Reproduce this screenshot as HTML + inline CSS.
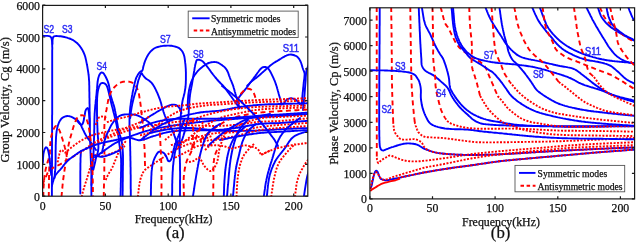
<!DOCTYPE html><html><head><meta charset="utf-8"><style>html,body{margin:0;padding:0;background:#fff;width:637px;height:243px;overflow:hidden}svg{display:block}.t{font-family:"Liberation Serif","Times New Roman",serif;fill:#111;stroke:#111;stroke-width:0.25}.m{font-family:"Liberation Sans",Arial,sans-serif;fill:#2a2af5;stroke:#2a2af5;stroke-width:0.45}.b{fill:none;stroke:#0000ff;stroke-width:1.9;stroke-linejoin:round;stroke-linecap:round}.rd{fill:none;stroke:#ff0000;stroke-width:1.9;stroke-dasharray:5 3.5}.ro{fill:none;stroke:#ff0000;stroke-width:1.9;stroke-dasharray:2 1.5}.r{fill:none;stroke:#ff0000;stroke-width:1.9;stroke-linejoin:round}.ax{fill:none;stroke:#1a1a1a;stroke-width:1.2}</style></head><body>
<svg width="637" height="243" viewBox="0 0 637 243">
<defs><clipPath id="cl"><rect x="42.6" y="5.4" width="265.2" height="190.8"/></clipPath>
<clipPath id="cr"><rect x="369.9" y="7.8" width="264.7" height="191.1"/></clipPath></defs>
<g clip-path="url(#cl)">
<path class="b" d="M43.0,35.9 44.5,35.9 46.0,35.9 47.6,35.9 49.0,36.1 49.9,36.4 50.6,36.8 51.2,37.7 51.6,38.8 51.9,40.2 52.1,42.0 52.2,42.8 52.2,43.6 52.2,44.5 52.2,45.6 52.2,46.6 52.3,47.8 52.3,49.0 52.2,50.3 52.2,51.6 52.2,52.9 52.2,54.3 52.2,55.7 52.2,57.1 52.2,58.6 52.2,60.0 52.2,61.0 52.2,62.0 52.2,63.0 52.2,64.1 52.2,65.2 52.2,66.3 52.2,67.4 52.2,68.5 52.2,69.7 52.2,70.8 52.2,72.0 52.2,73.2 52.2,74.4 52.2,75.6 52.2,76.9 52.2,78.1 52.2,79.4 52.2,80.6 52.2,81.9 52.2,83.2 52.2,84.5 52.2,85.8 52.2,87.0 52.2,88.3 52.2,89.6 52.2,90.9 52.2,92.2 52.2,93.5 52.2,94.8 52.2,96.1 52.2,97.4 52.2,98.7 52.2,100.0 52.2,101.2 52.2,102.3 52.2,103.5 52.2,104.7 52.2,105.8 52.2,107.0 52.2,108.2 52.2,109.4 52.2,110.6 52.2,111.8 52.2,113.1 52.2,114.3 52.1,115.5 52.1,116.7 52.1,117.9 52.1,119.2 52.1,120.4 52.1,121.6 52.1,122.9 52.1,124.1 52.1,125.4 52.1,126.6 52.1,127.9 52.1,129.1 52.1,130.3 52.1,131.6 52.1,132.8 52.1,134.1 52.1,135.3 52.1,136.5 52.0,137.8 52.0,139.0 52.0,140.3 52.0,141.5 52.0,142.7 52.0,143.9 52.0,145.2 52.0,146.4 52.0,147.6 52.0,148.8 52.0,150.0 52.0,151.2 52.0,152.4 52.0,153.7 52.0,154.9 52.0,156.1 52.0,157.3 52.0,158.5 52.0,159.7 52.0,160.9 52.0,162.2 52.0,163.4 52.0,164.6 52.0,165.8 52.0,167.0 52.0,168.2 52.0,169.4 51.9,170.6 51.9,171.8 51.9,173.0 51.9,174.2 51.9,175.4 51.9,176.6 51.9,177.8 51.9,179.0 51.9,180.2 51.9,181.4 51.9,182.6 51.9,183.8 51.9,185.0 51.9,186.2 51.9,187.4 51.9,188.6 51.9,189.8 51.9,191.0 51.9,192.2 51.9,193.4 51.9,194.6 51.9,195.8 51.9,197.0"/>
<path class="b" d="M52.4,44.0 52.4,42.7 52.5,41.4 52.5,40.1 52.7,39.0 53.0,37.6 53.6,36.6 54.2,36.3 55.0,36.1 56.4,36.0 58.0,36.1 59.3,36.2 60.7,36.3 62.0,36.5 63.2,36.7 64.5,37.0 65.7,37.3 67.0,37.7 68.2,38.1 69.5,38.5 70.8,39.0 72.0,39.6 73.2,40.2 74.4,41.0 75.6,41.9 76.7,42.8 77.8,43.8 78.8,44.9 79.8,46.1 80.6,47.2 81.4,48.4 82.1,49.6 82.8,50.8 83.4,52.0 84.0,53.3 84.5,54.6 85.0,56.0 85.3,57.1 85.6,58.3 85.9,59.6 86.2,60.8 86.4,62.1 86.7,63.4 86.9,64.6 87.2,65.8 87.4,67.0 87.6,68.3 87.8,69.5 88.0,70.8 88.2,72.0 88.4,73.3 88.5,74.5 88.7,75.7 88.8,77.0 88.9,78.3 89.0,79.6 89.1,81.0 89.2,82.1 89.2,83.3 89.2,84.5 89.3,85.8 89.3,87.0 89.3,88.3 89.3,89.6 89.3,90.9 89.4,92.3 89.4,93.6 89.4,95.0 89.4,96.1 89.4,97.3 89.5,98.5 89.5,99.7 89.5,100.9 89.5,102.1 89.5,103.4 89.6,104.6 89.6,105.9 89.6,107.2 89.6,108.5 89.6,109.8 89.6,111.1 89.7,112.4 89.7,113.7 89.7,115.0 89.7,116.2 89.7,117.4 89.8,118.6 89.8,119.9 89.8,121.1 89.8,122.4 89.8,123.7 89.8,124.9 89.9,126.2 89.9,127.5 89.9,128.8 89.9,130.1 89.9,131.3 89.9,132.6 90.0,133.9 90.0,135.1 90.0,136.4 90.0,137.6 90.1,138.8 90.1,140.0 90.1,141.3 90.2,142.6 90.2,143.9 90.3,145.2 90.3,146.5 90.3,147.8 90.4,149.1 90.4,150.3 90.5,151.6 90.5,152.8 90.6,154.0 90.6,155.3 90.7,156.5 90.7,157.7 90.8,158.8 90.8,160.0 90.9,161.3 90.9,162.6 91.0,163.8 91.0,165.1 91.1,166.3 91.1,167.5 91.2,168.7 91.2,169.9 91.3,171.1 91.3,172.4 91.4,173.7 91.4,175.0 91.4,176.1 91.4,177.3 91.4,178.4 91.5,179.6 91.5,180.8 91.5,182.0 91.5,183.3 91.5,184.5 91.4,185.7 91.4,187.0 91.4,188.3 91.4,189.5 91.4,190.8 91.4,192.0 91.4,193.3 91.4,194.5 91.4,195.8 91.4,197.0"/>
<path class="b" d="M91.4,185.0 91.5,183.7 91.5,182.5 91.6,181.2 91.7,180.0 91.7,178.7 91.8,177.5 91.8,176.2 91.9,175.0 92.0,173.7 92.0,172.5 92.1,171.2 92.2,170.0 92.3,168.8 92.4,167.5 92.5,166.3 92.6,165.1 92.7,163.8 92.8,162.6 92.9,161.4 93.0,160.1 93.1,158.9 93.2,157.6 93.3,156.3 93.4,155.0 93.5,153.8 93.5,152.6 93.6,151.4 93.6,150.1 93.7,148.9 93.7,147.7 93.8,146.4 93.8,145.1 93.9,143.8 93.9,142.6 93.9,141.3 94.0,140.0 94.0,138.6 94.1,137.3 94.1,136.0 94.1,134.8 94.2,133.7 94.2,132.5 94.2,131.3 94.2,130.1 94.3,128.8 94.3,127.6 94.3,126.4 94.3,125.2 94.3,123.9 94.4,122.7 94.4,121.4 94.4,120.2 94.4,119.0 94.5,117.8 94.5,116.6 94.6,115.4 94.6,114.2 94.7,113.0 94.8,111.7 94.9,110.4 95.0,109.1 95.1,107.8 95.2,106.5 95.3,105.2 95.5,103.9 95.6,102.7 95.7,101.4 95.8,100.1 96.0,98.9 96.1,97.7 96.2,96.5 96.4,95.3 96.5,94.1 96.6,93.0 96.7,91.6 96.8,90.3 97.0,88.9 97.1,87.6 97.2,86.3 97.3,85.0 97.4,83.8 97.5,82.6 97.7,81.5 97.8,80.5 98.0,79.5 98.3,78.0 98.7,76.7 99.1,75.5 99.6,74.5 100.4,73.2 101.4,72.4 102.5,72.6 103.5,73.3 104.3,74.4 105.1,75.7 105.8,77.0 106.5,78.5 107.2,80.0 107.7,81.2 108.1,82.4 108.5,83.7 108.9,85.1 109.1,86.2 109.3,87.3 109.5,88.5 109.7,89.8 109.9,91.1 110.1,92.4 110.3,93.7 110.6,95.0 110.9,96.2 111.2,97.4 111.6,98.6 112.0,99.8 112.4,101.1 112.8,102.3 113.2,103.6 113.6,104.8 114.0,106.1 114.3,107.3 114.6,108.5 114.9,109.8 115.1,111.0 115.4,112.3 115.6,113.6 115.8,114.8 116.1,116.1 116.3,117.3 116.5,118.5 116.7,119.7 116.9,121.0 117.1,122.3 117.4,123.6 117.6,124.9 117.8,126.1 118.0,127.4 118.2,128.7 118.5,130.0 118.8,131.3 119.2,132.5 119.5,133.8 119.9,135.1 120.3,136.3 120.7,137.6 121.1,138.9 121.4,140.2 121.7,141.5 121.9,142.7 122.1,144.0 122.3,145.2 122.4,146.4 122.5,147.6 122.7,148.9 122.7,150.2 122.8,151.6 122.9,153.0 122.9,154.0 123.0,155.1 123.0,156.3 123.0,157.4 123.0,158.6 123.0,159.8 123.0,161.0 123.0,162.3 123.0,163.6 123.0,164.8 122.9,166.1 122.9,167.4 122.9,168.7 122.9,170.0 122.8,171.3 122.8,172.5 122.8,173.8 122.8,175.0 122.8,176.2 122.8,177.4 122.8,178.7 122.8,179.9 122.8,181.1 122.7,182.3 122.7,183.6 122.7,184.8 122.7,186.0 122.7,187.2 122.7,188.4 122.7,189.7 122.7,190.9 122.6,192.1 122.6,193.3 122.6,194.6 122.6,195.8 122.6,197.0"/>
<path class="b" d="M93.3,169.8 93.6,168.6 93.9,167.3 94.2,166.1 94.5,164.8 94.8,163.5 95.1,162.2 95.4,160.8 95.7,159.4 96.0,158.0 96.4,156.7 96.8,155.5 97.2,154.3 97.6,153.0 97.9,151.6 98.2,150.0 98.3,149.0 98.4,147.9 98.4,146.8 98.4,145.6 98.3,144.4 98.3,143.2 98.2,141.9 98.2,140.6 98.1,139.2 98.0,137.9 97.9,136.6 97.8,135.2 97.7,133.9 97.6,132.6 97.5,131.3 97.5,130.0 97.5,128.7 97.4,127.5 97.4,126.2 97.3,125.0 97.3,123.7 97.2,122.4 97.2,121.2 97.2,119.9 97.1,118.6 97.1,117.4 97.1,116.1 97.0,114.9 97.0,113.6 97.0,112.4 97.0,111.2 97.0,110.0 97.0,108.7 97.0,107.4 97.0,106.1 97.0,104.8 97.0,103.5 97.0,102.2 97.1,101.0 97.1,99.7 97.1,98.5 97.2,97.3 97.3,96.1 97.4,95.0 97.5,94.0 97.6,93.0 97.8,91.5 98.1,90.1 98.4,88.8 98.8,87.6 99.1,86.5 99.5,85.6 100.2,84.3 101.0,83.4 101.9,83.0 102.8,82.9 103.8,83.1 104.8,83.6 105.8,84.4 106.6,85.5 107.1,86.6 107.6,88.0 108.0,89.4 108.4,91.0 108.7,92.2 109.0,93.4 109.3,94.7 109.6,96.0 109.9,97.3 110.2,98.7 110.5,100.0 110.8,101.2 111.1,102.5 111.4,103.7 111.7,105.0 112.0,106.2 112.4,107.5 112.7,108.7 113.0,110.0 113.3,111.2 113.6,112.5 114.0,113.7 114.3,115.0 114.6,116.2 114.9,117.5 115.2,118.7 115.5,120.0 115.8,121.2 116.0,122.4 116.3,123.7 116.6,124.9 116.8,126.1 117.0,127.4 117.3,128.6 117.5,130.0 117.7,131.1 117.9,132.3 118.0,133.6 118.2,134.8 118.4,136.1 118.6,137.4 118.7,138.7 118.9,140.0 119.0,141.3 119.2,142.5 119.3,143.8 119.5,145.0 119.7,146.3 119.8,147.6 120.0,148.9 120.2,150.2 120.4,151.4 120.5,152.7 120.7,154.0 120.8,155.3 120.9,156.6 121.0,158.0 121.1,159.1 121.1,160.3 121.1,161.4 121.1,162.6 121.2,163.8 121.1,165.0 121.1,166.2 121.1,167.4 121.1,168.7 121.1,169.9 121.1,171.2 121.0,172.4 121.0,173.7 121.0,175.0 121.0,176.2 121.0,177.3 120.9,178.5 120.9,179.7 120.9,180.9 120.9,182.1 120.8,183.4 120.8,184.6 120.8,185.8 120.8,187.1 120.7,188.3 120.7,189.6 120.7,190.8 120.6,192.1 120.6,193.3 120.6,194.5 120.5,195.8 120.5,197.0"/>
<path class="rd" d="M103.7,197.0 103.7,195.8 103.8,194.6 103.8,193.3 103.8,192.1 103.8,190.9 103.9,189.7 103.9,188.4 103.9,187.2 104.0,186.0 104.0,184.8 104.0,183.6 104.1,182.3 104.1,181.1 104.1,179.9 104.1,178.7 104.2,177.4 104.2,176.2 104.2,175.0 104.2,173.8 104.2,172.5 104.3,171.3 104.3,170.1 104.3,168.8 104.3,167.6 104.3,166.3 104.3,165.1 104.3,163.9 104.3,162.6 104.4,161.4 104.4,160.2 104.4,159.0 104.4,157.7 104.4,156.5 104.4,155.3 104.4,154.2 104.4,153.0 104.4,151.7 104.4,150.5 104.4,149.2 104.4,147.9 104.4,146.7 104.4,145.4 104.4,144.2 104.4,142.9 104.4,141.7 104.4,140.5 104.4,139.4 104.4,138.2 104.4,137.1 104.4,136.0 104.4,135.0 104.4,133.6 104.4,132.2 104.4,130.9 104.3,129.7 104.3,128.5 104.3,127.3 104.4,126.1 104.4,125.0 104.5,123.6 104.6,122.4 104.7,121.2 104.8,119.9 105.0,118.5 105.2,117.4 105.3,116.2 105.5,114.9 105.8,113.6 106.0,112.3 106.2,111.0 106.5,109.7 106.7,108.5 106.9,107.3 107.1,106.0 107.3,104.8 107.5,103.6 107.8,102.4 108.0,101.2 108.2,100.1 108.5,99.0 108.8,97.7 109.2,96.5 109.6,95.3 110.0,94.1 110.5,93.0 111.1,91.9 111.7,90.8 112.3,89.7 113.0,88.8 113.8,87.8 114.6,87.0 115.5,86.1 116.6,85.1 117.8,84.1 119.0,83.3 120.3,82.7 121.7,82.2 123.1,81.8 124.4,81.6 125.8,81.4 127.0,81.4 128.3,81.5 129.7,81.8 130.9,82.2 132.1,82.7 133.4,83.3 134.5,84.2 135.3,85.1 136.0,86.2 136.6,87.4 137.2,88.6 137.7,90.0 138.2,91.3 138.6,92.5 138.9,93.7 139.1,95.0 139.3,96.3 139.5,97.6 139.7,99.0 139.9,100.3 140.1,101.5 140.3,102.7 140.5,103.9 140.6,105.1 140.8,106.2 140.9,107.4 141.0,108.7 141.2,110.0 141.3,111.1 141.5,112.3 141.6,113.5 141.7,114.7 141.9,115.9 142.0,117.2 142.2,118.5 142.3,119.8 142.4,121.1 142.6,122.4 142.7,123.7 142.8,125.0 142.9,126.2 143.0,127.5 143.1,128.7 143.2,130.0 143.3,131.2 143.4,132.5 143.5,133.7 143.6,135.0 143.7,136.2 143.8,137.5 143.9,138.7 144.0,140.0 144.1,141.3 144.2,142.5 144.2,143.8 144.3,145.1 144.4,146.4 144.5,147.6 144.5,148.9 144.6,150.2 144.7,151.4 144.7,152.6 144.8,153.8 144.8,155.0 144.8,156.3 144.9,157.6 144.9,158.8 144.9,160.0 144.9,161.2 144.9,162.4 145.0,163.6 145.0,164.8 145.0,166.0"/>
<path class="ro" d="M137.9,197.0 138.0,195.7 138.2,194.5 138.3,193.2 138.4,191.9 138.5,190.7 138.7,189.4 138.8,188.2 139.0,187.0 139.2,185.6 139.4,184.2 139.6,182.9 139.9,181.6 140.2,180.3 140.5,179.0 140.9,177.6 141.4,176.2 141.9,174.9 142.4,173.6 143.0,172.5 143.9,171.2 144.9,170.0 146.0,169.0 146.9,168.3 147.9,167.6 149.0,167.0 150.0,166.3 151.0,165.6 152.0,164.9 153.0,164.2 154.1,163.5 155.2,162.8 156.3,162.0 157.5,161.2 158.7,160.3 160.0,159.5 161.0,158.9 161.9,158.2 163.0,157.5 164.0,156.8 165.0,156.1 166.1,155.4 167.1,154.8 168.2,154.1 169.3,153.4 170.3,152.8 171.4,152.1 172.5,151.5 173.6,150.8 174.7,150.2 175.9,149.6 177.0,149.0 178.1,148.5 179.1,148.0 180.2,147.5 181.3,147.0 182.4,146.5 183.5,146.1 184.6,145.6 185.8,145.2 187.0,144.7 188.1,144.3 189.2,143.9 190.4,143.5 191.5,143.1 192.7,142.7 194.0,142.3 195.2,141.9 196.4,141.5 197.6,141.2 198.7,140.8 199.9,140.4 201.0,140.0 202.3,139.5 203.5,139.1 204.8,138.7 206.0,138.2 207.2,137.8 208.4,137.3 209.6,136.9 210.8,136.4 212.0,136.0"/>
<path class="b" d="M130.8,197.0 130.8,195.8 130.8,194.6 130.8,193.3 130.8,192.1 130.8,190.9 130.8,189.7 130.7,188.5 130.7,187.2 130.7,186.0 130.7,184.8 130.7,183.6 130.7,182.4 130.7,181.1 130.7,179.9 130.7,178.7 130.7,177.5 130.7,176.2 130.7,175.0 130.6,173.8 130.6,172.5 130.6,171.3 130.6,170.0 130.6,168.8 130.6,167.6 130.5,166.4 130.5,165.2 130.5,164.0 130.5,162.8 130.5,161.5 130.4,160.3 130.4,159.1 130.4,157.8 130.4,156.6 130.3,155.3 130.3,154.1 130.3,152.9 130.3,151.6 130.2,150.4 130.2,149.2 130.2,148.0 130.2,146.8 130.1,145.6 130.1,144.5 130.1,143.3 130.0,142.2 130.0,141.1 130.0,140.0 130.0,138.6 129.9,137.3 129.9,135.9 129.8,134.6 129.8,133.3 129.7,132.0 129.7,130.7 129.7,129.4 129.6,128.2 129.6,126.9 129.5,125.7 129.5,124.5 129.5,123.4 129.5,122.2 129.5,121.1 129.5,120.0 129.5,118.7 129.6,117.4 129.6,116.2 129.6,115.0 129.7,113.9 129.8,112.7 129.9,111.6 130.0,110.4 130.1,109.2 130.2,108.0 130.3,106.8 130.5,105.6 130.7,104.3 130.8,103.1 131.0,101.8 131.2,100.5 131.5,99.3 131.7,98.0 131.9,96.7 132.1,95.5 132.4,94.2 132.6,93.0 132.8,91.7 133.1,90.4 133.4,89.0 133.6,87.7 133.9,86.4 134.2,85.1 134.5,83.8 134.8,82.6 135.1,81.4 135.4,80.4 135.7,79.4 136.2,77.9 136.8,76.7 137.4,75.6 138.0,74.5 138.8,73.4 139.6,72.4 140.4,71.6 141.3,71.2 142.2,70.8 142.6,69.9 142.9,68.7 143.2,67.3 143.5,66.0 143.9,64.8 144.2,63.6 144.6,62.4 145.0,61.2 145.5,60.0 146.1,58.7 146.7,57.4 147.3,56.2 148.0,55.0 148.8,53.8 149.6,52.7 150.5,51.7 151.4,50.7 152.5,49.7 153.7,48.8 155.0,48.0 156.4,47.4 157.8,47.0 159.2,46.6 160.4,46.3 161.7,46.1 163.0,45.9 164.4,45.8 165.8,45.7 167.3,45.6 168.7,45.6 170.2,45.7 171.6,45.8 173.0,46.1 174.3,46.4 175.6,46.7 176.9,47.1 178.1,47.6 179.2,48.2 180.2,49.0 181.0,49.8 182.0,51.0 182.8,52.3 183.3,53.4 183.8,54.7 184.2,56.0 184.5,57.3 184.7,58.7 184.9,60.2 185.1,61.7 185.2,62.9 185.4,64.2 185.5,65.4 185.6,66.7 185.7,68.0 185.8,69.4 185.8,70.7 185.9,72.1 185.9,73.5 185.9,75.0 185.9,76.2 185.9,77.6 185.9,78.9 185.9,80.3 185.8,81.7 185.8,83.1 185.7,84.4 185.6,85.7 185.5,87.0 185.3,88.3 185.1,89.5 184.9,90.6 184.7,91.8 184.5,93.0 184.2,94.4 183.8,95.7 183.5,97.0 183.1,98.4 182.8,99.8 182.5,101.1 182.3,102.4 182.1,103.7 181.9,105.1 181.7,106.5 181.5,108.0 181.4,109.1 181.3,110.2 181.1,111.4 181.0,112.6 180.9,113.8 180.8,115.0 180.8,116.2 180.7,117.5 180.6,118.7 180.5,120.0 180.4,121.2 180.4,122.4 180.3,123.7 180.2,124.9 180.2,126.2 180.1,127.5 180.0,128.7 180.0,130.0 179.9,131.3 179.9,132.5 179.8,133.8 179.8,135.0 179.8,136.3 179.7,137.6 179.7,138.9 179.6,140.2 179.6,141.4 179.6,142.7 179.5,144.0 179.5,145.3 179.5,146.6 179.5,148.0 179.5,149.1 179.5,150.3 179.6,151.4 179.6,152.5 179.6,153.7 179.7,154.8 179.7,156.0 179.8,157.2 179.8,158.4 179.9,159.7 179.9,161.0 179.9,162.3 180.0,163.6 180.0,165.0 180.0,166.1 180.0,167.1 180.0,168.2 180.0,169.4 180.0,170.5 180.1,171.7 180.1,172.9 180.1,174.1 180.1,175.3 180.1,176.6 180.1,177.8 180.1,179.1 180.0,180.4 180.0,181.7 180.0,182.9 180.0,184.2 180.0,185.5 180.0,186.8 180.0,188.1 180.0,189.4 180.0,190.7 180.0,192.0 180.0,193.2 180.0,194.5 180.0,195.8 180.0,197.0"/>
<path class="b" d="M130.2,118.0 130.4,116.8 130.5,115.5 130.6,114.3 130.8,113.0 130.9,111.8 131.1,110.5 131.3,109.3 131.5,108.0 131.7,106.8 132.0,105.5 132.2,104.3 132.5,103.0 132.8,101.8 133.1,100.5 133.4,99.3 133.7,98.1 134.0,97.0 134.4,95.6 134.8,94.2 135.2,92.9 135.6,91.6 136.0,90.3 136.4,89.0 136.7,87.6 137.0,86.3 137.3,84.9 137.6,83.5 137.9,82.2 138.2,81.0 138.6,79.6 139.1,78.3 139.5,77.1 140.0,76.0 140.7,74.1 141.4,73.0 141.9,73.5 142.5,74.5 143.2,75.5 144.1,76.6 145.1,77.8 146.0,78.6 147.0,79.3 148.2,80.0 149.3,80.8 150.4,81.7 151.4,82.6 152.2,83.6 152.9,84.6 153.6,85.7 154.3,86.8 154.9,88.0 155.5,89.2 156.1,90.4 156.6,91.5 157.2,92.7 157.7,93.9 158.2,95.1 158.7,96.3 159.1,97.5 159.6,98.6 160.0,99.8 160.4,101.0 160.8,102.2 161.1,103.3 161.4,104.5 161.7,105.7 162.1,106.8 162.4,108.0 162.8,109.2 163.1,110.3 163.4,111.5 163.8,112.6 164.2,113.8 164.6,114.9 165.0,116.0 165.5,117.2 166.0,118.3 166.6,119.4 167.2,120.6 167.8,121.7 168.4,122.9 168.9,124.0 169.5,125.1 170.1,126.2 170.7,127.3 171.3,128.5 171.9,129.6 172.5,130.8 173.0,132.0 173.5,133.2 174.0,134.4 174.4,135.6 174.9,136.9 175.3,138.1 175.7,139.4 176.2,140.6 176.6,141.7 177.0,142.7 177.6,144.2 178.3,145.5 178.9,146.7 179.5,148.0"/>
<path class="b" d="M179.5,146.4 180.0,145.2 180.5,143.9 180.9,142.7 181.4,141.4 181.9,140.2 182.4,138.9 182.8,137.7 183.2,136.5 183.6,135.3 183.9,134.1 184.3,132.9 184.6,131.7 184.9,130.5 185.2,129.2 185.5,128.0 185.8,126.8 186.2,125.6 186.5,124.3 186.9,123.1 187.2,121.8 187.6,120.5 187.9,119.3 188.1,118.0 188.3,116.8 188.4,115.5 188.6,114.3 188.7,113.1 188.7,111.9 188.8,110.6 188.9,109.3 189.0,108.0 189.1,106.8 189.2,105.5 189.3,104.2 189.3,102.9 189.4,101.5 189.5,100.2 189.6,98.9 189.7,97.6 189.9,96.3 190.0,95.0 190.2,93.7 190.4,92.5 190.6,91.3 190.8,90.1 191.1,88.9 191.3,87.7 191.5,86.5 191.8,85.2 192.0,84.0 192.2,82.8 192.4,81.6 192.6,80.4 192.8,79.1 193.0,77.9 193.2,76.6 193.4,75.4 193.6,74.3 193.8,73.1 194.0,72.0 194.3,70.5 194.5,69.1 194.7,67.7 195.0,66.4 195.2,65.1 195.5,64.0 195.9,62.4 196.3,61.0 196.9,60.0 198.1,59.7 199.5,59.8 201.0,60.3 202.5,61.2 203.5,62.1 204.5,63.3 205.5,64.5 206.4,65.6 207.2,66.7 208.1,67.8 209.0,69.0 209.8,70.1 210.6,71.2 211.3,72.3 212.2,73.4 213.0,74.5 213.8,75.5 214.6,76.5 215.4,77.5 216.3,78.5 217.1,79.5 218.0,80.5 218.9,81.5 219.9,82.5 220.8,83.5 221.8,84.4 222.8,85.5 223.7,86.5 224.5,87.5 225.3,88.4 226.0,89.4 226.8,90.4 227.5,91.4 228.2,92.5 229.0,93.5 229.7,94.5 230.4,95.5 231.2,96.5 231.9,97.5 232.6,98.5 233.3,99.5 234.0,100.4 234.7,101.4 235.5,102.5 236.3,103.6 237.1,104.7 237.9,105.8 238.6,106.9 239.4,108.0"/>
<path class="b" d="M187.5,108.0 187.6,106.7 187.6,105.4 187.7,104.0 187.8,102.7 187.8,101.3 187.9,100.0 188.0,98.7 188.1,97.4 188.2,96.2 188.3,95.0 188.5,93.6 188.7,92.3 188.9,91.0 189.1,89.7 189.4,88.5 189.7,87.2 190.0,86.0 190.3,84.8 190.7,83.6 191.1,82.4 191.5,81.3 192.0,80.2 192.5,79.1 193.0,78.0 193.6,76.9 194.2,75.8 194.9,74.8 195.6,73.8 196.3,72.9 197.0,72.0 197.9,70.9 198.9,69.9 199.9,68.9 201.0,68.0 202.0,67.2 203.1,66.3 204.2,65.6 205.3,64.8 206.3,64.2 207.5,63.5 208.7,63.0 210.0,62.6 211.4,62.3 212.9,62.1 214.3,62.0 215.6,62.1 216.8,62.3 218.0,62.7 219.5,63.5 221.0,64.5 222.4,65.4 223.7,66.4 224.8,67.4 225.8,68.6 226.8,70.0 227.3,71.0 227.8,72.0 228.3,73.2 228.7,74.4 229.1,75.6 229.6,76.8 230.0,78.0 230.5,79.3 231.1,80.6 231.6,81.8 232.1,83.1 232.6,84.4 233.1,85.7 233.5,86.9 233.8,88.1 234.2,89.3 234.5,90.5 234.8,91.7 235.2,92.8 235.5,94.0 235.9,95.3 236.3,96.5 236.7,97.8 237.1,99.0 237.5,100.2 237.8,101.4 238.2,102.7 238.5,104.1 238.8,105.4 239.1,106.7 239.4,108.0"/>
<path class="b" d="M236.3,101.4 237.0,100.3 237.7,99.3 238.4,98.2 239.2,97.1 240.0,96.0 240.7,95.0 241.6,94.0 242.4,92.9 243.2,91.9 244.1,90.8 244.9,89.8 245.7,88.8 246.5,87.8 247.2,86.8 247.9,85.9 248.6,84.9 249.3,84.0 250.0,83.0 250.7,82.1 251.5,81.1 252.2,80.1 253.0,79.1 253.7,78.1 254.4,77.2 255.1,76.3 255.9,75.1 256.7,74.1 257.4,73.0 258.2,72.0 259.1,70.7 260.1,69.5 261.0,68.5 262.0,67.7 263.0,67.2 264.2,67.0 265.5,67.0 266.6,67.3 267.7,68.0 268.4,68.8 269.1,69.7 269.8,70.8 270.5,72.0 271.1,73.1 271.7,74.3 272.3,75.6 272.9,76.9 273.5,78.2 274.0,79.4 274.6,80.7 275.1,82.0 275.6,83.3 276.0,84.7 276.5,86.0 276.9,87.2 277.2,88.5 277.6,89.7 277.9,91.0 278.3,92.3 278.6,93.5 279.0,94.9 279.4,96.2 279.8,97.5 280.1,98.8 280.5,100.0 280.9,101.4 281.4,102.7 281.8,104.0"/>
<path class="b" d="M247.2,85.7 248.1,84.8 249.1,83.8 250.0,82.9 251.0,81.9 252.0,81.0 253.0,80.2 254.0,79.4 255.1,78.6 256.2,77.9 257.2,77.1 258.2,76.3 259.2,75.4 260.2,74.6 261.1,73.7 262.0,72.9 263.0,72.0 264.0,71.1 265.0,70.2 266.0,69.3 267.0,68.4 268.0,67.5 269.0,66.7 270.0,65.8 271.0,65.0 272.0,64.3 273.0,63.5 274.1,62.8 275.2,62.1 276.3,61.4 277.5,60.8 278.6,60.1 279.7,59.4 280.8,58.7 281.8,58.0 282.9,57.4 284.0,56.8 285.1,56.2 286.3,55.7 287.4,55.2 288.5,54.8 289.6,54.6 290.9,54.5 292.2,54.7 293.5,55.0 294.9,55.5 296.3,56.1 297.5,57.0 298.3,57.8 299.1,58.8 299.7,59.9 300.3,61.0 300.9,62.3 301.4,63.7 301.8,65.1 302.2,66.4 302.6,67.7 303.0,68.9 303.4,70.0 304.0,71.4 304.5,73.0 304.6,73.9 304.6,74.9 304.5,76.0 304.4,77.3 304.3,78.6 304.1,79.9 303.9,81.2 303.8,82.5 303.6,83.8 303.5,85.0 303.4,86.3 303.2,87.6 303.1,88.8 303.0,90.1 302.9,91.3 302.7,92.5 302.6,93.8 302.5,95.0 302.4,96.2 302.3,97.5 302.2,98.7 302.1,100.0 302.0,101.2 302.0,102.5 301.9,103.7 301.8,105.0"/>
<path class="b" d="M303.0,110.0 303.1,108.7 303.3,107.5 303.4,106.2 303.5,105.0 303.6,103.7 303.8,102.4 303.9,101.2 304.0,99.9 304.2,98.7 304.3,97.4 304.4,96.2 304.5,95.0 304.6,93.7 304.7,92.3 304.8,91.0 304.9,89.6 305.0,88.3 305.1,87.0 305.2,85.7 305.3,84.4 305.4,83.2 305.5,82.0 305.6,80.6 305.7,79.2 305.7,77.8 305.8,76.5 305.9,75.3 306.0,74.1 306.1,73.0 306.3,71.5 306.6,70.3 307.0,69.0 307.5,67.7 308.0,66.3 308.5,65.0"/>
<path class="b" d="M281.5,104.5 282.4,104.2 283.4,103.8 284.2,102.9 285.1,101.7 286.0,100.4 287.0,99.5 288.3,98.8 289.8,98.4 291.2,98.3 292.9,98.6 294.5,99.2 295.6,99.8 296.6,100.6 297.5,101.4 298.4,102.2 299.2,103.1 300.0,104.0"/>
<path class="rd" d="M236.3,101.4 236.9,100.3 237.5,99.2 238.1,98.1 238.7,97.0 239.4,96.0 240.0,95.0 240.8,93.9 241.7,92.8 242.6,91.9 243.5,91.0 244.7,90.1 245.9,89.3 247.2,88.8 248.5,88.7 249.8,89.0 251.0,89.5 252.0,90.3 252.8,91.3 253.5,92.5 254.1,93.8 254.7,95.3 255.1,96.7 255.5,98.1 255.7,99.6 256.0,101.0"/>
<path class="b" d="M54.5,178.0 54.6,176.7 54.7,175.4 54.8,174.1 54.9,172.8 55.1,171.5 55.2,170.2 55.3,168.9 55.4,167.6 55.4,166.3 55.5,165.0 55.5,163.8 55.6,162.6 55.6,161.4 55.6,160.3 55.6,159.1 55.6,157.9 55.6,156.8 55.6,155.5 55.6,154.3 55.6,153.0 55.6,151.8 55.6,150.6 55.7,149.3 55.7,148.0 55.7,146.7 55.7,145.3 55.8,143.9 55.8,142.6 55.9,141.3 55.9,140.0 56.0,138.7 56.0,137.5 56.1,136.4 56.2,135.3 56.3,133.9 56.5,132.6 56.6,131.4 56.8,130.3 57.0,129.1 57.2,128.1 57.5,127.0 57.9,125.5 58.4,124.1 58.9,122.7 59.5,121.5 60.4,120.1 61.3,118.8 62.5,117.8 63.6,117.1 64.8,116.6 66.1,116.2 67.3,116.0 68.5,116.1 69.7,116.3 70.9,116.7 72.0,117.2 73.4,117.9 74.8,118.8 76.0,119.7 77.1,120.8 78.0,121.9 79.0,123.0 80.3,124.3 81.5,125.0 82.3,124.3 83.0,123.0 83.4,121.9 83.7,120.5 84.0,119.0 84.2,117.4 84.5,116.0 84.8,114.7 85.0,113.3 85.2,112.0 85.5,110.8 85.9,109.8 86.8,108.5 87.7,108.0 88.2,108.6 88.5,110.0 88.8,111.7 89.0,113.5 89.1,114.6 89.2,115.8 89.3,117.0 89.4,118.3 89.4,119.7 89.5,121.0 89.5,122.4 89.5,123.7 89.6,125.0"/>
<path class="b" d="M76.0,118.5 76.9,119.6 77.9,120.7 78.8,121.8 79.7,123.0 80.3,124.0 80.9,125.1 81.4,126.2 81.9,127.3 82.5,128.5 83.0,129.6 83.6,130.7 84.1,131.8 84.6,133.0 85.2,134.1 85.9,135.3 86.6,136.4 87.3,137.5 88.1,138.6 88.9,139.7 89.7,140.8 90.5,141.9 91.3,143.0 92.0,144.0 92.7,145.1 93.4,146.1 94.1,147.1 94.7,148.0 95.3,149.0 96.0,150.0"/>
<path class="b" d="M140.0,122.7 141.1,122.0 142.3,121.2 143.4,120.5 144.6,119.7 145.7,119.0 146.9,118.2 148.0,117.5 149.1,116.8 150.3,116.0 151.4,115.3 152.6,114.6 153.7,113.9 154.9,113.2 156.0,112.5 157.1,111.8 158.3,111.1 159.5,110.5 160.6,109.8 161.8,109.2 162.9,108.6 164.0,108.0 165.3,107.3 166.5,106.7 167.7,106.1 168.9,105.6 170.0,105.2 171.4,104.8 172.7,104.6 174.0,104.6 175.6,104.9 177.0,105.6 177.9,106.3 178.7,107.2 179.5,108.3 180.1,109.4 180.6,110.5 181.0,111.8 181.5,113.0"/>
<path class="b" d="M80.9,151.2 80.8,152.4 80.8,153.6 80.7,154.8 80.7,156.0 80.6,157.2 80.5,158.6 80.5,160.0 80.5,161.0 80.5,162.1 80.4,163.3 80.4,164.5 80.4,165.8 80.4,167.1 80.4,168.4 80.4,169.7 80.3,171.1 80.3,172.4 80.3,173.8 80.3,175.1 80.3,176.4 80.3,177.6 80.3,178.8 80.3,180.0 80.3,181.3 80.3,182.6 80.3,183.9 80.3,185.1 80.3,186.3 80.3,187.5 80.3,188.7 80.3,189.9 80.3,191.1 80.3,192.3 80.3,193.5"/>
<path class="rd" d="M48.8,197.0 48.8,195.8 48.8,194.6 48.8,193.4 48.8,192.3 48.8,191.1 48.8,189.9 48.9,188.7 48.9,187.5 48.9,186.3 48.9,185.0 48.9,183.8 48.9,182.6 49.0,181.4 49.0,180.1 49.0,178.9 49.0,177.6 49.0,176.3 49.1,175.1 49.1,173.8 49.1,172.5 49.2,171.3 49.2,170.0 49.2,168.7 49.3,167.5 49.3,166.2 49.4,165.0 49.4,163.7 49.5,162.5 49.5,161.2 49.6,160.0 49.6,158.7 49.7,157.5 49.7,156.2 49.8,155.0 49.9,153.7 49.9,152.4 49.9,151.1 50.0,149.8 50.0,148.5 50.1,147.2 50.1,145.9 50.2,144.6 50.3,143.4 50.3,142.2 50.5,141.1 50.6,140.0 50.8,138.5 51.1,137.0 51.4,135.7 51.8,134.4 52.1,133.2 52.5,132.0 53.0,130.7 53.4,129.5 54.0,128.4 54.5,127.5 55.2,126.5 56.0,126.0 56.8,126.2 57.5,126.7 58.2,127.7 58.9,129.1 59.5,130.5 60.0,131.6 60.4,132.8 60.8,134.1 61.2,135.3 61.7,136.7 62.1,138.1 62.6,139.5 63.0,141.0 63.4,142.3 63.8,143.7 64.2,145.0 64.6,146.4 64.9,147.7 65.3,149.1 65.6,150.4 65.9,151.7 66.2,153.0 66.4,154.4 66.6,155.7 66.8,157.0"/>
<path class="rd" d="M61.5,197.0 61.6,195.8 61.7,194.5 61.8,193.3 61.9,192.1 62.0,190.9 62.1,189.6 62.3,188.4 62.4,187.2 62.5,186.0 62.6,184.7 62.8,183.5 62.9,182.2 63.1,181.0 63.2,179.7 63.4,178.5 63.5,177.2 63.7,176.0 63.9,174.7 64.1,173.5 64.2,172.2 64.4,171.0 64.6,169.7 64.8,168.5 65.0,167.2 65.2,166.0 65.4,164.7 65.6,163.4 65.8,162.1 66.0,160.8 66.2,159.5 66.4,158.2 66.6,157.0 66.8,155.5 67.0,154.1 67.2,152.8 67.4,151.4 67.6,150.0 67.8,148.6 68.1,147.2 68.4,145.8 68.7,144.4 69.0,143.0 69.3,141.7 69.6,140.4 70.0,139.1 70.3,137.8 70.7,136.6 71.0,135.3 71.4,133.9 71.8,132.5 72.2,131.1 72.6,129.8 73.0,128.5 73.4,127.1 73.8,125.7 74.3,124.3 74.8,123.0 75.3,121.8 75.8,120.6 76.3,119.5 76.9,118.4 77.5,117.5 78.4,116.6 79.5,115.9 80.5,115.5 81.8,115.3 83.0,115.4 84.3,116.0 85.5,117.0 86.1,118.0 86.6,119.2 87.0,120.5 87.5,121.9 87.9,123.3 88.3,125.0 88.5,126.0 88.8,127.2 89.0,128.4 89.2,129.6 89.4,130.9 89.6,132.3 89.8,133.6 90.0,135.0 90.1,136.1 90.3,137.3 90.4,138.5 90.6,139.7 90.7,140.9 90.8,142.2 90.9,143.4 91.1,144.7 91.2,146.0 91.3,147.3 91.4,148.7 91.5,150.0 91.6,151.2 91.7,152.3 91.7,153.5 91.8,154.7 91.9,155.9 92.0,157.2 92.0,158.4 92.1,159.6 92.1,160.9 92.2,162.2 92.3,163.4 92.3,164.7 92.4,166.0 92.4,167.3 92.5,168.7 92.5,170.0 92.5,171.1 92.6,172.3 92.6,173.5 92.6,174.7 92.7,175.9 92.7,177.1 92.7,178.3 92.7,179.5 92.8,180.8 92.8,182.0 92.8,183.2 92.8,184.5 92.8,185.8 92.8,187.0 92.9,188.3 92.9,189.5 92.9,190.8 92.9,192.0 92.9,193.3 93.0,194.5 93.0,195.8 93.0,197.0"/>
<path class="ro" d="M57.5,162.3 57.9,161.0 58.2,159.5 58.5,157.9 58.8,156.4 59.2,154.8 59.5,153.4 59.9,152.1 60.3,151.1 60.7,150.4 61.2,150.0 62.4,150.4 63.6,151.7 64.9,153.0"/>
<path class="ro" d="M64.9,153.0 65.9,152.1 66.9,151.3 67.9,150.4 68.9,149.5 69.9,148.7 71.0,147.8 72.0,147.0 73.1,146.2 74.2,145.3 75.3,144.5 76.4,143.7 77.5,142.9 78.6,142.2 79.7,141.5 80.8,140.8 81.8,140.2 82.9,139.6 83.9,139.1 85.0,138.5 86.0,138.0 87.2,137.4 88.4,136.8 89.6,136.3 90.8,135.8 92.0,135.3 93.1,134.9 94.3,134.6 95.4,134.3 96.6,134.1 97.8,133.8 99.0,133.5 100.3,133.2 101.6,132.9 102.9,132.5 104.2,132.2 105.6,131.9 106.9,131.6 108.2,131.3 109.6,131.1 110.9,130.8 112.2,130.5 113.6,130.3 115.0,130.0 116.2,129.8 117.4,129.6 118.6,129.3 119.8,129.1 121.1,128.9 122.4,128.6 123.7,128.3 125.0,127.9 126.1,127.6 127.2,127.2 128.3,126.8 129.5,126.4 130.7,126.0 131.9,125.5 133.2,125.0 134.4,124.5 135.6,124.0 136.7,123.5 137.9,123.0 139.0,122.5 140.0,122.0 141.2,121.4 142.4,120.7 143.5,120.1 144.6,119.4 145.7,118.7 146.8,118.0 147.8,117.4 148.9,116.7 150.0,116.0"/>
<path class="ro" d="M79.7,153.0 80.8,152.3 81.8,151.5 82.9,150.8 83.9,150.0 85.0,149.3 86.0,148.5 87.0,147.7 88.0,147.0 89.0,146.2 90.0,145.5 91.0,144.7 92.0,144.0 93.1,143.3 94.3,142.6 95.4,141.9 96.6,141.3 97.8,140.6 99.0,140.0 100.1,139.5 101.2,139.0 102.3,138.5 103.5,138.0 104.6,137.6 105.8,137.1 106.9,136.6 108.0,136.1 109.2,135.6 110.3,135.1 111.5,134.5 112.6,134.0 113.8,133.5 115.0,133.0 116.2,132.5 117.4,132.0 118.6,131.5 119.8,131.0 121.0,130.5 122.3,130.1 123.6,129.6 125.0,129.2 126.1,128.9 127.3,128.6 128.5,128.3 129.8,128.0 131.0,127.8 132.3,127.5 133.6,127.3 134.9,127.0 136.2,126.8 137.5,126.5 138.7,126.3 140.0,126.0"/>
<path class="ro" d="M81.5,197.0 81.9,195.7 82.2,194.4 82.6,193.1 82.9,191.8 83.3,190.5 83.6,189.3 84.0,188.0 84.4,186.6 84.8,185.3 85.2,184.0 85.6,182.7 86.1,181.4 86.5,180.0 86.9,178.8 87.2,177.5 87.6,176.3 88.0,175.0 88.4,173.7 88.8,172.4 89.1,171.2 89.5,170.0 89.9,168.6 90.3,167.3 90.7,166.0 91.1,164.7 91.5,163.5 92.0,162.3 92.6,161.2 93.1,160.1 93.8,159.1 94.4,158.0 95.0,157.0"/>
<path class="ro" d="M95.7,125.0 96.1,123.7 96.6,122.4 97.0,121.1 97.5,120.0 98.3,118.4 99.4,117.2 100.5,116.7 101.8,116.5 103.1,116.6 104.4,117.0 105.6,117.8 106.9,118.5"/>
<path class="ro" d="M105.6,180.0 106.2,178.8 106.7,177.6 107.3,176.4 107.9,175.2 108.5,174.0 109.1,172.9 109.8,171.8 110.5,170.8 111.2,169.7 111.8,168.5 112.4,167.3 112.9,166.1 113.4,164.8 114.0,163.5 114.5,162.3 115.0,161.0 115.5,159.8 116.0,158.5 116.5,157.3 117.0,156.1 117.5,154.9 118.0,153.7 118.5,152.6 118.9,151.4 119.4,150.3 119.9,149.2 120.4,148.1 121.0,147.0 121.7,145.9 122.5,144.9 123.4,143.9 124.3,143.0 125.1,142.0 126.0,141.0"/>
<path class="ro" d="M94.5,154.9 95.7,155.2 96.9,155.5 98.2,155.8 99.4,156.0 100.6,156.2 101.9,156.2 103.1,156.1 104.3,155.8 105.6,155.5 106.9,155.1 108.1,154.6 109.4,154.2 110.6,153.7 111.9,153.2 113.1,152.8 114.4,152.2 115.7,151.7 116.9,151.2 118.1,150.6 119.2,150.0 120.5,149.2 121.6,148.5 122.8,147.6 123.9,146.8 125.0,146.0"/>
<path class="b" d="M94.5,155.5 95.7,155.8 96.9,156.1 98.2,156.4 99.4,156.6 100.6,156.8 101.9,156.8 103.1,156.7 104.3,156.4 105.6,156.1 106.9,155.7 108.1,155.2 109.4,154.8 110.6,154.3 111.8,153.8 113.1,153.3 114.3,152.8 115.5,152.2 116.8,151.7 118.0,151.1 119.2,150.6"/>
<path class="rd" d="M42.8,185.0 43.0,183.8 43.4,182.5 43.8,181.4 44.4,180.2 45.0,178.8 45.6,177.5 46.2,176.2 46.7,175.0 47.2,173.8 47.7,172.6 48.3,171.5 49.0,170.6 49.9,169.8 50.9,169.1 52.0,168.5 53.2,167.8 54.3,167.2 55.4,166.7 56.6,166.1 57.8,165.5 59.0,164.9 60.2,164.3 61.4,163.6 62.6,162.9 63.8,162.2 65.0,161.4 66.1,160.7 67.3,160.0 68.6,159.3 69.8,158.5 71.0,157.8 72.3,157.1 73.5,156.4"/>
<path class="ro" d="M73.5,156.4 74.6,155.7 75.7,154.9 76.8,154.2 77.8,153.5 78.9,152.7 80.0,152.0 81.1,151.3 82.2,150.6 83.4,150.0 84.5,149.4 85.7,148.9 86.9,148.4 88.2,147.9 89.4,147.4 90.7,146.9 91.9,146.5 93.0,146.0 94.0,145.5 95.0,145.0 96.1,144.3 97.0,143.6 97.9,142.9 98.8,142.2 100.0,141.5 100.8,141.1 101.7,140.6 102.7,140.2 103.7,139.7 104.8,139.2 105.9,138.7 107.1,138.3 108.3,137.8 109.5,137.3 110.7,136.8 112.0,136.4 113.2,135.9 114.4,135.4 115.6,135.0 116.7,134.6 117.8,134.2 118.9,133.8 120.0,133.4 121.1,133.0 122.2,132.5 123.3,132.1 124.4,131.7 125.6,131.3 126.7,131.0 127.9,130.6 129.1,130.2 130.2,129.8 131.4,129.5 132.6,129.1 133.8,128.8 135.0,128.5 136.2,128.2 137.4,127.9 138.6,127.7 139.8,127.4 141.0,127.2 142.3,127.0 143.5,126.8 144.8,126.5 146.0,126.3 147.3,126.2 148.5,126.0 149.8,125.8 151.1,125.6 152.3,125.4 153.6,125.2 154.8,125.0 156.1,124.9 157.3,124.7 158.5,124.5 159.7,124.3 160.9,124.1 162.1,123.9 163.4,123.7 164.6,123.6 165.8,123.4 167.0,123.2 168.2,123.0 169.3,122.8 170.5,122.7 171.7,122.5 172.9,122.3 174.1,122.2 175.3,122.0 176.5,121.9 177.6,121.7 178.8,121.6 180.0,121.5 181.3,121.4 182.5,121.3 183.8,121.2 185.0,121.1 186.3,121.1 187.5,121.0 188.8,120.9 190.0,120.9 191.3,120.8 192.5,120.8 193.8,120.8 195.0,120.7 196.3,120.7 197.5,120.6 198.8,120.6 200.0,120.5"/>
<path class="rd" d="M43.3,197.0 43.3,195.7 43.4,194.5 43.4,193.2 43.4,192.0 43.5,190.7 43.5,189.5 43.5,188.2 43.6,187.0 43.7,185.7 43.8,184.4 43.8,183.1 43.9,181.8 44.0,180.5 44.2,179.3 44.3,178.0 44.5,176.6 44.6,175.3 44.8,173.9 45.0,172.6 45.3,171.3 45.5,170.0 45.8,168.7 46.1,167.4 46.5,166.1 46.8,164.8 47.2,163.5 47.5,162.3 47.9,161.0 48.3,159.8 48.7,158.5 49.0,157.3 49.4,156.0"/>
<path class="b" d="M51.9,186.0 52.2,184.8 52.5,183.5 52.8,182.3 53.2,181.1 53.5,180.0 53.9,178.6 54.4,177.3 55.0,176.0 55.6,175.0 56.4,174.0 57.2,173.0 58.0,172.0 59.0,170.9 60.1,169.8 61.2,168.5 62.0,167.6 62.8,166.5 63.6,165.4 64.5,164.3 65.4,163.1 66.4,162.1 67.3,161.1 68.3,160.2 69.3,159.3 70.3,158.5 71.4,157.8 72.4,157.0 73.5,156.2 74.5,155.5 75.5,154.7 76.6,154.0 77.6,153.3 78.7,152.5 79.8,151.9 80.9,151.2 82.0,150.6 83.1,150.1 84.2,149.5 85.3,149.0 86.5,148.5 87.7,148.0 88.8,147.5 90.0,147.0 91.2,146.5 92.4,146.1 93.6,145.6 94.8,145.2 96.0,144.7 97.3,144.3 98.6,143.9 100.0,143.5 101.1,143.2 102.2,142.9 103.4,142.6 104.6,142.3 105.8,142.1 107.1,141.8 108.3,141.5 109.6,141.3 110.8,141.0 112.0,140.7 113.3,140.5 114.4,140.2 115.6,140.0 116.9,139.7 118.2,139.4 119.4,139.0 120.7,138.7 121.9,138.4 123.1,138.1 124.3,137.8 125.6,137.7 126.8,137.5 128.0,137.5 129.2,137.6 130.4,137.8 131.6,138.1 132.8,138.5 134.0,138.9 135.2,139.3 136.4,139.7 137.6,140.0 138.8,140.2 140.0,140.2 141.2,140.1 142.4,139.9 143.6,139.6 144.8,139.2 146.0,138.8 147.2,138.3 148.4,137.8 149.7,137.4 151.0,136.9 152.3,136.5 153.3,136.2 154.4,135.9 155.5,135.6 156.6,135.2 157.7,134.9 158.8,134.5 159.9,134.2 161.1,133.9 162.2,133.5 163.4,133.2 164.6,132.9 165.8,132.6 167.1,132.3 168.3,132.1 169.6,131.8 170.9,131.6 172.0,131.4 173.1,131.3 174.2,131.2 175.3,131.1 176.5,131.0 177.7,130.9 178.9,130.8 180.1,130.7 181.3,130.6 182.5,130.6 183.8,130.5 185.0,130.5 186.2,130.5 187.5,130.4 188.8,130.4 190.0,130.4 191.3,130.4 192.5,130.4 193.8,130.4 195.0,130.3 196.3,130.3 197.5,130.3 198.8,130.3 200.0,130.3 201.2,130.3 202.4,130.3 203.6,130.3 204.8,130.3 206.0,130.3 207.2,130.4 208.4,130.4 209.6,130.4 210.8,130.5 212.0,130.5 213.2,130.5 214.4,130.6 215.6,130.6 216.8,130.7 218.0,130.7 219.2,130.8 220.4,130.8 221.6,130.8 222.8,130.9 224.0,130.9 225.2,130.9 226.4,131.0 227.6,131.0 228.8,131.0 230.0,131.0 231.2,131.0 232.4,131.0 233.6,131.0 234.8,131.0 236.0,131.0 237.3,131.0 238.5,131.0 239.7,131.0 240.9,131.0 242.1,130.9 243.3,130.9 244.6,130.9 245.8,130.9 247.0,130.9 248.2,130.8 249.4,130.8 250.6,130.8 251.8,130.8 253.0,130.7 254.2,130.7 255.4,130.7 256.5,130.6 257.7,130.6 258.9,130.5 260.0,130.5 261.3,130.4 262.6,130.4 263.9,130.3 265.2,130.3 266.4,130.2 267.7,130.1 269.0,130.0 270.2,129.9 271.5,129.9 272.7,129.8 273.9,129.7 275.2,129.6 276.4,129.5 277.6,129.4 278.9,129.4 280.1,129.3 281.3,129.2 282.6,129.1 283.8,129.1 285.0,129.0 286.2,128.9 287.5,128.9 288.7,128.8 289.9,128.8 291.1,128.7 292.3,128.7 293.5,128.6 294.8,128.5 296.0,128.5 297.2,128.4 298.4,128.4 299.6,128.4 300.8,128.3 302.0,128.3 303.2,128.2 304.4,128.2 305.6,128.1 306.8,128.1 308.0,128.0"/>
<path class="b" d="M42.8,163.0 42.9,161.7 43.0,160.4 43.0,159.1 43.1,157.7 43.2,156.5 43.3,155.2 43.4,154.1 43.6,153.0 44.0,151.2 44.5,149.7 45.0,148.5 45.5,147.7 46.0,147.3 46.7,147.5 47.3,148.2 47.7,149.1 48.1,150.2 48.4,151.6 48.7,153.0 48.9,154.1 49.1,155.2 49.3,156.4 49.4,157.7 49.6,159.0 49.7,160.3 49.9,161.7 50.0,163.0 50.1,164.2 50.3,165.3 50.4,166.5 50.5,167.7 50.6,168.9 50.7,170.1 50.8,171.4 51.0,172.6 51.1,173.8 51.2,175.0"/>
<path class="b" d="M101.9,153.0 102.2,151.7 102.4,150.4 102.7,149.1 103.0,147.7 103.2,146.4 103.5,145.1 103.8,143.9 104.1,142.7 104.4,141.5 104.8,140.1 105.2,138.8 105.7,137.5 106.1,136.3 106.5,135.1 107.0,134.0 107.6,132.7 108.1,131.5 108.7,130.4 109.3,129.2 109.9,127.9 110.5,126.6 111.2,125.3 112.0,124.0 112.7,123.0 113.4,121.9 114.2,120.8 115.0,119.8 115.8,118.8 116.7,118.0 117.7,117.2 118.7,116.5 119.7,115.9 120.8,115.4 122.0,115.0 123.2,114.7 124.5,114.5 125.8,114.4 127.1,114.4 128.4,114.4 129.7,114.4 131.0,114.4 132.3,114.5 133.5,114.6 134.8,114.7 136.0,115.0 137.2,115.4 138.4,115.8 139.6,116.4 140.8,117.0 142.0,117.7 143.0,118.3 144.0,118.9 145.0,119.6 146.1,120.3 147.1,121.1 148.1,121.8 149.1,122.6 150.0,123.4 150.9,124.3 151.8,125.2 152.7,126.1 153.5,127.1 154.3,128.1 155.2,129.0 156.0,130.0"/>
<path class="b" d="M95.0,157.3 96.0,156.6 97.0,155.8 98.0,155.1 99.0,154.4 100.0,153.6 101.0,152.9 102.0,152.2 103.0,151.4 104.0,150.7 105.0,150.0 106.0,149.3 107.1,148.5 108.2,147.8 109.2,147.0 110.3,146.3 111.4,145.6 112.4,144.8 113.5,144.2 114.5,143.5 115.6,142.9 116.8,142.3 118.0,141.7 119.1,141.1 120.3,140.5 121.4,140.0 122.6,139.5 123.8,139.0 125.0,138.5 126.2,138.0 127.4,137.5 128.6,137.0 129.8,136.6 131.1,136.1 132.3,135.6 133.6,135.2 135.0,134.7 136.0,134.3 137.1,134.0 138.2,133.6 139.3,133.2 140.4,132.8 141.6,132.5 142.7,132.1 143.9,131.7 145.1,131.4 146.3,131.0 147.5,130.7 148.8,130.3 150.0,130.0 151.2,129.7 152.3,129.4 153.5,129.2 154.7,128.9 155.9,128.6 157.1,128.4 158.3,128.1 159.5,127.9 160.8,127.6 162.1,127.4 163.3,127.2 164.6,126.9 165.9,126.7 167.3,126.5 168.6,126.2 170.0,126.0 171.1,125.8 172.2,125.6 173.3,125.5 174.4,125.3 175.5,125.1 176.7,125.0 177.8,124.8 179.0,124.6 180.2,124.5 181.3,124.3 182.5,124.1 183.7,124.0 184.9,123.8 186.2,123.6 187.4,123.5 188.6,123.3 189.9,123.2 191.1,123.0 192.4,122.9 193.6,122.7 194.9,122.6 196.2,122.4 197.4,122.3 198.7,122.1 200.0,122.0 201.1,121.9 202.3,121.8 203.4,121.6 204.6,121.5 205.7,121.4 206.9,121.3 208.1,121.2 209.3,121.0 210.5,120.9 211.7,120.8 212.9,120.7 214.1,120.6 215.3,120.5 216.6,120.4 217.8,120.3 219.0,120.2 220.3,120.1 221.5,120.0 222.7,119.9 224.0,119.8 225.2,119.6 226.4,119.5 227.7,119.4 228.9,119.4 230.2,119.3 231.4,119.2 232.6,119.1 233.9,119.0 235.1,118.9 236.3,118.8 237.6,118.7 238.8,118.6 240.0,118.5 241.2,118.4 242.4,118.3 243.7,118.2 244.9,118.1 246.1,118.1 247.4,118.0 248.6,117.9 249.9,117.8 251.1,117.7 252.3,117.7 253.6,117.6 254.8,117.5 256.1,117.4 257.3,117.4 258.6,117.3 259.8,117.2 261.1,117.1 262.3,117.1 263.5,117.0 264.8,116.9 266.0,116.9 267.2,116.8 268.4,116.7 269.6,116.6 270.8,116.6 272.0,116.5 273.2,116.4 274.3,116.4 275.5,116.3 276.6,116.2 277.8,116.1 278.9,116.1 280.0,116.0 281.3,115.9 282.6,115.8 283.9,115.7 285.2,115.6 286.4,115.6 287.7,115.5 288.9,115.4 290.1,115.3 291.3,115.2 292.5,115.1 293.7,115.0 294.9,115.0 296.1,114.9 297.3,114.8 298.5,114.7 299.6,114.6 300.8,114.5 302.0,114.4 303.2,114.3 304.4,114.3 305.6,114.2 306.8,114.1 308.0,114.0"/>
<path class="ro" d="M106.9,122.2 108.0,121.8 109.2,121.4 110.3,121.0 111.5,120.6 112.6,120.2 113.8,119.9 115.0,119.5 116.2,119.2 117.4,118.9 118.6,118.6 119.8,118.4 121.0,118.1 122.3,117.8 123.6,117.5 125.0,117.2 126.1,116.9 127.2,116.6 128.3,116.3 129.5,115.9 130.7,115.6 131.8,115.2 133.1,114.8 134.3,114.4 135.5,114.1 136.8,113.7 138.0,113.3 139.3,113.0 140.6,112.6 141.7,112.3 142.9,112.0 144.1,111.7 145.2,111.3 146.4,111.0 147.6,110.7 148.9,110.3 150.1,110.0 151.3,109.7 152.6,109.4 153.8,109.1 155.0,108.8 156.3,108.5 157.5,108.2 158.7,108.0 160.0,107.7 161.2,107.5 162.4,107.3 163.6,107.1 164.8,107.0 166.0,106.8 167.3,106.7 168.5,106.6 169.7,106.5 170.9,106.4 172.1,106.3 173.3,106.2 174.5,106.1 175.8,106.0 177.0,105.9 178.2,105.8 179.3,105.7 180.5,105.6 181.7,105.5 182.9,105.4 184.2,105.2 185.4,105.1 186.6,105.0 187.8,104.8 189.1,104.7 190.3,104.5 191.5,104.4 192.7,104.2 193.9,104.1 195.1,104.0 196.3,103.8 197.5,103.7 198.8,103.6 200.0,103.5 201.2,103.4 202.4,103.3 203.6,103.2 204.8,103.1 206.0,103.1 207.2,103.0 208.4,102.9 209.6,102.9 210.8,102.8 212.1,102.7 213.3,102.7 214.6,102.6 215.9,102.5 217.2,102.5 218.6,102.4 220.0,102.3 221.1,102.2 222.1,102.2 223.2,102.1 224.4,102.0 225.5,102.0 226.7,101.9 227.9,101.8 229.1,101.7 230.3,101.7 231.6,101.6 232.8,101.5 234.1,101.4 235.4,101.3 236.6,101.3 237.9,101.2 239.2,101.1 240.4,101.0 241.7,101.0 243.0,100.9 244.2,100.8 245.5,100.7 246.7,100.7 248.0,100.6 249.2,100.5 250.4,100.4 251.6,100.4 252.7,100.3 253.9,100.3 255.0,100.2 256.3,100.1 257.7,100.1 259.0,100.0 260.2,100.0 261.5,99.9 262.8,99.8 264.0,99.8 265.2,99.7 266.5,99.7 267.7,99.7 268.9,99.6 270.1,99.6 271.3,99.5 272.5,99.5 273.7,99.4 275.0,99.4 276.2,99.3 277.5,99.3 278.7,99.2 280.0,99.2 281.2,99.2 282.4,99.1 283.6,99.1 284.8,99.0 286.0,99.0 287.2,98.9 288.4,98.9 289.6,98.8 290.8,98.8 292.1,98.8 293.3,98.7 294.5,98.7 295.7,98.6 297.0,98.6 298.2,98.5 299.4,98.5 300.7,98.5 301.9,98.4 303.1,98.4 304.3,98.3 305.6,98.3 306.8,98.2 308.0,98.2"/>
<path class="ro" d="M150.0,130.0 151.0,129.3 152.0,128.5 153.0,127.8 154.0,127.1 155.0,126.4 156.0,125.7 157.0,124.9 158.0,124.2 159.1,123.5 160.1,122.7 161.2,122.0 162.2,121.3 163.2,120.6 164.3,119.9 165.3,119.1 166.4,118.4 167.4,117.6 168.5,116.9 169.6,116.2 170.7,115.5 171.8,114.8 172.8,114.2 173.9,113.6 175.0,113.0 176.2,112.5 177.3,111.9 178.4,111.5 179.6,111.0 180.7,110.6 181.9,110.2 183.0,109.9 184.2,109.5 185.4,109.2 186.6,108.8 187.9,108.5 189.0,108.2 190.2,107.9 191.4,107.7 192.6,107.4 193.8,107.2 195.1,107.0 196.3,106.7 197.6,106.5 198.9,106.3 200.1,106.2 201.4,106.0 202.6,105.8 203.8,105.7 205.0,105.5 206.3,105.4 207.5,105.2 208.7,105.1 209.8,105.0 211.0,104.9 212.2,104.9 213.4,104.8 214.6,104.7 215.8,104.7 217.1,104.6 218.5,104.5 220.0,104.4 221.0,104.3 222.0,104.3 223.0,104.2 224.1,104.1 225.2,104.1 226.4,104.0 227.6,103.9 228.8,103.8 230.0,103.7 231.2,103.7 232.5,103.6 233.7,103.5 235.0,103.4 236.3,103.3 237.6,103.3 238.9,103.2 240.2,103.1 241.5,103.0 242.8,103.0 244.1,102.9 245.4,102.8 246.6,102.7 247.9,102.7 249.1,102.6 250.4,102.5 251.6,102.5 252.7,102.4 253.9,102.4 255.0,102.3 256.3,102.2 257.7,102.2 259.0,102.1 260.2,102.1 261.5,102.0 262.8,102.0 264.0,102.0 265.2,101.9 266.5,101.9 267.7,101.8 268.9,101.8 270.1,101.8 271.3,101.7 272.5,101.7 273.7,101.7 275.0,101.6 276.2,101.6 277.5,101.6 278.7,101.5 280.0,101.5 281.2,101.5 282.4,101.4 283.6,101.4 284.8,101.3 286.0,101.3 287.2,101.3 288.4,101.2 289.6,101.2 290.8,101.2 292.1,101.1 293.3,101.1 294.5,101.0 295.7,101.0 297.0,101.0 298.2,100.9 299.4,100.9 300.7,100.8 301.9,100.8 303.1,100.8 304.3,100.7 305.6,100.7 306.8,100.6 308.0,100.6"/>
<path class="b" d="M140.6,140.0 141.6,139.3 142.6,138.5 143.5,137.8 144.5,137.1 145.5,136.3 146.4,135.5 147.4,134.8 148.4,134.0 149.4,133.2 150.3,132.5 151.3,131.7 152.3,131.0 153.2,130.3 154.2,129.5 155.2,128.8 156.2,128.1 157.2,127.5 158.2,126.8 159.2,126.2 160.2,125.6 161.2,125.0 162.3,124.4 163.4,123.8 164.6,123.3 165.7,122.7 166.8,122.2 168.0,121.7 169.1,121.2 170.3,120.7 171.4,120.3 172.6,119.8 173.7,119.4 174.9,119.0 176.0,118.6 177.2,118.2 178.3,117.8 179.4,117.4 180.6,117.1 181.7,116.7 182.9,116.3 184.2,116.0 185.4,115.6 186.6,115.3 187.8,115.0 189.0,114.7 190.2,114.4 191.4,114.1 192.6,113.9 193.8,113.6 195.1,113.4 196.3,113.1 197.5,112.9 198.8,112.7 200.0,112.5 201.2,112.3 202.4,112.2 203.7,112.0 204.9,111.9 206.2,111.8 207.4,111.7 208.7,111.6 209.9,111.5 211.2,111.4 212.5,111.3 213.7,111.2 215.0,111.1 216.2,111.0 217.5,110.9 218.8,110.8 220.0,110.6 221.3,110.4 222.5,110.2 223.8,110.0 225.0,109.8 226.3,109.6 227.5,109.3 228.8,109.1 230.0,108.8 231.2,108.6 232.5,108.3 233.7,108.1 235.0,107.8 236.2,107.6 237.5,107.4 238.7,107.2 240.0,107.0 241.2,106.8 242.5,106.6 243.7,106.5 245.0,106.3 246.2,106.2 247.5,106.0 248.7,105.9 250.0,105.7 251.2,105.6 252.5,105.5 253.7,105.3 255.0,105.2 256.2,105.1 257.5,105.0 258.7,104.9 260.0,104.8 261.2,104.7 262.5,104.6 263.7,104.6 264.9,104.5 266.1,104.4 267.3,104.4 268.6,104.3 269.8,104.3 271.0,104.3 272.3,104.2 273.5,104.2 274.8,104.2 276.0,104.1 277.3,104.1 278.7,104.0 280.0,104.0 281.1,104.0 282.3,103.9 283.4,103.9 284.6,103.9 285.8,103.8 287.0,103.8 288.2,103.8 289.4,103.7 290.6,103.7 291.8,103.7 293.1,103.6 294.3,103.6 295.6,103.6 296.8,103.6 298.1,103.5 299.3,103.5 300.6,103.5 301.8,103.4 303.1,103.4 304.3,103.4 305.5,103.4 306.8,103.3 308.0,103.3"/>
<path class="ro" d="M165.0,140.0 165.9,139.2 166.9,138.5 167.8,137.7 168.7,136.9 169.7,136.2 170.6,135.4 171.5,134.6 172.5,133.8 173.4,133.1 174.3,132.3 175.3,131.6 176.2,130.8 177.1,130.1 178.1,129.4 179.0,128.7 180.0,128.0 181.0,127.3 182.1,126.6 183.2,125.8 184.2,125.1 185.3,124.5 186.3,123.8 187.4,123.1 188.5,122.5 189.6,121.8 190.6,121.2 191.7,120.6 192.8,120.1 193.9,119.5 195.0,119.0 196.1,118.5 197.2,118.0 198.3,117.6 199.4,117.2 200.5,116.8 201.6,116.4 202.8,116.0 203.9,115.7 205.1,115.4 206.2,115.0 207.5,114.7 208.7,114.3 210.0,114.0 211.0,113.7 212.1,113.5 213.2,113.2 214.3,112.9 215.5,112.6 216.7,112.4 217.8,112.1 219.0,111.9 220.2,111.6 221.5,111.4 222.7,111.1 223.9,110.9 225.2,110.6 226.4,110.4 227.6,110.2 228.9,110.0 230.1,109.8 231.4,109.6 232.6,109.4 233.8,109.2 235.0,109.0 236.2,108.8 237.5,108.7 238.8,108.5 240.0,108.4 241.3,108.2 242.6,108.1 243.8,108.0 245.1,107.8 246.4,107.7 247.7,107.6 248.9,107.5 250.2,107.4 251.4,107.3 252.7,107.3 253.9,107.2 255.2,107.1 256.4,107.0 257.6,106.9 258.8,106.9 260.0,106.8 261.3,106.7 262.6,106.7 263.8,106.6 265.1,106.6 266.3,106.5 267.5,106.5 268.7,106.5 269.9,106.4 271.1,106.4 272.4,106.4 273.6,106.3 274.8,106.3 276.1,106.3 277.4,106.3 278.7,106.2 280.0,106.2 281.1,106.2 282.3,106.1 283.4,106.1 284.6,106.1 285.8,106.0 287.0,106.0 288.2,106.0 289.4,105.9 290.6,105.9 291.8,105.9 293.1,105.8 294.3,105.8 295.6,105.8 296.8,105.7 298.1,105.7 299.3,105.6 300.6,105.6 301.8,105.6 303.1,105.5 304.3,105.5 305.5,105.5 306.8,105.4 308.0,105.4"/>
<path class="ro" d="M175.0,150.0 175.9,149.2 176.9,148.4 177.8,147.5 178.7,146.7 179.7,145.9 180.6,145.1 181.5,144.2 182.5,143.4 183.4,142.6 184.3,141.8 185.3,140.9 186.2,140.1 187.2,139.3 188.1,138.5 189.0,137.8 190.0,137.0 191.0,136.2 192.0,135.4 193.0,134.7 193.9,133.9 194.9,133.1 195.9,132.4 196.9,131.6 197.9,130.9 198.9,130.1 199.9,129.4 200.9,128.7 201.9,128.0 203.0,127.3 204.0,126.7 205.0,126.0 206.0,125.3 207.1,124.7 208.1,124.1 209.2,123.4 210.2,122.8 211.2,122.2 212.3,121.6 213.3,121.1 214.4,120.5 215.5,120.0 216.6,119.5 217.7,118.9 218.8,118.5 220.0,118.0 221.1,117.6 222.2,117.2 223.3,116.9 224.5,116.5 225.6,116.2 226.8,115.9 228.0,115.6 229.2,115.3 230.4,115.0 231.6,114.8 232.8,114.5 234.0,114.2 235.2,114.0 236.4,113.7 237.6,113.5 238.8,113.2 240.0,113.0 241.2,112.7 242.4,112.5 243.6,112.2 244.8,112.0 245.9,111.7 247.1,111.5 248.3,111.3 249.4,111.1 250.6,110.8 251.8,110.6 253.1,110.4 254.4,110.2 255.7,110.0 257.1,109.8 258.5,109.7 260.0,109.5 261.0,109.4 261.9,109.3 262.9,109.2 264.0,109.1 265.0,109.0 266.1,109.0 267.2,108.9 268.3,108.8 269.4,108.8 270.5,108.7 271.7,108.6 272.9,108.6 274.1,108.5 275.3,108.5 276.5,108.4 277.7,108.4 278.9,108.3 280.2,108.3 281.4,108.2 282.7,108.2 284.0,108.2 285.2,108.1 286.5,108.1 287.8,108.0 289.1,108.0 290.4,108.0 291.7,107.9 292.9,107.9 294.2,107.9 295.5,107.8 296.8,107.8 298.1,107.8 299.3,107.7 300.6,107.7 301.9,107.6 303.1,107.6 304.3,107.5 305.6,107.5 306.8,107.5 308.0,107.4"/>
<path class="rd" d="M200.0,140.0 200.9,139.2 201.9,138.5 202.8,137.7 203.7,136.9 204.7,136.2 205.6,135.4 206.5,134.6 207.5,133.8 208.4,133.1 209.3,132.3 210.3,131.6 211.2,130.8 212.1,130.1 213.1,129.4 214.0,128.7 215.0,128.0 216.0,127.3 217.1,126.5 218.2,125.8 219.2,125.1 220.3,124.4 221.3,123.7 222.4,123.0 223.5,122.4 224.5,121.8 225.6,121.1 226.7,120.6 227.8,120.0 228.9,119.5 230.0,119.0 231.2,118.5 232.4,118.1 233.7,117.7 234.9,117.3 236.2,116.9 237.4,116.6 238.7,116.3 240.0,116.1 241.2,115.8 242.5,115.5 243.7,115.3 245.0,115.0 246.2,114.7 247.4,114.5 248.5,114.3 249.7,114.1 250.8,113.9 252.0,113.7 253.1,113.5 254.4,113.3 255.6,113.1 257.0,113.0 258.4,112.8 260.0,112.6 260.9,112.5 261.8,112.4 262.7,112.3 263.7,112.2 264.7,112.1 265.7,112.1 266.8,112.0 267.9,111.9 269.0,111.8 270.1,111.7 271.2,111.6 272.4,111.6 273.6,111.5 274.8,111.4 276.0,111.3 277.2,111.3 278.5,111.2 279.7,111.1 281.0,111.0 282.3,111.0 283.6,110.9 284.9,110.8 286.2,110.7 287.5,110.7 288.8,110.6 290.1,110.5 291.4,110.5 292.7,110.4 294.1,110.3 295.4,110.2 296.7,110.2 298.0,110.1 299.3,110.0 300.5,110.0 301.8,109.9 303.1,109.8 304.3,109.7 305.6,109.7 306.8,109.6 308.0,109.5"/>
<path class="b" d="M140.0,127.9 141.1,127.4 142.2,127.0 143.3,126.5 144.3,126.0 145.4,125.5 146.5,125.1 147.6,124.6 148.7,124.1 149.9,123.7 151.1,123.3 152.3,122.9 153.4,122.6 154.5,122.3 155.7,122.0 156.9,121.7 158.1,121.4 159.3,121.1 160.5,120.8 161.8,120.6 163.0,120.3 164.3,120.1 165.6,119.9 166.9,119.7 168.2,119.5 169.6,119.4 170.9,119.2 172.0,119.1 173.2,119.0 174.4,118.9 175.7,118.9 176.9,118.8 178.2,118.8 179.4,118.7 180.7,118.7 182.0,118.7 183.3,118.7 184.6,118.7 185.9,118.7 187.2,118.7 188.5,118.8 189.8,118.8 191.0,118.8 192.3,118.8 193.5,118.8 194.7,118.8 195.9,118.8 197.0,118.8 198.3,118.8 199.6,118.8 200.8,118.8 202.0,118.8 203.2,118.8 204.4,118.8 205.6,118.8 206.7,118.8 207.9,118.8 209.1,118.8 210.2,118.8 211.4,118.8 212.6,118.8 213.8,118.7 215.0,118.7 216.2,118.7 217.4,118.6 218.7,118.6 219.9,118.5 221.1,118.5 222.3,118.4 223.6,118.4 224.8,118.3 226.0,118.2 227.3,118.2 228.6,118.1 229.8,118.0 231.1,117.9 232.4,117.9 233.7,117.8 235.0,117.7 236.2,117.6 237.4,117.5 238.6,117.4 239.9,117.3 241.1,117.2 242.4,117.1 243.7,117.0 244.9,116.9 246.2,116.8 247.5,116.7 248.8,116.6 250.1,116.5 251.3,116.4 252.6,116.3 253.9,116.2 255.1,116.1 256.4,116.0 257.6,115.9 258.8,115.8 260.0,115.7 261.3,115.6 262.6,115.5 263.8,115.4 265.1,115.4 266.3,115.3 267.5,115.2 268.7,115.2 269.9,115.1 271.1,115.0 272.4,115.0 273.6,114.9 274.8,114.8 276.1,114.7 277.4,114.7 278.7,114.6 280.0,114.5 281.1,114.4 282.3,114.4 283.4,114.3 284.6,114.2 285.8,114.1 287.0,114.0 288.2,114.0 289.4,113.9 290.6,113.8 291.8,113.7 293.1,113.6 294.3,113.5 295.6,113.5 296.8,113.4 298.1,113.3 299.3,113.2 300.6,113.1 301.8,113.0 303.1,112.9 304.3,112.9 305.5,112.8 306.8,112.7 308.0,112.6"/>
<path class="ro" d="M205.0,150.0 205.9,149.2 206.9,148.3 207.8,147.4 208.7,146.6 209.7,145.7 210.6,144.8 211.5,144.0 212.4,143.1 213.4,142.2 214.3,141.4 215.2,140.5 216.2,139.7 217.1,138.8 218.1,138.0 219.1,137.2 220.0,136.5 221.0,135.7 222.0,135.0 223.0,134.3 224.0,133.6 225.0,132.9 226.1,132.3 227.1,131.6 228.2,131.0 229.2,130.4 230.3,129.8 231.3,129.2 232.4,128.7 233.4,128.1 234.5,127.6 235.6,127.0 236.7,126.5 237.8,126.0 238.9,125.5 240.0,125.0 241.1,124.5 242.3,124.0 243.4,123.5 244.6,123.1 245.7,122.6 246.9,122.2 248.1,121.7 249.3,121.3 250.4,120.9 251.6,120.5 252.8,120.1 254.0,119.8 255.2,119.4 256.4,119.1 257.6,118.8 258.8,118.5 260.0,118.3 261.2,118.1 262.5,117.9 263.7,117.7 264.9,117.6 266.1,117.5 267.3,117.4 268.5,117.4 269.8,117.3 271.0,117.3 272.2,117.2 273.5,117.2 274.8,117.2 276.0,117.2 277.3,117.1 278.7,117.1 280.0,117.0 281.1,116.9 282.3,116.9 283.4,116.8 284.6,116.8 285.8,116.7 287.0,116.6 288.2,116.6 289.4,116.5 290.6,116.5 291.8,116.4 293.1,116.4 294.3,116.3 295.6,116.3 296.8,116.2 298.1,116.1 299.3,116.1 300.6,116.0 301.8,116.0 303.1,115.9 304.3,115.9 305.5,115.8 306.8,115.8 308.0,115.7"/>
<path class="ro" d="M140.0,135.3 141.2,135.0 142.5,134.6 143.7,134.3 144.9,134.0 146.2,133.6 147.4,133.3 148.6,133.0 149.9,132.6 151.1,132.3 152.3,132.0 153.6,131.6 154.8,131.3 156.0,131.0 157.3,130.6 158.5,130.3 159.7,130.0 161.0,129.6 162.2,129.2 163.4,128.9 164.6,128.5 165.8,128.1 167.1,127.7 168.3,127.4 169.5,127.0 170.8,126.7 172.0,126.3 173.2,126.1 174.5,125.8 175.7,125.6 177.0,125.4 178.2,125.3 179.5,125.2 180.7,125.1 181.9,125.1 183.2,125.0 184.5,125.0 185.7,125.1 187.0,125.1 188.3,125.1 189.5,125.2 190.8,125.3 192.0,125.3 193.3,125.4 194.5,125.4 195.8,125.5 197.0,125.5 198.2,125.5 199.4,125.6 200.6,125.6 201.8,125.6 203.0,125.7 204.2,125.7 205.4,125.8 206.6,125.8 207.8,125.9 209.0,125.9 210.2,126.0 211.4,126.0 212.6,126.0 213.8,126.0 215.0,126.0 216.2,126.0 217.4,126.0 218.7,125.9 219.9,125.9 221.1,125.8 222.3,125.8 223.6,125.7 224.8,125.7 226.0,125.6 227.3,125.5 228.6,125.4 229.8,125.3 231.1,125.2 232.4,125.1 233.7,125.0 235.0,124.9 236.2,124.8 237.4,124.7 238.6,124.5 239.9,124.4 241.1,124.2 242.4,124.0 243.7,123.9 244.9,123.7 246.2,123.5 247.5,123.3 248.8,123.1 250.1,123.0 251.3,122.8 252.6,122.6 253.9,122.5 255.1,122.3 256.4,122.2 257.6,122.0 258.8,121.9 260.0,121.8 261.3,121.7 262.6,121.6 263.8,121.6 265.1,121.5 266.3,121.5 267.5,121.4 268.7,121.4 269.9,121.4 271.1,121.3 272.4,121.3 273.6,121.3 274.8,121.3 276.1,121.2 277.4,121.2 278.7,121.1 280.0,121.0 281.1,120.9 282.3,120.8 283.4,120.7 284.6,120.6 285.8,120.5 287.0,120.4 288.2,120.3 289.4,120.2 290.6,120.1 291.9,120.0 293.1,119.8 294.3,119.7 295.6,119.6 296.8,119.4 298.1,119.3 299.3,119.2 300.6,119.1 301.8,118.9 303.1,118.8 304.3,118.7 305.5,118.5 306.8,118.4 308.0,118.3"/>
<path class="b" d="M150.0,133.0 151.2,132.7 152.5,132.5 153.7,132.2 155.0,131.9 156.2,131.6 157.5,131.4 158.7,131.1 160.0,130.8 161.2,130.5 162.5,130.3 163.7,130.0 165.0,129.8 166.2,129.6 167.5,129.4 168.7,129.2 170.0,129.0 171.2,128.9 172.5,128.7 173.7,128.6 174.9,128.5 176.2,128.4 177.4,128.3 178.6,128.2 179.9,128.2 181.1,128.1 182.3,128.1 183.6,128.0 184.8,128.0 186.1,128.0 187.4,128.0 188.7,128.0 190.0,128.0 191.2,128.0 192.4,128.1 193.6,128.2 194.9,128.3 196.1,128.4 197.4,128.5 198.7,128.6 199.9,128.8 201.2,128.9 202.5,129.1 203.8,129.2 205.1,129.4 206.3,129.5 207.6,129.6 208.9,129.7 210.1,129.8 211.4,129.9 212.6,130.0 213.8,130.0 215.0,130.0 216.3,130.0 217.6,129.9 218.9,129.9 220.1,129.8 221.3,129.7 222.6,129.6 223.8,129.5 225.0,129.3 226.2,129.2 227.4,129.0 228.7,128.9 229.9,128.7 231.1,128.5 232.4,128.3 233.7,128.2 235.0,128.0 236.1,127.8 237.3,127.7 238.5,127.5 239.6,127.3 240.8,127.1 242.0,126.9 243.2,126.7 244.4,126.4 245.7,126.2 246.9,126.0 248.1,125.8 249.3,125.5 250.5,125.3 251.8,125.1 253.0,124.9 254.2,124.7 255.4,124.5 256.5,124.3 257.7,124.2 258.9,124.0 260.0,123.9 261.3,123.8 262.6,123.7 263.8,123.6 265.1,123.5 266.3,123.5 267.5,123.4 268.7,123.4 269.9,123.3 271.1,123.3 272.3,123.3 273.6,123.3 274.8,123.2 276.1,123.2 277.4,123.1 278.7,123.1 280.0,123.0 281.1,122.9 282.3,122.9 283.4,122.8 284.6,122.7 285.8,122.6 287.0,122.5 288.2,122.4 289.4,122.3 290.6,122.2 291.8,122.1 293.1,122.0 294.3,121.9 295.6,121.8 296.8,121.7 298.1,121.6 299.3,121.5 300.6,121.4 301.8,121.3 303.1,121.2 304.3,121.1 305.5,121.0 306.8,120.9 308.0,120.8"/>
<path class="ro" d="M170.9,145.2 172.1,144.8 173.3,144.5 174.5,144.1 175.7,143.7 176.9,143.4 178.1,143.0 179.4,142.6 180.6,142.3 181.9,141.9 183.2,141.5 184.3,141.2 185.5,140.8 186.6,140.4 187.8,140.1 189.0,139.7 190.3,139.3 191.5,139.0 192.7,138.6 194.0,138.2 195.2,137.8 196.4,137.5 197.6,137.1 198.8,136.8 200.0,136.5 201.3,136.2 202.5,135.8 203.7,135.5 205.0,135.2 206.2,134.9 207.4,134.6 208.6,134.4 209.9,134.1 211.1,133.8 212.4,133.6 213.7,133.4 215.0,133.2 216.2,133.1 217.3,132.9 218.5,132.9 219.7,132.8 221.0,132.8 222.2,132.7 223.4,132.7 224.7,132.7 225.9,132.7 227.2,132.6 228.5,132.6 229.8,132.5 231.1,132.5 232.4,132.4 233.7,132.3 235.0,132.1 236.1,131.9 237.2,131.8 238.4,131.6 239.5,131.4 240.6,131.1 241.7,130.9 242.8,130.6 244.0,130.4 245.1,130.1 246.2,129.8 247.4,129.6 248.6,129.3 249.7,129.0 251.0,128.7 252.2,128.4 253.4,128.2 254.7,127.9 256.0,127.7 257.3,127.4 258.6,127.2 260.0,127.0 261.0,126.9 262.0,126.7 263.1,126.6 264.2,126.5 265.2,126.3 266.3,126.2 267.5,126.1 268.6,126.0 269.7,125.9 270.9,125.7 272.1,125.6 273.2,125.5 274.4,125.4 275.6,125.3 276.8,125.2 278.1,125.1 279.3,125.0 280.5,124.9 281.8,124.8 283.0,124.7 284.3,124.6 285.5,124.6 286.8,124.5 288.0,124.4 289.3,124.3 290.6,124.2 291.8,124.1 293.1,124.0 294.4,123.9 295.6,123.8 296.9,123.8 298.1,123.7 299.4,123.6 300.6,123.5 301.9,123.4 303.1,123.3 304.4,123.2 305.6,123.1 306.8,123.0 308.0,122.9"/>
<path class="ro" d="M200.0,142.0 201.2,141.8 202.5,141.5 203.7,141.3 204.9,141.1 206.1,140.9 207.4,140.6 208.6,140.4 209.8,140.2 211.1,140.0 212.4,139.7 213.7,139.5 215.0,139.3 216.2,139.1 217.3,138.9 218.5,138.8 219.7,138.6 221.0,138.4 222.2,138.2 223.4,138.1 224.7,137.9 226.0,137.7 227.2,137.5 228.5,137.3 229.8,137.1 231.1,136.9 232.4,136.7 233.7,136.5 235.0,136.2 236.1,136.0 237.3,135.7 238.5,135.4 239.6,135.1 240.8,134.8 242.0,134.5 243.2,134.2 244.4,133.9 245.7,133.5 246.9,133.2 248.1,132.8 249.3,132.5 250.5,132.2 251.8,131.9 253.0,131.6 254.2,131.2 255.4,131.0 256.5,130.7 257.7,130.4 258.9,130.2 260.0,130.0 261.3,129.8 262.6,129.6 263.8,129.4 265.1,129.3 266.3,129.1 267.5,129.0 268.7,128.9 269.9,128.8 271.1,128.7 272.3,128.6 273.6,128.5 274.8,128.4 276.1,128.3 277.4,128.2 278.7,128.1 280.0,128.0 281.1,127.9 282.3,127.8 283.4,127.7 284.6,127.6 285.8,127.5 287.0,127.5 288.2,127.4 289.4,127.3 290.6,127.2 291.8,127.1 293.1,127.0 294.3,126.9 295.6,126.8 296.8,126.8 298.1,126.7 299.3,126.6 300.6,126.5 301.8,126.4 303.1,126.3 304.3,126.3 305.5,126.2 306.8,126.1 308.0,126.0"/>
<path class="b" d="M220.0,140.0 221.2,139.7 222.5,139.5 223.7,139.2 225.0,139.0 226.2,138.7 227.5,138.5 228.7,138.2 230.0,137.9 231.2,137.7 232.5,137.4 233.7,137.2 235.0,136.9 236.2,136.7 237.5,136.5 238.7,136.2 240.0,136.0 241.2,135.8 242.5,135.6 243.7,135.4 244.9,135.1 246.2,134.9 247.4,134.7 248.6,134.5 249.8,134.3 251.1,134.2 252.3,134.0 253.6,133.8 254.8,133.6 256.1,133.5 257.4,133.3 258.7,133.1 260.0,133.0 261.2,132.9 262.4,132.8 263.6,132.7 264.8,132.6 266.1,132.5 267.3,132.4 268.6,132.3 269.8,132.3 271.1,132.2 272.4,132.1 273.7,132.1 274.9,132.0 276.2,132.0 277.5,131.9 278.8,131.8 280.0,131.8 281.3,131.7 282.5,131.6 283.8,131.6 285.0,131.5 286.2,131.4 287.5,131.3 288.7,131.3 289.9,131.2 291.1,131.1 292.3,131.0 293.5,131.0 294.8,130.9 296.0,130.8 297.2,130.7 298.4,130.6 299.6,130.6 300.8,130.5 302.0,130.4 303.2,130.3 304.4,130.2 305.6,130.2 306.8,130.1 308.0,130.0"/>
<path class="b" d="M222.0,86.0 223.1,86.8 224.1,87.6 225.1,88.3 226.2,89.2 227.3,90.0 228.2,90.7 229.2,91.5 230.1,92.3 231.1,93.0 232.0,93.8 233.0,94.7 234.0,95.5 234.9,96.3 235.9,97.1 236.9,98.0 237.8,98.8 238.8,99.7 239.8,100.6 240.8,101.4 241.7,102.3 242.6,103.2 243.6,104.1 244.5,105.0 245.4,105.9 246.3,106.8 247.2,107.7 248.1,108.6 249.0,109.5 249.9,110.4 250.8,111.3 251.7,112.2 252.7,113.1 253.6,114.0 254.4,114.9 255.3,115.8 256.1,116.7 257.0,117.7 257.8,118.7 258.6,119.6 259.4,120.6 260.2,121.5 261.0,122.5 261.8,123.4 262.6,124.3 263.3,125.3 264.1,126.2 264.9,127.2 265.7,128.1 266.4,129.0 267.3,130.1 268.1,131.2 268.9,132.3 269.7,133.4 270.5,134.5 271.3,135.6 272.2,136.7 273.0,137.8 273.8,138.9 274.6,140.0 275.3,141.2 276.0,142.4 276.7,143.6 277.3,144.8 278.0,146.0"/>
<path class="b" d="M208.0,146.0 208.9,145.2 209.7,144.4 210.6,143.5 211.4,142.7 212.3,141.9 213.1,141.1 214.0,140.2 215.0,139.4 215.9,138.6 216.9,137.8 217.8,137.0 218.8,136.2 219.8,135.4 220.8,134.6 221.9,133.8 222.9,133.0 224.0,132.2 225.0,131.5 226.0,130.8 227.1,130.1 228.1,129.4 229.2,128.8 230.3,128.1 231.4,127.5 232.4,126.8 233.5,126.2 234.6,125.6 235.6,125.0 236.8,124.3 237.9,123.6 239.1,123.0 240.2,122.3 241.4,121.7 242.6,121.1 243.8,120.5 245.0,120.0 246.2,119.5 247.4,119.1 248.6,118.7 249.8,118.4 251.0,118.0 252.2,117.7 253.5,117.3 254.8,117.0 256.1,116.7 257.3,116.4 258.5,116.1 259.8,115.9 261.0,115.6 262.3,115.4 263.6,115.2 264.9,114.9 266.2,114.7 267.4,114.5 268.7,114.2 270.0,114.0"/>
<path class="b" d="M150.8,197.0 150.8,195.8 150.9,194.5 150.9,193.3 150.9,192.1 150.9,190.8 150.9,189.6 151.0,188.3 151.0,187.1 151.0,185.8 151.0,184.6 151.1,183.4 151.1,182.3 151.2,181.1 151.2,180.0 151.3,178.6 151.3,177.2 151.4,175.8 151.5,174.4 151.5,173.1 151.6,171.8 151.7,170.6 151.9,169.4 152.0,168.2 152.2,166.9 152.4,165.6 152.6,164.4 152.9,163.2 153.2,162.1 153.5,161.0 153.9,159.8 154.4,158.6 154.9,157.5 155.5,156.4 156.2,155.1 157.1,153.6 158.0,152.4 159.0,151.7 160.1,151.6 161.4,151.8 162.6,152.3 163.7,152.9 164.6,153.7 165.3,154.8 165.9,155.9 166.5,157.0 167.2,158.6 167.7,160.1 168.4,161.1 169.2,161.3 170.0,161.0 170.9,159.9 171.6,158.0 171.9,157.1 172.2,156.0 172.5,154.8 172.8,153.6 173.1,152.2 173.4,150.8 173.7,149.4 174.1,148.0 174.4,146.6 174.8,145.3 175.2,144.1 175.6,143.0 176.0,141.8 176.4,140.7 176.9,139.6 177.3,138.4 177.8,137.3 178.3,136.1 178.7,135.0 179.2,133.8 179.6,132.7 180.0,131.5 180.5,130.4 180.9,129.2 181.3,128.1 181.7,126.9 182.2,125.8 182.6,124.6 183.0,123.5 183.4,122.3 183.9,121.2 184.3,120.0"/>
<path class="b" d="M172.1,197.0 172.1,195.7 172.1,194.5 172.1,193.2 172.2,191.9 172.2,190.6 172.2,189.3 172.2,188.0 172.2,186.8 172.2,185.5 172.2,184.2 172.3,182.9 172.3,181.7 172.3,180.5 172.4,179.2 172.4,178.0 172.5,176.7 172.5,175.4 172.6,174.2 172.6,172.9 172.7,171.6 172.8,170.4 172.9,169.1 172.9,167.9 173.0,166.7 173.1,165.5 173.3,164.3 173.4,163.1 173.5,162.0 173.7,160.7 173.8,159.5 174.0,158.2 174.2,157.0 174.4,155.8 174.6,154.6 174.8,153.4 175.0,152.3 175.3,151.1 175.5,150.0 175.8,148.6 176.2,147.3 176.5,146.0 176.9,144.8 177.3,143.5 177.6,142.3 178.0,141.0"/>
<path class="b" d="M192.8,197.0 193.0,195.8 193.2,194.6 193.4,193.4 193.6,192.2 193.8,190.9 194.0,189.7 194.2,188.5 194.3,187.3 194.5,186.1 194.7,184.8 194.9,183.6 195.1,182.4 195.3,181.2 195.5,180.0 195.7,178.8 195.9,177.6 196.1,176.4 196.3,175.2 196.5,174.0 196.7,172.9 196.9,171.7 197.1,170.6 197.3,169.5 197.5,168.2 197.8,166.9 198.0,165.6 198.3,164.3 198.5,163.0 198.7,161.8 199.0,160.5 199.2,159.3 199.4,158.1 199.7,156.8 199.9,155.6 200.2,154.4 200.5,153.3 200.8,152.1 201.1,150.9 201.4,149.8 201.7,148.7 202.1,147.4 202.5,146.2 202.9,144.9 203.3,143.7 203.7,142.4 204.1,141.2 204.6,140.0 205.0,138.9 205.5,137.8 206.0,136.7 206.5,135.7 207.1,134.8 207.6,133.9 208.4,132.8 209.2,131.9 210.0,131.0 210.9,130.2 211.8,129.4 212.7,128.7 213.6,128.0 214.6,127.2 215.7,126.6 216.8,125.9 217.8,125.3 218.9,124.6 220.0,124.0"/>
<path class="b" d="M223.8,197.0 223.8,195.8 223.9,194.6 223.9,193.3 224.0,192.1 224.0,190.9 224.1,189.7 224.1,188.4 224.1,187.2 224.2,186.0 224.2,184.8 224.3,183.6 224.4,182.4 224.4,181.2 224.5,180.0 224.6,178.7 224.7,177.4 224.8,176.2 224.9,174.9 225.0,173.7 225.1,172.4 225.2,171.2 225.4,170.0 225.5,168.7 225.7,167.5 225.8,166.2 226.0,165.0 226.2,163.7 226.4,162.5 226.6,161.2 226.8,159.9 227.0,158.6 227.3,157.3 227.5,156.0 227.8,154.7 228.1,153.5 228.4,152.3 228.7,151.1 229.0,150.0 229.4,148.6 229.9,147.3 230.3,146.0 230.8,144.7 231.3,143.5 231.8,142.3 232.4,141.1 233.0,140.0 233.6,138.9 234.3,137.8 235.0,136.8 235.7,135.8 236.4,134.9 237.2,133.9 238.0,133.0 238.9,132.1 239.9,131.2 240.9,130.3 241.9,129.5 242.9,128.7 244.0,127.8 245.0,127.0"/>
<path class="b" d="M226.9,197.0 227.0,195.8 227.2,194.6 227.3,193.3 227.4,192.1 227.5,190.8 227.6,189.6 227.7,188.3 227.8,187.0 227.9,185.7 228.1,184.5 228.2,183.2 228.3,181.9 228.4,180.6 228.5,179.3 228.6,178.1 228.7,176.8 228.8,175.5 228.9,174.3 229.0,173.0 229.2,171.8 229.3,170.5 229.4,169.3 229.5,168.1 229.7,166.9 229.8,165.7 229.9,164.5 230.1,163.3 230.2,162.2 230.4,161.0 230.5,159.9 230.7,158.8 230.9,157.8 231.0,156.7 231.2,155.7 231.4,154.7 231.7,153.3 231.9,152.0 232.2,150.7 232.5,149.4 232.8,148.1 233.1,146.8 233.5,145.6 233.8,144.3 234.1,143.2 234.4,142.0 234.8,140.9 235.1,139.8 235.5,138.7 235.8,137.7 236.2,136.7 236.6,135.7 236.9,134.8 237.3,133.9 237.9,132.5 238.5,131.3 239.2,130.1 239.8,129.0 240.5,128.0 241.2,127.0 242.0,126.0 242.8,125.1 243.6,124.2 244.5,123.3 245.4,122.5 246.2,121.7 247.1,120.8 248.0,120.0"/>
<path class="b" d="M232.9,197.0 233.0,195.8 233.1,194.6 233.3,193.3 233.4,192.1 233.5,190.9 233.6,189.6 233.7,188.3 233.8,187.1 234.0,185.8 234.1,184.6 234.2,183.3 234.3,182.1 234.4,180.8 234.5,179.6 234.7,178.4 234.8,177.2 234.9,176.0 235.1,174.9 235.2,173.8 235.3,172.6 235.5,171.6 235.6,170.5 235.8,169.5 236.0,168.1 236.3,166.8 236.5,165.5 236.8,164.3 237.0,163.1 237.3,162.0 237.6,160.8 237.8,159.7 238.1,158.5 238.4,157.4 238.7,156.2 239.0,155.0 239.3,153.8 239.6,152.6 239.8,151.4 240.1,150.2 240.4,149.0 240.7,147.8 241.0,146.6 241.3,145.4 241.7,144.2 242.0,143.0 242.4,141.9 242.8,140.8 243.2,139.8 243.7,138.6 244.3,137.4 244.9,136.2 245.5,135.1 246.2,134.0 246.8,132.9 247.5,131.9 248.3,130.9 249.0,130.0 249.9,129.0 250.9,128.1 251.9,127.2 252.9,126.4 254.0,125.6 255.0,124.8 256.0,124.0"/>
<path class="b" d="M263.7,197.0 263.9,195.8 264.1,194.5 264.3,193.3 264.4,192.1 264.6,190.8 264.8,189.6 265.0,188.4 265.1,187.1 265.3,185.9 265.5,184.7 265.7,183.4 265.9,182.2 266.2,180.9 266.4,179.7 266.7,178.4 267.0,177.3 267.2,176.1 267.5,175.0 267.8,173.8 268.1,172.6 268.4,171.5 268.8,170.3 269.1,169.1 269.4,167.9 269.8,166.8 270.1,165.6 270.5,164.4 270.8,163.3 271.2,162.1 271.6,161.0 271.9,159.8 272.3,158.7 272.6,157.6 273.0,156.4 273.4,155.1 273.7,153.8 274.1,152.6 274.5,151.3 274.9,150.0 275.2,148.8 275.6,147.6 276.0,146.4 276.4,145.2 276.8,144.0 277.3,142.9 277.7,141.8 278.1,140.8 278.6,139.8 279.3,138.5 279.9,137.3 280.6,136.1 281.4,135.0 282.1,133.9 282.9,132.9 283.7,131.9 284.5,130.9 285.4,129.9 286.2,129.0 287.2,128.1 288.1,127.3 289.1,126.4 290.0,125.6 291.0,124.8 292.0,124.0 293.0,123.2 294.0,122.4 295.0,121.7 296.0,120.9 297.0,120.2 298.0,119.5 299.0,118.7 300.0,118.0"/>
<path class="b" d="M266.7,197.0 266.9,195.8 267.0,194.6 267.2,193.3 267.3,192.1 267.4,190.9 267.5,189.6 267.7,188.4 267.8,187.1 267.9,185.9 268.1,184.7 268.2,183.5 268.4,182.3 268.6,181.1 268.8,179.9 269.0,178.7 269.2,177.6 269.4,176.5 269.7,175.4 270.0,174.1 270.4,172.9 270.8,171.7 271.2,170.5 271.6,169.3 272.0,168.2 272.5,167.1 272.9,166.0 273.4,164.9 273.9,163.8 274.5,162.7 275.0,161.6 275.6,160.6 276.2,159.5 276.9,158.5 277.6,157.5 278.3,156.5 279.1,155.5 279.9,154.5 280.6,153.5 281.4,152.6 282.2,151.6 283.0,150.7 283.7,149.7 284.5,148.7 285.2,147.7 285.9,146.7 286.6,145.6 287.3,144.5 287.9,143.5 288.6,142.4 289.3,141.4 290.1,140.4 290.8,139.4 291.6,138.5 292.5,137.7 293.4,136.9 294.3,136.2 295.3,135.6 296.4,135.1 297.5,134.6 298.6,134.1 299.8,133.7 300.9,133.3 302.1,132.9 303.3,132.5 304.5,132.2 305.7,131.8 306.9,131.3 308.0,130.9"/>
<path class="b" d="M303.8,197.0 304.0,195.7 304.2,194.5 304.4,193.2 304.6,191.8 304.8,190.5 305.0,189.2 305.2,187.9 305.4,186.6 305.6,185.3 305.8,184.1 306.0,182.8 306.2,181.6 306.4,180.5 306.6,179.4 306.8,178.4 307.1,177.0 307.4,175.8 307.7,174.6 308.1,173.4 308.4,172.3 308.7,171.2 309.0,170.0"/>
<path class="rd" d="M161.4,197.0 161.4,195.8 161.4,194.5 161.4,193.3 161.4,192.0 161.4,190.8 161.5,189.5 161.5,188.3 161.5,187.0 161.5,185.7 161.5,184.5 161.5,183.3 161.5,182.0 161.5,180.8 161.5,179.6 161.5,178.4 161.5,177.3 161.5,176.1 161.5,175.0 161.5,173.6 161.5,172.3 161.5,171.0 161.4,169.8 161.4,168.5 161.4,167.3 161.4,166.1 161.3,164.9 161.3,163.7 161.3,162.5 161.2,161.2 161.2,160.0 161.2,158.7 161.1,157.5 161.1,156.2 161.0,155.0 160.9,153.7 160.9,152.5 160.8,151.2 160.7,150.0 160.7,148.7 160.6,147.5 160.6,146.2 160.5,145.0 160.4,143.8 160.4,142.5 160.3,141.3 160.3,140.1 160.2,138.9 160.2,137.6 160.1,136.4 160.0,135.2 160.0,134.0 159.9,132.7 159.9,131.5 159.8,130.3"/>
<path class="rd" d="M183.9,197.0 183.9,195.7 183.9,194.4 183.8,193.1 183.8,191.8 183.8,190.5 183.7,189.2 183.7,187.9 183.7,186.6 183.6,185.3 183.6,184.0 183.6,182.7 183.6,181.4 183.6,180.2 183.7,179.0 183.7,177.7 183.8,176.6 183.9,175.4 184.0,174.0 184.2,172.7 184.4,171.4 184.6,170.1 184.8,168.8 185.1,167.6 185.3,166.3 185.6,165.1 185.9,163.9 186.2,162.8 186.5,161.7 186.9,160.6 187.4,159.4 187.9,158.3 188.4,157.2 189.0,156.2 189.5,155.2 190.1,154.1 190.7,153.0 191.3,151.7 191.7,150.8 192.1,149.7 192.5,148.7 192.9,147.5 193.3,146.4 193.7,145.1 194.2,143.9 194.6,142.6 195.0,141.4 195.4,140.1 195.9,138.8 196.3,137.6 196.7,136.4 197.1,135.2 197.5,134.0 197.9,133.0 198.3,131.9 198.7,131.0 199.3,129.7 199.8,128.5 200.4,127.3 200.9,126.3 201.4,125.2 201.9,124.2 202.5,123.1 203.0,122.0"/>
<path class="ro" d="M175.0,157.6 176.1,157.1 177.2,156.5 178.2,156.0 179.3,155.5 180.4,154.9 181.5,154.4 182.6,153.8 183.7,153.3 184.7,152.8 185.8,152.2 186.9,151.7 188.1,151.1 189.3,150.4 190.4,149.7 191.6,149.1 192.8,148.4 194.0,147.7 195.1,147.1 196.3,146.6 197.5,146.2 198.7,145.8 199.9,145.5 201.2,145.4 202.5,145.3 203.8,145.3 205.0,145.3 206.3,145.4 207.6,145.5 208.8,145.5 210.0,145.5 211.4,145.5 212.7,145.4 214.0,145.4 215.3,145.3 216.6,145.3 217.8,145.3 219.0,145.4 220.3,145.5 221.5,145.7 222.6,146.0 223.8,146.2 225.0,146.5 226.3,146.9 227.7,147.4 229.0,147.9 230.4,148.3 231.7,148.5 233.0,148.4 234.2,148.1 235.5,147.8 236.7,147.4 238.0,147.0 239.3,146.6 240.5,146.2 241.8,145.9 243.1,145.5 244.4,145.4 245.7,145.4 247.0,145.6 248.4,145.9 249.7,146.2 251.0,146.5 252.3,146.8 253.6,147.1 254.8,147.5 256.0,148.0 257.0,148.5 258.0,149.4 258.8,150.4 259.5,151.5 260.2,153.4 261.0,154.7 262.1,154.6 263.5,153.8 265.0,153.0 266.2,152.4 267.5,151.8 268.7,151.1 270.0,150.5"/>
<path class="ro" d="M189.0,162.0 190.3,161.7 191.7,161.4 193.0,161.1 194.3,160.6 195.5,159.8 196.7,158.8 197.7,157.9 198.7,157.6 199.9,158.4 201.0,160.0 201.6,160.9 202.1,162.0 202.7,163.2 203.3,164.4 204.0,165.5 204.7,166.5 205.6,167.5 206.5,168.5 207.6,169.5 208.6,170.3 209.6,170.9 210.6,171.0 211.5,170.7 212.4,170.0 213.3,169.0 214.2,167.7 215.1,166.4 215.8,165.0 216.5,163.6 216.9,162.6 217.3,161.4 217.6,160.2 217.8,158.9 218.1,157.6 218.3,156.3 218.4,154.9 218.6,153.6 218.8,152.3 219.0,151.0 219.2,149.8 219.5,148.7 219.9,147.3 220.3,146.0 220.7,144.7 221.1,143.4 221.6,142.2 222.0,141.0 222.5,139.8 223.0,138.7 223.5,137.5 224.0,136.4 224.5,135.3 225.0,134.2 225.5,133.1 226.0,132.0"/>
<path class="rd" d="M213.2,197.0 213.2,195.8 213.2,194.6 213.2,193.4 213.3,192.1 213.3,190.9 213.3,189.7 213.3,188.5 213.3,187.3 213.3,186.0 213.3,184.8 213.4,183.6 213.4,182.4 213.4,181.2 213.4,180.0 213.4,178.7 213.4,177.4 213.4,176.1 213.4,174.8 213.4,173.4 213.4,172.1 213.4,170.8 213.4,169.5 213.4,168.2 213.4,167.0 213.5,165.8 213.5,164.7 213.6,163.6 213.7,162.2 213.9,160.9 214.0,159.7 214.2,158.5 214.4,157.3 214.7,156.1 215.0,155.0 215.4,153.8 215.9,152.6 216.4,151.4 216.9,150.3 217.5,149.2 218.0,148.0"/>
<path class="ro" d="M236.5,197.0 236.6,195.8 236.6,194.6 236.7,193.3 236.7,192.1 236.8,190.9 236.8,189.7 236.9,188.4 237.0,187.2 237.0,186.0 237.1,184.8 237.2,183.6 237.3,182.4 237.4,181.2 237.5,180.0 237.6,178.7 237.8,177.4 238.0,176.1 238.1,174.8 238.3,173.5 238.5,172.2 238.7,171.0 238.9,169.7 239.2,168.5 239.4,167.3 239.7,166.1 240.0,165.0 240.4,163.6 240.8,162.3 241.3,161.0 241.7,159.7 242.2,158.5 242.8,157.3 243.4,156.1 244.0,155.0 244.7,153.9 245.6,152.8 246.4,151.8 247.3,150.8 248.2,149.8 249.1,148.9 250.0,148.0 251.0,146.9 252.0,145.9 253.0,144.9 254.0,144.0 255.0,143.0"/>
<path class="ro" d="M260.8,154.7 261.9,154.2 263.1,153.7 264.2,153.3 265.3,152.8 266.5,152.3 267.6,151.8 268.8,151.3 269.9,150.8 271.0,150.3 272.2,149.9 273.3,149.5 274.5,149.1 275.6,148.7 276.8,148.3 278.0,148.0 279.1,147.7 280.3,147.4 281.5,147.2 282.7,146.9 283.9,146.7 285.1,146.4 286.3,146.2 287.5,146.0 288.7,145.7 290.0,145.5 291.1,145.3 292.3,145.1 293.5,144.9 294.6,144.7 295.8,144.5 297.0,144.4 298.3,144.2 299.5,144.0 300.7,143.8 301.9,143.7 303.1,143.5 304.4,143.3 305.6,143.2 306.8,143.0 308.0,142.8"/>
<path class="ro" d="M271.2,197.0 271.4,195.8 271.6,194.5 271.7,193.2 271.9,192.0 272.1,190.7 272.3,189.4 272.4,188.2 272.6,186.9 272.8,185.7 273.0,184.4 273.2,183.2 273.4,182.0 273.6,180.8 273.8,179.6 274.1,178.4 274.4,177.1 274.7,175.8 275.0,174.5 275.3,173.2 275.6,172.0 275.9,170.7 276.3,169.5 276.7,168.3 277.1,167.1 277.6,165.9 278.1,164.7 278.6,163.6 279.2,162.5 279.8,161.4 280.5,160.4 281.2,159.3 282.0,158.3 282.8,157.3 283.6,156.3 284.4,155.3 285.2,154.4 286.0,153.5 286.7,152.6 287.5,151.7 288.4,150.6 289.4,149.6 290.3,148.6 291.3,147.7 292.2,146.8 293.1,145.9 294.1,144.9 295.0,144.0"/>
<path class="ro" d="M294.9,197.0 295.1,195.8 295.3,194.5 295.4,193.2 295.6,192.0 295.7,190.7 295.9,189.4 296.0,188.2 296.2,186.9 296.3,185.6 296.5,184.4 296.7,183.2 297.0,181.9 297.2,180.7 297.6,179.6 297.9,178.4 298.3,177.2 298.8,175.9 299.3,174.7 299.9,173.4 300.4,172.2 301.1,171.0 301.7,169.8 302.3,168.7 302.9,167.5 303.5,166.5 304.1,165.5 304.7,164.5 305.3,163.6 306.1,162.4 306.9,161.4 307.7,160.4 308.4,159.5 309.2,158.6 310.0,157.6"/>
<path class="rd" d="M193.0,118.0 193.0,119.2 193.0,120.5 193.0,121.7 193.0,123.0 193.0,124.3 193.1,125.5 193.1,126.8 193.1,128.1 193.1,129.3 193.1,130.6 193.1,131.8 193.1,133.0 193.1,134.2 193.0,135.4 193.0,136.5 192.9,137.8 192.9,139.1 192.8,140.3 192.7,141.6 192.6,142.8 192.5,144.0 192.4,145.2 192.3,146.4 192.2,147.6 192.1,148.8 192.0,150.0"/>
</g>
<g clip-path="url(#cr)">
<path class="rd" d="M376.7,7.0 376.8,158.0"/>
<path class="ro" d="M376.8,158.0 377.0,159.4 377.3,160.9 377.6,162.0 378.0,162.7 378.5,163.0 379.6,162.0 381.0,160.5 382.0,159.8 383.0,159.2 384.2,158.6 385.2,157.9 386.3,157.2 387.4,156.4 388.5,155.8 389.7,155.5 390.9,155.6 392.1,156.0 393.4,156.5 394.7,157.2 396.0,157.7 397.1,158.1 398.3,158.5 399.4,159.0 400.6,159.4 401.9,159.8 403.1,160.2 404.3,160.5 405.6,160.7 406.9,160.9 408.2,161.1 409.6,161.2 410.9,161.3 412.2,161.4 413.4,161.4 414.7,161.4 415.9,161.4 417.1,161.4 418.4,161.3 420.0,161.2 420.9,161.1 421.9,161.0 422.9,160.9 424.0,160.8 425.1,160.7 426.3,160.6 427.6,160.4 428.8,160.3 430.2,160.1 431.5,159.9 432.9,159.7 434.2,159.6 435.6,159.4 437.0,159.2 438.4,159.0 439.7,158.8 441.1,158.6 442.4,158.5 443.7,158.3 445.0,158.1 446.2,157.9 447.4,157.8 448.6,157.6 449.7,157.4 450.9,157.2 452.1,157.0 453.2,156.9 454.4,156.7 455.6,156.5 456.8,156.3 457.9,156.1 459.1,155.9 460.3,155.7 461.5,155.5 462.7,155.3 463.9,155.2 465.1,155.0 466.3,154.8 467.5,154.6 468.8,154.5 470.0,154.3 471.1,154.2 472.3,154.0 473.4,153.9 474.6,153.7 475.7,153.6 476.9,153.5 478.0,153.4 479.2,153.2 480.3,153.1 481.5,153.0 482.7,152.9 483.9,152.7 485.0,152.6 486.2,152.5 487.4,152.4 488.6,152.3 489.9,152.1 491.1,152.0 492.3,151.9 493.6,151.8 494.8,151.7 496.1,151.6 497.4,151.4 498.7,151.3 500.0,151.2 501.1,151.1 502.2,151.0 503.4,150.9 504.6,150.8 505.7,150.7 506.9,150.6 508.2,150.5 509.4,150.4 510.6,150.3 511.9,150.2 513.2,150.1 514.5,150.0 515.7,149.9 517.0,149.7 518.3,149.6 519.6,149.5 520.9,149.4 522.2,149.3 523.5,149.2 524.8,149.1 526.1,149.0 527.4,148.9 528.7,148.8 529.9,148.7 531.2,148.6 532.4,148.5 533.7,148.4 534.9,148.3 536.1,148.2 537.3,148.1 538.5,148.0 539.6,147.9 540.7,147.9 541.8,147.8 542.9,147.7 544.0,147.6 545.0,147.5 546.4,147.4 547.7,147.3 549.0,147.1 550.3,147.0 551.5,146.9 552.7,146.8 553.9,146.7 555.0,146.6 556.2,146.5 557.3,146.4 558.4,146.3 559.6,146.2 560.7,146.1 561.9,146.0 563.0,145.9 564.2,145.8 565.5,145.7 566.7,145.6 568.0,145.5 569.1,145.4 570.3,145.3 571.4,145.3 572.6,145.2 573.8,145.1 575.0,145.0 576.2,145.0 577.4,144.9 578.6,144.8 579.8,144.7 581.1,144.7 582.3,144.6 583.6,144.5 584.8,144.5 586.1,144.4 587.3,144.3 588.6,144.3 589.8,144.2 591.1,144.1 592.4,144.1 593.6,144.0 594.9,144.0 596.2,143.9 597.5,143.8 598.7,143.8 600.0,143.7 601.2,143.6 602.3,143.6 603.5,143.5 604.7,143.5 605.9,143.4 607.1,143.4 608.3,143.3 609.4,143.3 610.6,143.2 611.8,143.2 613.0,143.1 614.2,143.1 615.5,143.0 616.7,143.0 617.9,142.9 619.1,142.9 620.3,142.8 621.5,142.8 622.7,142.7 623.9,142.7 625.1,142.6 626.3,142.6 627.6,142.5 628.8,142.5 630.0,142.4 631.2,142.4 632.4,142.3 633.6,142.3 634.8,142.2 636.0,142.2"/>
<path class="b" d="M379.7,7.0 379.7,8.2 379.7,9.4 379.7,10.7 379.7,11.9 379.7,13.2 379.7,14.5 379.7,15.8 379.7,17.1 379.7,18.4 379.7,19.7 379.7,21.0 379.7,22.4 379.7,23.8 379.7,25.1 379.6,26.5 379.6,27.9 379.6,29.3 379.6,30.7 379.6,32.1 379.6,33.6 379.6,35.0 379.6,36.4 379.6,37.9 379.6,39.3 379.6,40.8 379.6,42.3 379.6,43.7 379.5,45.2 379.5,46.7 379.5,48.2 379.5,49.6 379.5,51.1 379.5,52.6 379.5,54.1 379.5,55.6 379.5,57.1 379.5,58.6 379.4,60.1 379.4,61.6 379.4,63.1 379.4,64.6 379.4,66.1 379.4,67.6 379.4,69.1 379.4,70.6 379.4,72.0 379.4,73.5 379.3,75.0 379.3,76.5 379.3,78.0 379.3,79.4 379.3,80.9 379.3,82.3 379.3,83.8 379.3,85.2 379.3,86.7 379.3,88.1 379.3,89.5 379.3,90.9 379.2,92.4 379.2,93.8 379.2,95.1 379.2,96.5 379.2,97.9 379.2,99.2 379.2,100.6 379.2,101.9 379.2,103.3 379.2,104.6 379.2,105.9 379.2,107.2 379.2,108.4 379.2,109.7 379.2,110.9 379.2,112.2 379.2,113.4 379.2,114.6 379.2,115.8 379.2,117.0 379.2,118.1 379.2,119.2 379.2,120.4 379.2,121.5 379.2,122.6 379.2,123.6 379.2,124.7 379.2,125.7 379.2,126.7 379.2,127.7 379.2,128.7 379.2,129.6 379.3,130.5 379.3,131.4 379.3,132.3 379.3,133.2 379.3,134.0 379.3,134.8 379.3,135.6 379.3,136.4 379.4,137.1 379.4,137.8 379.4,138.5 379.4,139.2 379.4,139.8 379.4,140.4 379.5,141.0 379.5,141.6 379.5,142.1 379.5,142.6 379.6,143.1 379.6,143.5 379.6,143.9 379.6,144.3 379.7,144.7 379.7,145.0 379.9,146.8 380.3,148.0 380.8,149.1 381.5,150.0 382.3,150.4 383.3,150.5 384.4,150.2 385.6,149.6 387.0,149.0 388.1,148.6 389.3,148.1 390.6,147.7 391.9,147.2 393.3,146.8 394.5,146.4 395.8,146.0 397.2,145.5 398.5,145.1 399.9,144.7 401.2,144.4 402.4,144.1 403.7,143.8 405.0,143.6 406.2,143.5 407.5,143.4 408.8,143.4 410.2,143.5 411.6,143.6 413.1,143.8 414.5,144.0 415.9,144.3 417.0,144.6 418.6,145.3 420.0,146.2 421.3,147.0 422.7,147.9 424.0,148.7 425.1,149.2 426.3,149.5 427.5,149.9 428.7,150.4 430.1,150.9 431.4,151.4 432.8,151.8 433.9,152.1 435.1,152.4 436.2,152.6 437.4,152.9 438.8,153.1 439.9,153.3 441.0,153.4 442.2,153.5 443.4,153.7 444.7,153.8 446.0,153.9 447.3,154.0 448.6,154.1 450.0,154.2 451.4,154.3 452.5,154.4 453.7,154.4 454.8,154.5 456.0,154.6 457.2,154.6 458.4,154.7 459.6,154.7 460.8,154.8 462.1,154.8 463.3,154.9 464.6,154.9 465.9,154.9 467.3,155.0 468.6,155.0 470.0,155.0 471.1,155.0 472.1,155.0 473.2,155.0 474.3,155.0 475.4,155.0 476.6,155.0 477.7,155.0 478.9,155.0 480.0,154.9 481.2,154.9 482.4,154.9 483.6,154.9 484.8,154.8 486.0,154.8 487.2,154.8 488.5,154.7 489.7,154.7 491.0,154.6 492.2,154.6 493.5,154.6 494.8,154.5 496.1,154.5 497.4,154.4 498.7,154.4 500.0,154.3 501.1,154.3 502.2,154.2 503.3,154.1 504.5,154.1 505.6,154.0 506.8,154.0 507.9,153.9 509.1,153.8 510.3,153.8 511.5,153.7 512.7,153.6 513.9,153.6 515.1,153.5 516.4,153.4 517.6,153.3 518.8,153.3 520.1,153.2 521.3,153.1 522.6,153.0 523.8,152.9 525.1,152.8 526.3,152.8 527.6,152.7 528.8,152.6 530.1,152.5 531.3,152.4 532.6,152.4 533.9,152.3 535.1,152.2 536.4,152.1 537.6,152.0 538.8,152.0 540.1,151.9 541.3,151.8 542.6,151.7 543.8,151.7 545.0,151.6 546.2,151.5 547.4,151.5 548.6,151.4 549.9,151.3 551.1,151.3 552.3,151.2 553.5,151.1 554.7,151.1 555.9,151.0 557.1,150.9 558.4,150.9 559.6,150.8 560.8,150.7 562.0,150.7 563.2,150.6 564.4,150.6 565.6,150.5 566.9,150.4 568.1,150.4 569.3,150.3 570.5,150.3 571.7,150.2 572.9,150.1 574.2,150.1 575.4,150.0 576.6,149.9 577.8,149.9 579.0,149.8 580.2,149.8 581.5,149.7 582.7,149.7 583.9,149.6 585.1,149.5 586.3,149.5 587.6,149.4 588.8,149.4 590.0,149.3 591.2,149.2 592.4,149.2 593.6,149.1 594.8,149.1 596.0,149.0 597.2,149.0 598.4,148.9 599.7,148.9 600.9,148.8 602.1,148.8 603.3,148.7 604.5,148.6 605.7,148.6 606.9,148.5 608.1,148.5 609.3,148.4 610.5,148.4 611.8,148.3 613.0,148.3 614.2,148.2 615.4,148.2 616.6,148.1 617.8,148.1 619.0,148.0 620.2,148.0 621.5,147.9 622.7,147.9 623.9,147.8 625.1,147.8 626.3,147.7 627.5,147.7 628.7,147.6 629.9,147.6 631.2,147.5 632.4,147.5 633.6,147.4 634.8,147.4 636.0,147.3"/>
<path class="rd" d="M391.2,7.0 391.2,8.2 391.2,9.4 391.2,10.7 391.3,11.9 391.3,13.1 391.3,14.3 391.3,15.5 391.3,16.8 391.3,18.0 391.4,19.2 391.4,20.4 391.4,21.6 391.4,22.9 391.4,24.1 391.4,25.3 391.5,26.5 391.5,27.8 391.5,29.0 391.5,30.2 391.5,31.4 391.5,32.6 391.6,33.8 391.6,35.1 391.6,36.3 391.6,37.5 391.6,38.7 391.6,39.9 391.6,41.1 391.7,42.4 391.7,43.6 391.7,44.8 391.7,46.0 391.7,47.2 391.7,48.5 391.7,49.7 391.7,50.9 391.7,52.2 391.8,53.4 391.8,54.6 391.8,55.8 391.8,57.1 391.8,58.3 391.8,59.5 391.8,60.7 391.8,62.0 391.8,63.2 391.8,64.4 391.8,65.6 391.8,66.9 391.8,68.1 391.8,69.3 391.8,70.5 391.8,71.8 391.9,73.0 391.9,74.2 391.9,75.4 391.9,76.7 391.9,77.9 391.9,79.1 391.9,80.3 392.0,81.5 392.0,82.8 392.0,84.0 392.0,85.2 392.1,86.5 392.1,87.7 392.1,88.9 392.1,90.1 392.2,91.4 392.2,92.6 392.2,93.8 392.3,95.0 392.3,96.3 392.4,97.5 392.4,98.7 392.4,99.9 392.5,101.2 392.5,102.4 392.6,103.6 392.6,104.8 392.7,106.1 392.7,107.3 392.7,108.5 392.8,109.7 392.8,111.0 392.9,112.2 392.9,113.4 393.0,114.6 393.0,115.9 393.0,117.1 393.1,118.3 393.1,119.5 393.2,120.8 393.2,122.0"/>
<path class="ro" d="M393.2,122.0 393.3,123.4 393.5,125.0 393.6,126.1 393.7,127.5 393.9,128.8 394.1,130.2 394.5,131.4 395.1,132.7 395.8,133.9 396.7,135.0 397.5,136.1 398.4,137.3 399.4,138.3 400.6,139.1 401.7,139.4 402.9,139.6 404.3,139.6 405.6,139.6 407.0,139.6 408.2,139.5 409.5,139.4 410.7,139.3 412.0,139.1 413.2,139.1 414.3,139.1 415.9,139.4 417.4,139.9 418.8,140.5 420.0,141.2 421.1,142.0 422.0,143.0 422.7,144.2 423.3,145.5 424.0,146.8 425.0,147.9 426.2,149.0 427.5,149.9 428.7,150.5 430.0,151.0 431.4,151.4 432.8,151.8 433.9,152.1 435.1,152.4 436.2,152.6 437.4,152.9 438.8,153.1 439.9,153.3 441.0,153.4 442.2,153.5 443.4,153.7 444.7,153.8 446.0,153.9 447.3,154.0 448.6,154.1 450.0,154.2 451.4,154.3 452.5,154.4 453.7,154.4 454.8,154.5 456.0,154.6 457.2,154.6 458.4,154.7 459.6,154.7 460.8,154.8 462.1,154.8 463.3,154.9 464.6,154.9 465.9,154.9 467.3,155.0 468.6,155.0 470.0,155.0 471.1,155.0 472.1,155.0 473.2,155.0 474.3,155.0 475.4,155.0 476.6,155.0 477.7,155.0 478.9,155.0 480.0,154.9 481.2,154.9 482.4,154.9 483.6,154.9 484.8,154.8 486.0,154.8 487.2,154.8 488.5,154.7 489.7,154.7 491.0,154.6 492.2,154.6 493.5,154.6 494.8,154.5 496.1,154.5 497.4,154.4 498.7,154.4 500.0,154.3 501.1,154.3 502.2,154.2 503.3,154.1 504.5,154.1 505.6,154.0 506.8,154.0 507.9,153.9 509.1,153.8 510.3,153.8 511.5,153.7 512.7,153.6 513.9,153.6 515.1,153.5 516.4,153.4 517.6,153.3 518.8,153.3 520.1,153.2 521.3,153.1 522.6,153.0 523.8,152.9 525.1,152.8 526.3,152.8 527.6,152.7 528.8,152.6 530.1,152.5 531.3,152.4 532.6,152.4 533.9,152.3 535.1,152.2 536.4,152.1 537.6,152.0 538.8,152.0 540.1,151.9 541.3,151.8 542.6,151.7 543.8,151.7 545.0,151.6 546.2,151.5 547.4,151.5 548.6,151.4 549.9,151.3 551.1,151.3 552.3,151.2 553.5,151.1 554.7,151.1 555.9,151.0 557.1,150.9 558.4,150.9 559.6,150.8 560.8,150.7 562.0,150.7 563.2,150.6 564.4,150.6 565.6,150.5 566.9,150.4 568.1,150.4 569.3,150.3 570.5,150.3 571.7,150.2 572.9,150.1 574.2,150.1 575.4,150.0 576.6,149.9 577.8,149.9 579.0,149.8 580.2,149.8 581.5,149.7 582.7,149.7 583.9,149.6 585.1,149.5 586.3,149.5 587.6,149.4 588.8,149.4 590.0,149.3 591.2,149.2 592.4,149.2 593.6,149.1 594.8,149.1 596.0,149.0 597.2,149.0 598.4,148.9 599.7,148.9 600.9,148.8 602.1,148.8 603.3,148.7 604.5,148.6 605.7,148.6 606.9,148.5 608.1,148.5 609.3,148.4 610.5,148.4 611.8,148.3 613.0,148.3 614.2,148.2 615.4,148.2 616.6,148.1 617.8,148.1 619.0,148.0 620.2,148.0 621.5,147.9 622.7,147.9 623.9,147.8 625.1,147.8 626.3,147.7 627.5,147.7 628.7,147.6 629.9,147.6 631.2,147.5 632.4,147.5 633.6,147.4 634.8,147.4 636.0,147.3"/>
<path class="rd" d="M410.3,7.0 410.3,8.2 410.3,9.5 410.3,10.7 410.4,12.0 410.4,13.2 410.4,14.5 410.4,15.8 410.4,17.1 410.4,18.4 410.5,19.7 410.5,20.9 410.5,22.2 410.5,23.5 410.5,24.8 410.5,26.1 410.6,27.4 410.6,28.6 410.6,29.9 410.6,31.1 410.6,32.4 410.6,33.6 410.6,34.8 410.7,36.0 410.7,37.2 410.7,38.4 410.7,39.5 410.7,40.7 410.7,41.8 410.8,42.9 410.8,43.9 410.8,45.0 410.8,46.0 410.8,47.5 410.8,48.9 410.9,50.2 410.9,51.6 410.9,52.8 410.9,54.1 410.9,55.3 410.9,56.5 411.0,57.7 411.0,58.9 411.0,60.1 411.0,61.3 411.1,62.5 411.1,63.7 411.1,65.0 411.1,66.3 411.2,67.5 411.2,68.8 411.2,70.0 411.2,71.3 411.2,72.6 411.3,73.8 411.3,75.1 411.3,76.3 411.4,77.6 411.4,78.9 411.4,80.1 411.5,81.4 411.5,82.7 411.6,84.0 411.7,85.2 411.7,86.4 411.8,87.7 411.9,88.9 411.9,90.2 412.0,91.4 412.1,92.7 412.2,93.9 412.3,95.2 412.3,96.5 412.4,97.7 412.5,99.0 412.6,100.2 412.7,101.4 412.8,102.6 412.9,103.8 413.0,105.0 413.1,106.3 413.2,107.5 413.3,108.8 413.5,110.0 413.6,111.2 413.7,112.4 413.8,113.6 413.9,114.8 414.1,116.0 414.2,117.2 414.3,118.4 414.5,119.6 414.6,120.8 414.7,122.0"/>
<path class="ro" d="M414.7,122.0 415.0,123.2 415.4,124.4 415.7,125.7 416.1,126.8 416.5,128.0 417.0,129.3 417.6,130.6 418.2,131.9 419.0,133.0 419.8,133.9 420.7,134.6 421.7,135.4 422.8,136.0 424.0,136.5 425.1,136.8 426.3,137.1 427.5,137.2 428.8,137.3 430.2,137.4 431.5,137.4 432.8,137.5 434.0,137.6 435.2,137.6 436.3,137.7 437.5,137.7 438.7,137.8 440.0,137.8 441.3,137.9 442.6,138.0 443.8,138.1 444.9,138.2 446.2,138.4 447.5,138.5 448.7,138.7 450.0,138.9 451.4,139.0 452.7,139.2 454.0,139.4 455.2,139.6 456.5,139.7 457.7,139.9 459.0,140.1 460.3,140.2 461.5,140.4 462.8,140.6 464.0,140.8 465.2,140.9 466.4,141.1 467.6,141.2 468.8,141.4 470.0,141.5 471.3,141.6 472.4,141.8 473.5,141.9 474.6,142.0 475.8,142.1 477.1,142.2 478.4,142.2 480.0,142.3 480.8,142.3 481.7,142.4 482.6,142.4 483.6,142.4 484.6,142.4 485.6,142.4 486.7,142.4 487.8,142.4 489.0,142.4 490.2,142.4 491.4,142.4 492.6,142.4 493.8,142.4 495.1,142.4 496.4,142.4 497.7,142.3 499.0,142.3 500.3,142.3 501.6,142.3 503.0,142.3 504.3,142.3 505.7,142.2 507.0,142.2 508.4,142.2 509.7,142.2 511.0,142.1 512.4,142.1 513.7,142.1 515.0,142.1 516.3,142.1 517.5,142.0 518.8,142.0 520.0,142.0 521.2,142.0 522.4,142.0 523.6,141.9 524.8,141.9 526.1,141.9 527.3,141.9 528.5,141.9 529.7,141.9 530.9,141.8 532.1,141.8 533.3,141.8 534.5,141.8 535.8,141.8 537.0,141.7 538.2,141.7 539.4,141.7 540.6,141.7 541.8,141.7 543.0,141.6 544.2,141.6 545.5,141.6 546.7,141.6 547.9,141.5 549.1,141.5 550.3,141.5 551.5,141.4 552.7,141.4 553.9,141.4 555.2,141.3 556.4,141.3 557.6,141.3 558.8,141.2 560.0,141.2 561.2,141.2 562.4,141.1 563.6,141.1 564.9,141.0 566.1,141.0 567.3,140.9 568.5,140.9 569.7,140.9 571.0,140.8 572.2,140.8 573.4,140.7 574.6,140.7 575.9,140.6 577.1,140.5 578.3,140.5 579.5,140.4 580.7,140.4 582.0,140.3 583.2,140.3 584.4,140.2 585.6,140.2 586.8,140.1 588.0,140.1 589.2,140.0 590.5,139.9 591.7,139.9 592.9,139.8 594.1,139.8 595.3,139.7 596.4,139.7 597.6,139.6 598.8,139.6 600.0,139.5 601.2,139.4 602.5,139.4 603.7,139.3 604.9,139.3 606.1,139.2 607.3,139.2 608.5,139.1 609.7,139.1 610.9,139.0 612.1,138.9 613.3,138.9 614.5,138.8 615.7,138.8 616.9,138.7 618.1,138.7 619.3,138.6 620.5,138.5 621.7,138.5 622.9,138.4 624.1,138.4 625.3,138.3 626.4,138.3 627.6,138.2 628.8,138.1 630.0,138.1 631.2,138.0 632.4,138.0 633.6,137.9 634.8,137.9 636.0,137.8"/>
<path class="b" d="M370.5,70.3 371.8,70.3 373.1,70.3 374.4,70.3 375.7,70.4 377.0,70.4 378.4,70.4 379.7,70.4 381.0,70.4 382.3,70.4 383.6,70.4 384.8,70.5 386.1,70.5 387.2,70.5 388.4,70.6 389.5,70.6 391.0,70.7 392.4,70.7 393.7,70.8 395.0,70.9 396.3,71.0 397.5,71.1 398.7,71.2 400.0,71.3 401.4,71.4 402.8,71.6 404.2,71.7 405.6,71.9 406.9,72.1 408.1,72.3 409.2,72.5 410.6,72.9 411.9,73.3 413.0,73.8 414.3,74.6 415.5,75.5 416.2,76.4 416.9,77.5 417.5,78.5 418.2,79.5 418.8,80.6 419.2,81.5 419.5,82.6 419.9,83.9 420.2,85.2 420.5,86.6 420.7,88.0 420.8,89.2 420.9,90.4 420.9,91.7 420.9,93.0 420.8,94.4 420.8,95.7 420.8,97.1 420.9,98.4 421.0,99.7 421.2,101.0 421.4,102.2 421.6,103.5 421.8,104.8 422.1,106.0 422.4,107.2 422.7,108.4 423.1,109.6 423.4,110.7 423.9,112.0 424.4,113.3 424.9,114.5 425.4,115.6 426.0,116.8 426.5,117.8 427.1,119.0 427.6,120.0 428.2,121.1 428.9,122.0 429.7,122.9 430.6,123.7 431.6,124.4 432.8,125.1 433.7,125.5 434.7,126.0 435.8,126.4 437.0,126.7 438.2,127.1 439.5,127.4 440.9,127.7 442.3,128.0 443.8,128.3 444.8,128.5 445.9,128.6 447.0,128.7 448.3,128.8 449.5,128.9 450.8,129.0 452.1,129.1 453.5,129.1 454.9,129.2 456.3,129.2 457.7,129.3 459.0,129.3 460.4,129.3 461.8,129.4 463.1,129.4 464.4,129.5 465.6,129.5 466.8,129.6 467.9,129.6 469.0,129.7 470.0,129.8 471.4,130.0 472.7,130.1 473.9,130.3 475.0,130.5 476.1,130.6 477.3,130.8 478.6,131.0 480.0,131.2 481.0,131.3 482.0,131.4 483.1,131.6 484.3,131.7 485.5,131.8 486.7,131.9 487.9,132.0 489.2,132.2 490.5,132.3 491.8,132.4 493.1,132.6 494.5,132.7 495.8,132.8 497.1,132.9 498.5,133.1 499.8,133.2 501.1,133.3 502.4,133.4 503.7,133.6 505.0,133.7 506.2,133.8 507.5,134.0 508.7,134.1 510.0,134.2 511.2,134.3 512.4,134.5 513.7,134.6 514.9,134.7 516.1,134.9 517.4,135.0 518.6,135.1 519.8,135.3 521.1,135.4 522.3,135.5 523.6,135.6 524.9,135.7 526.1,135.9 527.4,136.0 528.7,136.1 530.0,136.2 531.1,136.3 532.3,136.4 533.4,136.5 534.6,136.6 535.8,136.7 536.9,136.7 538.1,136.8 539.2,136.9 540.4,137.0 541.6,137.1 542.8,137.2 544.0,137.2 545.2,137.3 546.4,137.4 547.6,137.5 548.8,137.5 550.0,137.6 551.2,137.7 552.4,137.7 553.7,137.8 554.9,137.9 556.2,137.9 557.4,138.0 558.7,138.0 560.0,138.1 561.1,138.1 562.3,138.2 563.4,138.2 564.6,138.3 565.8,138.3 566.9,138.3 568.1,138.4 569.3,138.4 570.5,138.4 571.8,138.4 573.0,138.5 574.2,138.5 575.4,138.5 576.7,138.5 577.9,138.5 579.1,138.6 580.4,138.6 581.6,138.6 582.9,138.6 584.1,138.6 585.4,138.6 586.6,138.6 587.8,138.7 589.1,138.7 590.3,138.7 591.6,138.7 592.8,138.7 594.0,138.7 595.2,138.7 596.4,138.7 597.6,138.8 598.8,138.8 600.0,138.8 601.2,138.8 602.5,138.8 603.7,138.9 604.9,138.9 606.1,138.9 607.3,138.9 608.5,138.9 609.7,138.9 610.9,139.0 612.1,139.0 613.3,139.0 614.5,139.0 615.7,139.0 616.9,139.0 618.1,139.1 619.3,139.1 620.5,139.1 621.7,139.1 622.9,139.1 624.1,139.1 625.3,139.2 626.4,139.2 627.6,139.2 628.8,139.2 630.0,139.2 631.2,139.2 632.4,139.3 633.6,139.3 634.8,139.3 636.0,139.3"/>
<path class="b" d="M418.7,7.0 418.8,8.2 418.8,9.5 418.9,10.7 418.9,12.0 419.0,13.3 419.0,14.6 419.1,15.9 419.2,17.3 419.2,18.6 419.3,19.9 419.3,21.3 419.4,22.6 419.5,23.9 419.5,25.3 419.6,26.6 419.6,27.9 419.7,29.2 419.7,30.5 419.8,31.8 419.9,33.0 419.9,34.2 420.0,35.5 420.0,36.7 420.1,37.8 420.1,39.0 420.2,40.1 420.2,41.1 420.3,42.2 420.3,43.2 420.4,44.2 420.5,45.1 420.5,46.0 420.6,47.5 420.7,48.9 420.8,50.2 420.8,51.4 420.9,52.6 421.0,53.7 421.1,54.8 421.1,55.9 421.2,56.9 421.3,58.0 421.4,59.4 421.4,60.7 421.4,62.0 421.5,63.2 421.6,64.4 421.9,65.5 422.3,66.6 422.8,67.7 423.5,68.7 424.2,69.7 425.1,70.6 426.0,71.3 427.0,71.9 428.1,72.5 429.2,73.1 430.5,73.7 431.7,74.3 432.8,74.9 433.9,75.6 434.9,76.3 435.9,77.1 436.8,77.9 437.8,78.7 438.7,79.5 439.6,80.3 440.5,81.1 441.4,81.9 442.4,82.7 443.3,83.6 444.3,84.4 445.2,85.2 446.1,86.1 446.9,87.0 447.7,88.0 448.3,89.0 448.9,90.0 449.4,91.0 449.9,92.1 450.3,93.2 450.8,94.4 451.4,95.5 452.0,96.6 452.6,97.6 453.3,98.6 453.9,99.6 454.6,100.6 455.4,101.7 456.1,102.7 456.9,103.7 457.7,104.7 458.4,105.7 459.2,106.6 460.0,107.5 460.9,108.4 461.8,109.4 462.7,110.2 463.6,111.1 464.5,111.9 465.4,112.7 466.3,113.5 467.2,114.3 468.0,115.0 469.0,116.0 470.0,116.9 471.0,117.8 471.9,118.7 473.0,119.5 474.1,120.2 475.1,120.9 476.3,121.6 477.5,122.2 478.7,122.7 480.0,123.2 481.1,123.5 482.3,123.8 483.5,124.0 484.7,124.1 486.0,124.3 487.3,124.4 488.6,124.5 490.0,124.6 491.1,124.7 492.2,124.8 493.3,124.9 494.4,125.0 495.6,125.0 496.7,125.1 497.9,125.1 499.2,125.2 500.5,125.2 501.9,125.3 503.4,125.3 505.0,125.4 505.9,125.4 506.7,125.5 507.6,125.5 508.6,125.5 509.5,125.5 510.5,125.6 511.5,125.6 512.6,125.6 513.6,125.6 514.7,125.7 515.8,125.7 517.0,125.7 518.1,125.7 519.3,125.7 520.4,125.8 521.6,125.8 522.9,125.8 524.1,125.8 525.3,125.9 526.6,125.9 527.9,125.9 529.1,125.9 530.4,125.9 531.7,125.9 533.1,126.0 534.4,126.0 535.7,126.0 537.0,126.0 538.4,126.0 539.7,126.0 541.1,126.0 542.4,126.1 543.8,126.1 545.2,126.1 546.5,126.1 547.9,126.1 549.2,126.1 550.6,126.1 552.0,126.1 553.3,126.2 554.7,126.2 556.0,126.2 557.3,126.2 558.7,126.2 560.0,126.2 561.1,126.2 562.2,126.2 563.4,126.2 564.5,126.2 565.6,126.2 566.8,126.2 567.9,126.2 569.1,126.2 570.2,126.2 571.4,126.2 572.5,126.2 573.7,126.2 574.9,126.2 576.1,126.2 577.2,126.2 578.4,126.2 579.6,126.2 580.8,126.2 582.0,126.2 583.2,126.2 584.4,126.2 585.6,126.2 586.8,126.2 588.1,126.2 589.3,126.2 590.5,126.2 591.7,126.2 592.9,126.2 594.2,126.2 595.4,126.2 596.6,126.2 597.8,126.2 599.1,126.2 600.3,126.2 601.5,126.2 602.8,126.2 604.0,126.1 605.3,126.1 606.5,126.1 607.7,126.1 609.0,126.1 610.2,126.1 611.5,126.1 612.7,126.1 613.9,126.1 615.2,126.1 616.4,126.1 617.6,126.1 618.9,126.1 620.1,126.1 621.3,126.1 622.6,126.1 623.8,126.0 625.0,126.0 626.3,126.0 627.5,126.0 628.7,126.0 629.9,126.0 631.2,126.0 632.4,126.0 633.6,126.0 634.8,126.0 636.0,126.0"/>
<path class="b" d="M421.8,7.0 422.0,8.2 422.2,9.4 422.4,10.7 422.6,11.9 422.8,13.1 423.0,14.4 423.2,15.6 423.4,16.8 423.6,18.0 423.8,19.2 424.1,20.4 424.4,21.5 424.7,22.6 425.0,23.7 425.4,24.9 425.9,26.1 426.4,27.2 427.0,28.3 427.6,29.4 428.1,30.4 428.7,31.5 429.3,32.5 429.9,33.6 430.4,34.7 430.9,35.8 431.4,37.0 432.0,38.1 432.5,39.3 433.0,40.5 433.5,41.6 434.0,42.8 434.5,43.9 435.0,45.0 435.5,46.0 436.1,47.3 436.8,48.5 437.5,49.7 438.1,50.9 438.8,52.0 439.4,53.0 440.0,54.0 440.7,55.1 441.4,56.0 442.0,56.9 442.7,58.0 443.2,59.0 443.7,60.2 444.2,61.4 444.6,62.7 445.1,64.0 445.6,65.4 446.0,66.7 446.4,68.0 446.8,69.3 447.1,70.5 447.5,71.8 447.8,73.0 448.1,74.3 448.4,75.6 448.7,76.8 448.9,78.1 449.1,79.3 449.2,80.6 449.3,81.9 449.4,83.1 449.5,84.4 449.7,85.6 449.9,86.8 450.2,88.0 450.6,89.1 451.1,90.2 451.7,91.3 452.3,92.4 452.9,93.5 453.6,94.5 454.3,95.5 455.0,96.6 455.7,97.6 456.4,98.6 457.1,99.7 457.9,100.7 458.7,101.7 459.5,102.7 460.3,103.7 461.2,104.6 462.0,105.5 462.9,106.4 463.9,107.4 464.8,108.3 465.8,109.1 466.8,110.0 467.9,110.8 468.9,111.5 470.0,112.3 471.0,113.0 472.1,113.6 473.2,114.3 474.3,114.9 475.4,115.4 476.6,116.0 477.7,116.5 478.9,117.0 480.0,117.5 481.2,118.0 482.5,118.4 483.7,118.8 485.0,119.2 486.3,119.6 487.5,119.9 488.8,120.2 490.0,120.5 491.3,120.8 492.5,121.0 493.7,121.2 494.9,121.4 496.2,121.6 497.5,121.8 499.0,122.0 500.0,122.2 501.1,122.4 502.2,122.5 503.3,122.7 504.4,123.0 505.6,123.2 506.8,123.4 508.1,123.6 509.3,123.8 510.6,124.0 512.0,124.2 513.4,124.4 514.8,124.6 516.2,124.7 517.7,124.9 518.7,125.0 519.7,125.1 520.7,125.2 521.7,125.2 522.7,125.3 523.8,125.4 524.9,125.5 526.0,125.5 527.1,125.6 528.2,125.7 529.3,125.7 530.5,125.8 531.6,125.8 532.8,125.9 534.0,125.9 535.2,126.0 536.4,126.0 537.6,126.1 538.9,126.1 540.1,126.2 541.4,126.2 542.6,126.2 543.9,126.3 545.2,126.3 546.5,126.3 547.8,126.4 549.1,126.4 550.5,126.4 551.8,126.4 553.2,126.5 554.5,126.5 555.9,126.5 557.2,126.6 558.6,126.6 560.0,126.6 561.0,126.6 562.1,126.6 563.1,126.6 564.2,126.7 565.3,126.7 566.4,126.7 567.5,126.7 568.6,126.7 569.7,126.7 570.8,126.7 572.0,126.7 573.1,126.7 574.2,126.7 575.4,126.7 576.6,126.7 577.7,126.7 578.9,126.7 580.1,126.7 581.3,126.7 582.5,126.7 583.7,126.7 584.9,126.7 586.1,126.7 587.3,126.7 588.6,126.7 589.8,126.7 591.0,126.6 592.3,126.6 593.5,126.6 594.7,126.6 596.0,126.6 597.2,126.6 598.5,126.6 599.8,126.6 601.0,126.5 602.3,126.5 603.5,126.5 604.8,126.5 606.1,126.5 607.3,126.5 608.6,126.5 609.8,126.4 611.1,126.4 612.4,126.4 613.6,126.4 614.9,126.4 616.2,126.4 617.4,126.4 618.7,126.3 619.9,126.3 621.2,126.3 622.5,126.3 623.7,126.3 624.9,126.3 626.2,126.3 627.4,126.3 628.7,126.3 629.9,126.2 631.1,126.2 632.4,126.2 633.6,126.2 634.8,126.2 636.0,126.2"/>
<path class="rd" d="M432.5,7.0 432.5,8.2 432.5,9.5 432.6,10.7 432.6,12.0 432.6,13.3 432.6,14.6 432.7,15.9 432.7,17.3 432.7,18.6 432.7,19.9 432.8,21.3 432.8,22.6 432.8,23.9 432.9,25.3 432.9,26.6 432.9,27.9 432.9,29.2 433.0,30.5 433.0,31.8 433.0,33.0 433.0,34.2 433.0,35.5 433.1,36.7 433.1,37.8 433.1,39.0 433.1,40.1 433.1,41.1 433.2,42.2 433.2,43.2 433.2,44.2 433.2,45.1 433.2,46.0 433.2,47.5 433.2,48.8 433.2,50.0 433.2,51.2 433.1,52.3 433.1,53.3 433.1,54.4 433.1,55.5 433.1,56.7 433.2,58.0 433.3,59.1 433.4,60.3 433.5,61.6 433.6,62.8 433.7,64.1 433.9,65.5 434.0,66.8 434.2,68.1 434.3,69.4 434.5,70.7 434.6,72.0 434.8,73.3 434.9,74.5 435.0,75.7 435.1,76.8 435.2,78.2 435.3,79.5 435.3,80.7 435.4,82.0 435.4,83.2 435.5,84.4 435.5,85.6 435.7,86.8 435.8,88.0 436.0,89.3 436.2,90.6 436.5,91.9 436.7,93.2 437.0,94.5 437.3,95.8 437.7,97.1 438.0,98.4 438.3,99.7 438.6,101.0 438.9,102.2 439.2,103.5 439.6,104.8 439.9,106.0 440.2,107.2 440.6,108.4 441.0,109.6 441.4,110.7 441.9,112.0 442.5,113.3 443.1,114.5 443.8,115.6 444.4,116.8 445.0,118.0"/>
<path class="ro" d="M445.0,118.0 445.8,119.0 446.7,120.1 447.5,121.1 448.5,122.0 449.6,122.7 450.7,123.3 451.9,123.9 453.2,124.4 454.4,124.9 455.7,125.3 457.1,125.7 458.5,126.1 460.0,126.5 461.2,126.8 462.4,127.0 463.6,127.3 464.9,127.5 466.2,127.7 467.4,127.9 468.7,128.1 470.0,128.2 471.2,128.3 472.3,128.4 473.5,128.5 474.6,128.5 475.8,128.6 477.0,128.6 478.4,128.7 480.0,128.7 480.9,128.7 481.7,128.7 482.7,128.7 483.7,128.8 484.7,128.8 485.7,128.8 486.8,128.8 488.0,128.7 489.1,128.7 490.3,128.7 491.5,128.7 492.7,128.7 494.0,128.7 495.3,128.7 496.6,128.7 497.9,128.7 499.2,128.7 500.5,128.6 501.8,128.6 503.2,128.6 504.5,128.6 505.9,128.6 507.2,128.6 508.6,128.6 509.9,128.6 511.2,128.6 512.6,128.6 513.9,128.6 515.2,128.7 516.4,128.7 517.7,128.7 518.9,128.7 520.1,128.8 521.2,128.8 522.4,128.8 523.6,128.9 524.8,128.9 526.0,129.0 527.2,129.0 528.4,129.1 529.6,129.1 530.9,129.2 532.1,129.3 533.3,129.3 534.5,129.4 535.7,129.5 536.9,129.5 538.2,129.6 539.4,129.7 540.6,129.7 541.8,129.8 543.0,129.9 544.3,129.9 545.5,130.0 546.7,130.0 547.9,130.1 549.1,130.2 550.4,130.2 551.6,130.3 552.8,130.3 554.0,130.4 555.2,130.4 556.4,130.5 557.6,130.5 558.8,130.6 560.0,130.6 561.2,130.6 562.5,130.7 563.7,130.7 564.9,130.7 566.1,130.7 567.4,130.8 568.6,130.8 569.8,130.8 571.0,130.8 572.3,130.8 573.5,130.8 574.7,130.8 575.9,130.8 577.2,130.9 578.4,130.9 579.6,130.9 580.8,130.9 582.0,130.9 583.2,130.9 584.4,130.9 585.7,130.9 586.9,130.9 588.1,130.9 589.3,130.9 590.5,130.9 591.7,130.9 592.9,130.9 594.1,130.9 595.3,130.9 596.4,131.0 597.6,131.0 598.8,131.0 600.0,131.0 601.2,131.0 602.5,131.0 603.7,131.1 604.9,131.1 606.1,131.1 607.3,131.1 608.5,131.1 609.7,131.2 610.9,131.2 612.1,131.2 613.3,131.2 614.5,131.3 615.7,131.3 616.9,131.3 618.1,131.3 619.3,131.4 620.5,131.4 621.7,131.4 622.9,131.4 624.1,131.5 625.3,131.5 626.4,131.5 627.6,131.5 628.8,131.6 630.0,131.6 631.2,131.6 632.4,131.6 633.6,131.7 634.8,131.7 636.0,131.7"/>
<path class="rd" d="M440.6,7.0 440.9,8.2 441.3,9.5 441.6,10.8 441.9,12.1 442.3,13.4 442.6,14.8 443.0,16.1 443.3,17.4 443.6,18.6 444.0,19.8 444.3,20.9 444.7,21.9 445.0,22.9 445.4,23.7 446.1,24.9 446.8,25.9 447.6,26.8 448.3,27.8 448.9,28.8 449.4,29.9 449.9,31.0 450.4,32.2 451.0,33.4 451.6,34.7 452.1,35.7 452.7,36.9 453.3,38.0 453.9,39.2 454.5,40.4 455.1,41.6 455.8,42.8 456.5,43.9 457.2,45.0 458.0,46.0 458.9,47.0 459.8,48.0 460.8,48.9 461.8,49.8 462.9,50.6 463.9,51.4 465.0,52.2 466.0,53.0 467.1,53.8 468.3,54.5 469.4,55.2 470.6,55.8 471.7,56.5 472.9,57.2 474.1,58.0 475.1,58.7 476.1,59.3 477.2,60.0 478.2,60.6 479.3,61.3 480.4,62.1 481.4,62.9 482.4,63.7 483.3,64.6 484.1,65.5 484.8,66.4 485.4,67.4 486.0,68.4 486.5,69.4 487.0,70.5 487.4,71.6 487.9,72.7 488.3,73.9 488.8,75.1 489.2,76.2 489.7,77.4 490.2,78.6 490.7,79.7 491.2,80.8 491.7,81.9 492.2,83.1 492.7,84.2 493.2,85.4 493.7,86.5 494.2,87.7 494.7,88.9 495.2,90.1 495.7,91.3 496.2,92.5 496.7,93.7 497.2,94.8 497.7,96.0"/>
<path class="ro" d="M497.7,96.0 498.5,97.0 499.4,97.9 500.2,98.9 501.1,99.9 502.0,101.0 502.8,101.9 503.5,102.9 504.3,103.9 505.1,104.9 506.0,106.0 506.8,107.1 507.8,108.1 508.8,109.1 509.6,109.9 510.5,110.6 511.4,111.4 512.4,112.2 513.3,113.0 514.4,113.8 515.4,114.6 516.4,115.3 517.4,116.0 518.5,116.7 519.5,117.4 520.4,118.0 521.4,118.5 522.6,119.1 523.8,119.7 525.1,120.2 526.3,120.6 527.5,121.0 528.6,121.4 529.7,121.7 530.8,122.0 532.2,122.3 533.5,122.6 534.8,122.8 536.5,123.0 537.3,123.1 538.2,123.3 539.2,123.5 540.2,123.6 541.2,123.8 542.3,124.0 543.4,124.2 544.6,124.4 545.8,124.6 547.0,124.8 548.3,125.0 549.7,125.2 551.0,125.4 552.4,125.6 553.9,125.7 555.4,125.9 556.9,126.0 558.4,126.2 560.0,126.3 560.9,126.4 561.8,126.4 562.7,126.5 563.6,126.5 564.6,126.6 565.5,126.6 566.5,126.6 567.5,126.7 568.6,126.7 569.6,126.7 570.7,126.7 571.8,126.8 572.9,126.8 574.0,126.8 575.1,126.8 576.2,126.8 577.4,126.8 578.5,126.8 579.7,126.8 580.9,126.8 582.1,126.8 583.3,126.8 584.5,126.8 585.8,126.8 587.0,126.8 588.3,126.8 589.5,126.8 590.8,126.8 592.1,126.8 593.3,126.8 594.6,126.7 595.9,126.7 597.2,126.7 598.5,126.7 599.8,126.7 601.1,126.6 602.5,126.6 603.8,126.6 605.1,126.6 606.4,126.6 607.7,126.5 609.1,126.5 610.4,126.5 611.7,126.5 613.0,126.5 614.3,126.4 615.7,126.4 617.0,126.4 618.3,126.4 619.6,126.4 620.9,126.3 622.2,126.3 623.5,126.3 624.8,126.3 626.0,126.3 627.3,126.3 628.6,126.2 629.8,126.2 631.1,126.2 632.3,126.2 633.6,126.2 634.8,126.2 636.0,126.2"/>
<path class="b" d="M451.5,7.0 451.6,8.3 451.7,9.5 451.9,10.8 452.0,12.1 452.1,13.5 452.2,14.8 452.3,16.1 452.4,17.4 452.5,18.7 452.6,19.9 452.8,21.2 452.9,22.4 453.0,23.6 453.2,24.8 453.3,25.9 453.5,27.0 453.7,28.4 454.0,29.7 454.2,31.0 454.4,32.2 454.7,33.4 455.0,34.6 455.3,35.8 455.6,36.9 456.0,38.0 456.5,39.2 457.0,40.4 457.5,41.6 458.1,42.7 458.7,43.8 459.3,44.9 460.0,46.0 460.8,47.1 461.6,48.1 462.5,49.1 463.4,50.1 464.3,51.1 465.2,52.1 466.0,53.0 466.9,54.1 467.6,55.1 468.4,56.1 469.3,57.0 470.3,58.0 471.2,58.7 472.2,59.4 473.3,60.1 474.5,60.8 475.7,61.5 476.9,62.2 478.1,62.9 479.3,63.6 480.4,64.3 481.5,65.0 482.7,65.8 483.8,66.5 485.0,67.3 486.2,68.1 487.2,68.8 488.3,69.5 489.2,70.1 490.0,70.6 491.4,71.4 492.7,72.3 493.3,72.9 494.0,73.6 494.8,74.3 495.6,75.2 496.4,76.1 497.2,77.1 498.1,78.1 499.0,79.2 499.8,80.2 500.7,81.3 501.5,82.3 502.2,83.2 502.9,84.2 503.6,85.2 504.3,86.2 505.0,87.2 505.8,88.3 506.5,89.3 507.2,90.4 507.9,91.4 508.6,92.4 509.3,93.4 510.0,94.3 510.8,95.2 511.5,96.0 512.5,97.0 513.5,98.0 514.5,98.8 515.5,99.6 516.5,100.4 517.5,101.2 518.6,102.0 519.8,102.8 520.7,103.4 521.7,104.1 522.7,104.7 523.8,105.4 524.8,106.0 525.9,106.7 527.0,107.3 528.2,107.9 529.3,108.5 530.5,109.1 531.6,109.7 532.8,110.2 533.9,110.7 535.1,111.2 536.2,111.6 537.4,112.0 538.6,112.4 539.8,112.8 541.0,113.1 542.2,113.5 543.4,113.8 544.6,114.1 545.8,114.5 547.1,114.8 548.3,115.1 549.6,115.4 550.8,115.7 552.0,116.0 553.2,116.3 554.4,116.6 555.6,116.8 556.8,117.1 558.0,117.4 559.2,117.6 560.5,117.9 561.7,118.1 563.0,118.4 564.2,118.6 565.5,118.8 566.7,119.1 568.0,119.3 569.2,119.5 570.3,119.7 571.4,119.9 572.5,120.1 573.7,120.3 574.8,120.5 575.9,120.6 577.0,120.8 578.2,121.0 579.3,121.2 580.5,121.3 581.7,121.5 583.0,121.6 584.3,121.8 585.6,122.0 587.0,122.1 588.4,122.3 589.4,122.4 590.4,122.5 591.4,122.6 592.5,122.7 593.5,122.8 594.6,122.9 595.7,123.0 596.9,123.1 598.0,123.2 599.2,123.3 600.4,123.4 601.6,123.5 602.8,123.6 604.0,123.7 605.3,123.8 606.5,123.9 607.8,124.0 609.0,124.1 610.3,124.2 611.6,124.3 612.9,124.4 614.2,124.4 615.5,124.5 616.8,124.6 618.1,124.7 619.4,124.8 620.7,124.9 622.0,125.0 623.3,125.1 624.6,125.2 625.9,125.3 627.2,125.3 628.5,125.4 629.8,125.5 631.0,125.6 632.3,125.7 633.5,125.8 634.8,125.9 636.0,126.0"/>
<path class="b" d="M453.0,7.0 453.1,8.3 453.2,9.5 453.3,10.8 453.4,12.1 453.5,13.5 453.7,14.8 453.8,16.1 453.9,17.4 454.0,18.7 454.1,20.0 454.2,21.2 454.3,22.4 454.5,23.6 454.6,24.8 454.8,25.9 455.0,27.0 455.3,28.4 455.5,29.7 455.8,31.0 456.2,32.2 456.5,33.4 456.8,34.6 457.2,35.8 457.6,36.9 458.0,38.0 458.5,39.2 459.0,40.4 459.5,41.6 460.1,42.7 460.7,43.8 461.3,44.9 462.0,46.0 462.7,47.1 463.5,48.1 464.4,49.2 465.2,50.2 466.1,51.2 467.0,52.1 468.0,53.0 468.9,53.8 469.9,54.6 470.9,55.4 471.9,56.1 472.9,56.8 474.1,57.4 475.3,58.0 476.3,58.4 477.5,58.8 478.7,59.2 480.0,59.6 481.3,60.0 482.7,60.3 484.0,60.6 485.4,60.9 486.6,61.1 487.9,61.4 489.0,61.6 490.0,61.8 491.3,62.1 492.5,62.2 493.6,62.4 494.7,62.5 496.0,62.7 497.1,62.8 498.3,63.0 499.5,63.1 500.9,63.2 502.2,63.3 503.6,63.4 504.9,63.6 506.2,63.7 507.5,63.8 508.6,63.9 509.9,64.0 511.1,64.1 512.3,64.2 513.4,64.3 514.7,64.4 516.1,64.6 517.1,64.7 518.2,64.8 519.4,65.0 520.6,65.1 521.8,65.3 523.1,65.4 524.4,65.6 525.7,65.8 527.1,66.0 528.4,66.2 529.8,66.4 531.1,66.6 532.4,66.8 533.7,67.1 534.9,67.3 536.0,67.6 537.2,67.9 538.4,68.2 539.6,68.4 540.8,68.7 541.9,69.1 543.1,69.4 544.3,69.7 545.5,70.0 546.7,70.4 547.9,70.7 549.0,71.1 550.2,71.4 551.3,71.8 552.5,72.1 553.7,72.5 554.9,72.8 556.1,73.2 557.3,73.6 558.6,73.9 559.8,74.3 561.0,74.7 562.2,75.1 563.4,75.5 564.5,75.9 565.7,76.3 566.8,76.7 567.9,77.1 569.0,77.6 570.0,78.0 571.2,78.5 572.3,79.1 573.4,79.7 574.5,80.2 575.5,80.8 576.5,81.4 577.6,82.0 578.7,82.6 579.8,83.1 581.1,83.7 582.1,84.1 583.1,84.5 584.1,84.9 585.2,85.3 586.4,85.6 587.5,86.0 588.7,86.4 589.9,86.8 591.1,87.2 592.4,87.5 593.6,87.9 594.8,88.3 596.0,88.7 597.2,89.0 598.4,89.4 599.5,89.8 600.7,90.2 601.8,90.5 602.8,90.9 604.0,91.4 605.2,91.8 606.3,92.3 607.4,92.7 608.5,93.2 609.6,93.6 610.6,94.1 611.7,94.5 612.8,95.0 613.9,95.4 615.0,95.8 616.1,96.3 617.3,96.7 618.4,97.1 619.5,97.5 620.6,97.8 621.8,98.2 623.0,98.6 624.1,98.9 625.3,99.3 626.5,99.6 627.7,100.0 628.9,100.4 630.1,100.7 631.3,101.1 632.5,101.4 633.6,101.8 634.8,102.1 636.0,102.5"/>
<path class="rd" d="M469.2,7.0 469.3,8.2 469.3,9.4 469.3,10.6 469.4,11.8 469.4,12.9 469.5,14.1 469.5,15.3 469.6,16.5 469.6,17.7 469.7,18.9 469.7,20.1 469.8,21.3 469.8,22.5 469.9,23.8 470.0,25.0 470.1,26.2 470.2,27.4 470.3,28.6 470.4,29.8 470.5,31.1 470.7,32.3 470.8,33.6 470.9,34.8 471.1,36.1 471.2,37.3 471.3,38.6 471.4,39.8 471.6,41.1 471.7,42.3 471.8,43.5 471.8,44.8 471.9,46.0 471.9,47.3 472.0,48.5 471.9,49.8 471.9,51.1 471.9,52.4 471.8,53.7 471.7,55.0 471.7,56.2 471.6,57.5 471.6,58.8 471.6,60.0 471.6,61.2 471.6,62.5 471.7,63.7 471.8,64.8 471.9,66.0 472.1,67.2 472.4,68.5 472.6,69.7 473.0,70.8 473.3,72.0 473.7,73.1 474.1,74.3 474.5,75.4 474.9,76.5 475.2,77.7 475.6,78.8 476.0,79.9 476.3,81.1 476.6,82.3 477.0,83.6 477.3,84.8 477.6,86.1 477.9,87.3 478.2,88.6 478.5,89.8 478.9,91.0 479.2,92.3 479.5,93.5 479.8,94.8 480.1,96.0"/>
<path class="ro" d="M480.1,96.0 480.8,97.1 481.5,98.2 482.1,99.3 482.8,100.5 483.5,101.6 484.1,102.7 484.8,103.9 485.5,105.0 486.2,106.0 486.9,107.1 487.6,108.1 488.4,109.1 489.2,110.1 490.0,111.0 490.9,112.0 491.8,112.9 492.6,113.8 493.5,114.6 494.4,115.5 495.3,116.3 496.2,117.1 497.0,117.8 497.8,118.5 498.9,119.4 499.9,120.2 500.9,121.0 501.9,121.7 502.9,122.4 504.0,123.0 505.1,123.5 506.3,124.0 507.5,124.3 508.7,124.7 510.0,125.1 511.4,125.5 512.4,125.9 513.4,126.2 514.5,126.6 515.6,127.1 516.7,127.5 517.8,127.9 519.0,128.3 520.2,128.8 521.4,129.2 522.7,129.5 524.0,129.9 525.1,130.2 526.2,130.4 527.4,130.7 528.6,130.9 529.9,131.2 531.1,131.4 532.4,131.6 533.7,131.9 535.0,132.1 536.3,132.3 537.6,132.5 538.9,132.7 540.2,132.9 541.4,133.0 542.7,133.2 543.8,133.3 545.0,133.5 546.3,133.7 547.6,133.8 548.8,134.0 549.9,134.1 551.1,134.2 552.2,134.3 553.4,134.4 554.6,134.5 555.8,134.6 557.1,134.6 558.5,134.7 560.0,134.8 560.9,134.8 561.9,134.9 562.9,134.9 564.0,135.0 565.0,135.0 566.1,135.0 567.3,135.1 568.4,135.1 569.6,135.1 570.8,135.2 572.0,135.2 573.2,135.2 574.5,135.2 575.7,135.3 577.0,135.3 578.3,135.3 579.6,135.3 580.9,135.3 582.2,135.4 583.5,135.4 584.8,135.4 586.1,135.4 587.4,135.4 588.7,135.4 590.0,135.5 591.3,135.5 592.6,135.5 593.9,135.5 595.1,135.5 596.4,135.5 597.6,135.6 598.8,135.6 600.0,135.6 601.2,135.6 602.5,135.6 603.7,135.7 604.9,135.7 606.1,135.7 607.3,135.7 608.5,135.7 609.7,135.8 610.9,135.8 612.1,135.8 613.3,135.8 614.5,135.8 615.7,135.8 616.9,135.9 618.1,135.9 619.3,135.9 620.5,135.9 621.7,135.9 622.9,135.9 624.1,135.9 625.3,136.0 626.4,136.0 627.6,136.0 628.8,136.0 630.0,136.0 631.2,136.0 632.4,136.1 633.6,136.1 634.8,136.1 636.0,136.1"/>
<path class="b" d="M485.3,7.0 485.8,8.1 486.2,9.3 486.7,10.4 487.1,11.6 487.6,12.7 488.0,13.8 488.5,14.9 489.0,16.0 489.5,17.1 490.1,18.2 490.6,19.3 491.2,20.4 491.8,21.4 492.4,22.5 493.1,23.7 493.7,24.7 494.4,25.8 495.1,26.9 495.8,28.0 496.5,29.1 497.3,30.2 498.0,31.4 498.7,32.5 499.5,33.6 500.2,34.7 500.9,35.8 501.6,36.8 502.2,37.9 502.9,39.0 503.6,40.0 504.2,41.1 504.9,42.1 505.6,43.1 506.3,44.1 507.0,45.0 507.8,46.0 508.6,46.9 509.4,47.9 510.2,48.7 511.0,49.6 511.9,50.4 512.7,51.2 513.6,52.0 514.6,52.8 515.5,53.6 516.5,54.4 517.5,55.1 518.6,55.7 519.8,56.4 521.1,57.0 522.0,57.4 523.0,57.7 524.1,58.0 525.2,58.3 526.3,58.6 527.5,58.9 528.7,59.2 530.0,59.4 531.2,59.7 532.5,59.9 533.8,60.1 535.1,60.4 536.3,60.6 537.6,60.9 538.8,61.1 540.0,61.4 541.2,61.7 542.4,62.0 543.6,62.2 544.8,62.5 545.9,62.8 547.1,63.1 548.3,63.4 549.5,63.7 550.7,63.9 551.9,64.2 553.1,64.5 554.2,64.8 555.4,65.0 556.5,65.3 557.7,65.5 558.8,65.8 560.1,66.1 561.5,66.3 562.8,66.5 564.1,66.7 565.4,66.9 566.7,67.1 568.0,67.4 569.2,67.6 570.4,67.9 571.6,68.2 572.8,68.6 573.9,69.0 575.0,69.5 576.1,70.1 577.1,70.8 578.1,71.5 579.1,72.2 580.1,72.9 581.0,73.7 582.0,74.5 583.0,75.2 584.0,76.0 584.9,76.7 585.9,77.4 586.8,78.2 587.8,79.0 588.7,79.7 589.7,80.5 590.6,81.3 591.6,82.1 592.6,82.9 593.6,83.6 594.6,84.4 595.6,85.1 596.6,85.8 597.5,86.4 598.5,87.1 599.4,87.7 600.4,88.4 601.3,89.0 602.3,89.7 603.3,90.3 604.4,90.9 605.4,91.5 606.5,92.1 607.6,92.7 608.8,93.3 610.0,93.8 611.0,94.2 612.0,94.6 613.1,95.0 614.2,95.4 615.3,95.7 616.5,96.1 617.6,96.4 618.8,96.7 620.0,97.1 621.2,97.4 622.5,97.7 623.7,98.0 624.9,98.3 626.2,98.6 627.4,98.9 628.7,99.2 629.9,99.4 631.2,99.7 632.4,100.1 633.6,100.4 634.8,100.7 636.0,101.0"/>
<path class="b" d="M499.4,7.0 499.6,8.2 499.7,9.4 499.9,10.6 500.1,11.9 500.2,13.1 500.4,14.3 500.6,15.6 500.7,16.8 500.9,18.0 501.1,19.2 501.3,20.4 501.4,21.5 501.6,22.6 501.8,23.7 502.0,25.0 502.3,26.3 502.5,27.5 502.8,28.7 503.0,29.9 503.3,31.1 503.5,32.3 503.8,33.5 504.1,34.7 504.4,36.0 504.8,37.3 505.1,38.6 505.5,39.9 505.9,41.2 506.2,42.5 506.6,43.7 506.9,44.9 507.2,46.0 507.5,47.3 507.7,48.5 508.0,49.7 508.2,50.8 508.6,52.0 509.1,53.2 509.6,54.5 510.2,55.8 510.8,57.1 511.6,58.4 512.3,59.5 513.0,60.4 513.9,61.3 514.7,62.1 515.6,62.8 516.5,63.7 517.4,64.6 518.2,65.5 519.0,66.4 519.8,67.3 520.7,68.3 521.6,69.3 522.4,70.4 523.3,71.4 524.1,72.4 524.9,73.4 525.7,74.5 526.5,75.5 527.3,76.6 528.1,77.7 528.9,78.8 529.7,79.9 530.4,80.9 531.2,82.0 531.9,83.1 532.6,84.1 533.3,85.2 534.0,86.2 534.6,87.3 535.4,88.3 536.2,89.3 537.1,90.3 537.9,91.1 538.8,91.9 539.8,92.6 540.7,93.3 541.8,94.1 542.8,94.8 543.9,95.5 544.9,96.2 546.0,96.8 547.1,97.5 548.1,98.1 549.2,98.8 550.3,99.4 551.3,100.0 552.4,100.7 553.5,101.2 554.6,101.8 555.7,102.4 556.9,102.9 558.2,103.5 559.5,104.0 560.5,104.4 561.6,104.7 562.7,105.1 563.8,105.4 565.0,105.8 566.1,106.1 567.3,106.4 568.6,106.8 569.8,107.1 571.1,107.4 572.3,107.7 573.6,107.9 574.9,108.2 576.1,108.5 577.4,108.8 578.6,109.0 579.9,109.3 581.1,109.5 582.3,109.7 583.5,109.9 584.6,110.1 585.8,110.3 587.0,110.5 588.1,110.7 589.3,110.9 590.5,111.0 591.6,111.2 592.8,111.3 594.0,111.5 595.2,111.6 596.4,111.7 597.7,111.9 598.9,112.0 600.2,112.2 601.5,112.3 602.8,112.5 603.9,112.6 605.0,112.8 606.2,112.9 607.3,113.0 608.5,113.2 609.7,113.3 610.9,113.4 612.1,113.6 613.3,113.7 614.6,113.8 615.8,113.9 617.1,114.1 618.3,114.2 619.6,114.3 620.9,114.5 622.1,114.6 623.4,114.7 624.7,114.8 625.9,115.0 627.2,115.1 628.5,115.2 629.8,115.4 631.0,115.5 632.3,115.6 633.5,115.7 634.8,115.9 636.0,116.0"/>
<path class="rd" d="M491.5,7.0 491.6,8.2 491.7,9.5 491.8,10.8 491.9,12.1 492.0,13.4 492.1,14.8 492.2,16.1 492.3,17.5 492.4,18.8 492.5,20.2 492.6,21.6 492.7,23.0 492.8,24.4 492.9,25.7 493.0,27.1 493.1,28.4 493.2,29.8 493.3,31.1 493.4,32.4 493.5,33.6 493.6,34.9 493.7,36.1 493.8,37.3 493.9,38.4 494.0,39.5 494.1,40.6 494.2,41.6 494.3,42.6 494.4,43.5 494.5,44.4 494.6,45.2 494.7,46.0 494.9,47.5 495.1,48.8 495.2,49.9 495.4,51.0 495.7,52.1 496.0,53.3 496.4,54.4 496.8,55.5 497.3,56.6 497.8,57.8 498.4,58.9 498.9,60.1 499.5,61.3 500.0,62.4 500.5,63.5 501.0,64.6 501.5,65.8 501.9,67.0 502.3,68.1 502.7,69.3 503.1,70.4 503.6,71.5 504.1,72.7 504.6,73.7 505.2,74.8 505.8,75.8 506.5,76.8 507.1,77.9 507.8,78.9 508.5,79.9 509.2,81.0 509.8,82.0"/>
<path class="ro" d="M509.8,82.0 510.8,83.2 512.0,84.5 512.7,85.3 513.5,86.3 514.3,87.4 515.2,88.5 516.2,89.6 517.2,90.7 518.2,91.8 519.0,92.6 519.9,93.4 520.8,94.2 521.7,95.0 522.7,95.8 523.6,96.6 524.6,97.4 525.6,98.2 526.7,98.9 527.7,99.7 528.7,100.4 529.6,101.1 530.7,101.8 531.7,102.5 532.7,103.2 533.8,103.8 534.8,104.5 535.9,105.1 537.0,105.8 538.1,106.4 539.1,107.0 540.2,107.5 541.3,108.0 542.4,108.6 543.5,109.1 544.7,109.5 545.8,110.0 546.9,110.4 548.1,110.8 549.2,111.2 550.4,111.6 551.6,111.9 552.8,112.3 554.0,112.6 555.2,112.9 556.4,113.2 557.7,113.4 558.9,113.7 560.1,113.9 561.4,114.1 562.7,114.3 564.0,114.5 565.3,114.8 566.6,115.0 568.0,115.2 569.1,115.4 570.2,115.6 571.3,115.7 572.4,115.9 573.5,116.1 574.6,116.3 575.8,116.5 576.9,116.6 578.1,116.8 579.2,117.0 580.4,117.1 581.7,117.3 582.9,117.5 584.2,117.7 585.6,117.8 587.0,118.0 588.4,118.2 589.4,118.3 590.4,118.4 591.4,118.6 592.5,118.7 593.5,118.8 594.6,118.9 595.7,119.1 596.9,119.2 598.0,119.3 599.2,119.4 600.4,119.6 601.6,119.7 602.8,119.8 604.0,120.0 605.3,120.1 606.5,120.2 607.8,120.3 609.0,120.5 610.3,120.6 611.6,120.7 612.9,120.9 614.2,121.0 615.5,121.1 616.8,121.3 618.1,121.4 619.4,121.5 620.7,121.6 622.0,121.8 623.3,121.9 624.6,122.0 625.9,122.2 627.2,122.3 628.5,122.4 629.8,122.6 631.0,122.7 632.3,122.8 633.5,122.9 634.8,123.1 636.0,123.2"/>
<path class="rd" d="M514.3,7.0 514.5,8.2 514.7,9.4 515.0,10.6 515.2,11.9 515.4,13.1 515.6,14.4 515.8,15.6 516.0,16.8 516.2,18.0 516.5,19.2 516.7,20.4 517.0,21.5 517.2,22.6 517.5,23.7 517.9,25.0 518.3,26.3 518.7,27.6 519.1,28.8 519.5,30.0 520.0,31.1 520.4,32.3 520.9,33.5 521.4,34.7 521.9,35.9 522.4,37.0 522.9,38.2 523.5,39.4 524.0,40.6 524.6,41.8 525.2,42.9 525.8,44.0 526.3,45.0 526.9,46.0 527.6,47.1 528.2,48.1 528.8,49.1 529.5,50.0 530.3,51.0 531.2,52.0 531.9,52.7 532.6,53.5 533.5,54.3 534.4,55.1 535.3,55.9 536.3,56.7 537.3,57.6 538.3,58.4 539.3,59.3 540.3,60.1 541.2,60.9 542.1,61.7 542.9,62.5 543.7,63.3 544.6,64.3 545.5,65.2 546.2,66.1 547.0,67.0 547.7,67.9 548.4,68.8 549.2,69.8 550.0,70.8 550.8,71.7 551.5,72.7 552.3,73.7 553.1,74.7 553.9,75.7 554.7,76.8 555.5,77.8 556.4,78.9 557.2,79.9 558.0,81.0 558.8,82.0"/>
<path class="ro" d="M558.8,82.0 559.8,82.7 560.7,83.5 561.7,84.2 562.6,84.9 563.6,85.6 564.6,86.4 565.6,87.1 566.7,88.0 567.5,88.7 568.4,89.4 569.4,90.2 570.4,91.0 571.4,91.8 572.4,92.6 573.4,93.5 574.4,94.4 575.5,95.2 576.5,96.0 577.5,96.8 578.4,97.6 579.4,98.3 580.3,99.0 581.1,99.6 582.2,100.4 583.2,101.1 584.2,101.7 585.2,102.3 586.2,102.8 587.2,103.4 588.4,104.0 589.4,104.5 590.6,105.0 591.7,105.6 593.0,106.1 594.3,106.7 595.6,107.2 596.9,107.8 598.2,108.3 599.4,108.8 600.6,109.2 601.7,109.6 602.8,110.0 604.1,110.4 605.2,110.7 606.3,111.0 607.3,111.3 608.6,111.5 610.0,111.8 610.9,112.0 611.8,112.1 612.9,112.3 613.9,112.5 615.1,112.7 616.2,112.8 617.5,113.0 618.7,113.2 620.0,113.4 621.3,113.5 622.7,113.7 624.0,113.9 625.4,114.1 626.7,114.3 628.1,114.4 629.5,114.6 630.8,114.8 632.1,115.0 633.5,115.1 634.7,115.3 636.0,115.5"/>
<path class="b" d="M532.0,7.0 532.5,8.1 533.0,9.2 533.5,10.4 534.0,11.5 534.5,12.7 535.0,13.8 535.5,14.9 536.1,16.0 536.6,17.1 537.1,18.2 537.6,19.2 538.2,20.2 538.9,21.4 539.7,22.6 540.4,23.7 541.2,24.8 542.0,25.8 542.8,26.9 543.6,27.9 544.4,29.0 545.2,30.0 545.9,30.9 546.7,31.9 547.5,32.8 548.4,33.8 549.2,34.7 550.0,35.6 550.7,36.5 551.5,37.4 552.3,38.4 553.1,39.4 553.8,40.3 554.6,41.3 555.4,42.2 556.2,43.1 557.0,44.0 557.9,44.9 558.8,45.8 559.8,46.7 560.8,47.5 561.8,48.4 562.9,49.2 564.0,50.0 565.0,50.6 566.0,51.3 567.1,51.9 568.2,52.5 569.3,53.1 570.5,53.7 571.6,54.2 572.8,54.8 573.9,55.3 575.0,55.8 576.2,56.3 577.4,56.8 578.6,57.3 579.8,57.8 581.0,58.2 582.3,58.6 583.6,59.0 584.9,59.4 586.0,59.7 587.2,60.0 588.4,60.2 589.7,60.5 591.0,60.7 592.3,60.9 593.6,61.1 594.9,61.3 596.1,61.6 597.4,61.8 598.6,62.0 599.7,62.3 601.1,62.6 602.4,62.9 603.7,63.2 604.9,63.6 606.1,63.9 607.3,64.3 608.5,64.8 609.6,65.3 610.7,65.9 611.7,66.5 612.7,67.2 613.6,68.0 614.5,68.8 615.5,69.6 616.4,70.4 617.4,71.2 618.3,72.0 619.3,72.9 620.2,73.8 621.1,74.7 622.1,75.6 623.0,76.5 624.0,77.4 625.0,78.2 626.0,79.0 627.0,79.7 628.1,80.4 629.2,81.0 630.3,81.6 631.5,82.2 632.6,82.7 633.7,83.3 634.9,83.9 636.0,84.5"/>
<path class="b" d="M539.7,7.0 540.1,8.1 540.5,9.3 541.0,10.4 541.4,11.6 541.8,12.7 542.2,13.9 542.6,15.0 543.1,16.1 543.5,17.2 543.9,18.3 544.4,19.6 544.9,20.9 545.4,22.1 545.9,23.4 546.4,24.6 547.0,25.8 547.7,27.0 548.3,28.0 549.0,29.0 549.7,29.9 550.4,30.9 551.2,31.9 552.0,32.8 552.8,33.8 553.6,34.7 554.5,35.6 555.3,36.5 556.2,37.4 557.1,38.3 558.1,39.2 559.0,40.1 560.0,40.9 561.0,41.7 562.0,42.5 563.0,43.3 564.0,44.0 565.1,44.8 566.2,45.5 567.3,46.2 568.5,46.9 569.6,47.6 570.8,48.2 572.0,48.9 573.2,49.5 574.3,50.1 575.4,50.6 576.5,51.1 577.6,51.6 578.7,52.2 579.9,52.7 581.1,53.2 582.3,53.7 583.6,54.1 584.9,54.6 586.0,55.0 587.1,55.3 588.2,55.7 589.3,56.0 590.5,56.4 591.7,56.7 592.9,57.1 594.1,57.4 595.3,57.7 596.6,58.1 597.9,58.4 599.2,58.7 600.5,59.0 601.9,59.3 603.2,59.5 604.6,59.8 605.7,60.0 606.8,60.2 607.9,60.4 609.0,60.5 610.2,60.7 611.3,60.8 612.5,61.0 613.7,61.1 614.9,61.3 616.1,61.4 617.3,61.5 618.6,61.6 619.8,61.8 621.1,61.9 622.3,62.0 623.6,62.1 624.8,62.2 626.1,62.3 627.3,62.4 628.6,62.6 629.8,62.7 631.1,62.8 632.3,62.9 633.6,63.0 634.8,63.2 636.0,63.3"/>
<path class="rd" d="M542.5,7.0 542.7,8.2 542.9,9.5 543.1,10.8 543.3,12.1 543.4,13.4 543.6,14.7 543.8,16.0 544.0,17.3 544.2,18.6 544.3,19.8 544.5,21.1 544.7,22.3 545.0,23.5 545.2,24.7 545.4,25.8 545.7,26.9 546.0,28.0 546.3,29.0 546.8,30.3 547.3,31.6 547.9,32.8 548.5,33.9 549.1,35.0 549.7,36.0 550.3,37.1 550.9,38.2 551.5,39.3 552.0,40.5 552.6,41.8 553.1,43.0 553.6,44.3 554.1,45.6 554.6,46.8 555.1,48.0 555.7,49.1 556.4,50.0 557.4,51.1 558.5,52.1 559.7,52.9 560.9,53.7 562.0,54.5 563.1,55.3 564.2,56.1 565.4,56.8 566.7,57.5 567.6,58.0 568.7,58.4 569.8,58.8 570.9,59.3 572.1,59.7 573.3,60.1 574.6,60.6 575.8,61.0 577.0,61.5 578.1,62.0 579.2,62.4 580.4,62.9 581.6,63.4 582.7,63.9 583.9,64.4 585.1,64.9 586.3,65.4 587.5,65.8 588.6,66.3 589.8,66.8 591.0,67.3 592.2,67.7 593.4,68.2 594.6,68.7 595.8,69.1 597.0,69.6 598.2,70.0 599.4,70.5 600.5,70.9 601.6,71.3 602.6,71.7 603.9,72.2 605.2,72.6 606.4,73.0 607.5,73.5 608.7,74.0 610.0,74.5 611.1,75.0 612.2,75.6 613.3,76.2 614.5,76.8 615.6,77.4 616.8,78.1 617.9,78.7 619.0,79.4 620.1,80.0 621.3,80.7 622.4,81.4 623.6,82.1 624.7,82.9 625.8,83.6 626.9,84.3 628.0,85.0 629.1,85.7 630.3,86.4 631.4,87.1 632.6,87.9 633.7,88.6 634.9,89.3 636.0,90.0"/>
<path class="rd" d="M573.9,7.0 574.1,8.2 574.2,9.5 574.4,10.7 574.6,12.0 574.8,13.3 575.0,14.5 575.2,15.8 575.3,17.0 575.5,18.2 575.7,19.4 575.8,20.5 576.0,21.5 576.1,22.5 576.3,23.9 576.5,25.2 576.6,26.4 576.8,27.6 577.0,29.0 577.2,30.1 577.4,31.3 577.6,32.6 577.9,34.0 578.2,35.4 578.4,36.8 578.7,38.2 579.0,39.6 579.2,40.8 579.5,42.0 579.7,43.0 580.0,44.4 580.2,45.6 580.5,46.7 580.9,48.0 581.3,49.1 581.7,50.2 582.2,51.4 582.8,52.6 583.3,53.9 583.9,55.2 584.4,56.6 584.9,57.9 585.3,59.1 585.6,60.4 585.9,61.7 586.2,63.0 586.5,64.4 586.8,65.8 587.1,67.1 587.5,68.4 587.9,69.6 588.3,70.7 588.8,71.7 589.6,72.8 590.4,73.8 591.3,74.6 592.2,75.4 593.1,76.2 594.0,77.0"/>
<path class="ro" d="M594.0,77.0 594.7,78.0 595.4,79.0 596.2,80.1 596.9,81.1 597.6,82.1 598.3,83.1 599.1,84.1 599.9,85.1 600.7,86.1 601.6,87.0 602.4,87.9 603.3,88.9 604.2,89.8 605.1,90.6 606.1,91.5 607.1,92.3 608.1,93.0 609.1,93.7 610.2,94.4 611.3,95.0 612.4,95.6 613.6,96.2 614.8,96.8 616.0,97.4 617.3,98.1 618.2,98.6 619.2,99.0 620.2,99.5 621.3,100.0 622.4,100.5 623.5,101.0 624.6,101.5 625.7,102.0 626.9,102.5 628.0,103.0 629.2,103.5 630.3,104.0 631.5,104.5 632.6,105.0 633.8,105.5 634.9,106.0 636.0,106.5"/>
<path class="b" d="M586.2,7.0 586.8,8.1 587.3,9.2 587.8,10.3 588.4,11.4 588.9,12.5 589.5,13.5 590.0,14.6 590.5,15.7 591.1,16.8 591.7,17.9 592.2,19.1 592.8,20.2 593.5,21.3 594.1,22.5 594.7,23.5 595.3,24.6 595.9,25.7 596.6,26.9 597.3,28.1 598.0,29.3 598.7,30.5 599.5,31.7 600.2,32.9 600.9,34.1 601.6,35.2 602.3,36.4 603.0,37.5 603.6,38.5 604.3,39.6 604.9,40.5 605.4,41.4 605.9,42.2 606.4,43.0 607.3,44.5 608.0,45.7 608.7,46.8 609.6,48.0 610.3,48.9 611.1,49.9 611.9,51.0 612.8,52.0 613.7,53.1 614.6,54.1 615.5,55.0 616.5,55.9 617.5,56.7 618.6,57.5 619.7,58.3 620.8,59.0 621.9,59.6 623.1,60.2 624.4,60.8 625.4,61.2 626.5,61.6 627.7,61.9 628.8,62.3 630.0,62.6 631.2,62.8 632.4,63.1 633.6,63.4 634.8,63.7 636.0,64.0"/>
<path class="b" d="M597.7,7.0 598.1,8.2 598.6,9.5 598.9,10.7 599.4,11.9 599.8,13.2 600.3,14.4 600.8,15.6 601.4,16.7 602.0,17.7 602.7,18.7 603.4,19.7 604.2,20.7 605.0,21.6 605.8,22.6 606.7,23.5 607.6,24.4 608.6,25.3 609.4,26.0 610.3,26.7 611.2,27.4 612.2,28.1 613.2,28.8 614.2,29.5 615.2,30.2 616.3,30.8 617.4,31.5 618.4,32.1 619.5,32.8 620.5,33.4 621.6,34.0 622.7,34.6 623.8,35.2 624.8,35.8 625.9,36.4 627.1,37.0 628.2,37.6 629.3,38.1 630.4,38.7 631.5,39.2 632.7,39.8 633.8,40.4 634.9,40.9 636.0,41.5"/>
<path class="rd" d="M599.9,7.0 600.4,8.2 600.9,9.5 601.4,10.7 601.9,11.9 602.4,13.2 602.9,14.4 603.5,15.6 604.2,16.7 604.9,17.7 605.6,18.7 606.3,19.7 607.1,20.6 607.9,21.5 608.7,22.5 609.6,23.4 610.5,24.3 611.5,25.3 612.3,26.1 613.2,26.8 614.0,27.6 615.0,28.5 616.0,29.3 616.9,30.1 618.0,30.9 619.0,31.7 620.0,32.5 621.0,33.3 622.1,34.1 623.1,34.9 624.0,35.6 625.0,36.3 625.9,36.9 627.1,37.7 628.2,38.4 629.4,39.1 630.5,39.8 631.6,40.4 632.7,41.1 633.8,41.7 634.9,42.3 636.0,43.0"/>
<path class="b" d="M606.4,7.0 606.7,8.2 606.9,9.4 607.1,10.7 607.4,11.9 607.6,13.1 607.9,14.3 608.2,15.5 608.6,16.7 609.0,17.8 609.4,18.9 609.9,20.0 610.4,21.1 610.9,22.2 611.5,23.2 612.2,24.3 612.9,25.3 613.6,26.2 614.4,27.0 615.2,27.8 616.1,28.7 617.0,29.5 618.0,30.3 618.9,31.0 619.9,31.8 621.0,32.6 622.0,33.3 623.0,34.0 624.0,34.7 625.0,35.3 626.1,35.9 627.2,36.5 628.2,37.1 629.3,37.6 630.5,38.2 631.6,38.7 632.7,39.3 633.8,39.9 634.9,40.4 636.0,41.0"/>
<path class="rd" d="M610.0,7.0 610.3,8.3 610.6,9.5 610.9,10.8 611.2,12.1 611.4,13.3 611.7,14.6 612.0,15.9 612.3,17.1 612.6,18.4 612.9,19.6 613.2,20.9 613.6,22.2 613.9,23.5 614.2,24.7 614.6,26.0 614.9,27.3 615.2,28.5 615.5,29.8 615.8,31.1 616.0,32.3 616.3,33.5 616.5,34.8 616.7,36.1 616.8,37.4 617.0,38.6 617.2,39.8 617.5,41.0 617.7,42.0 618.0,43.0 618.5,44.4 619.0,45.6 619.7,46.7 620.4,48.0 620.9,48.9 621.5,49.8 622.1,50.8 622.8,51.8 623.5,52.8 624.2,53.9 625.0,54.9 625.8,55.9 626.5,56.9 627.3,57.9 628.1,58.9 628.9,59.8 629.8,60.7 630.7,61.6 631.5,62.5 632.4,63.4 633.3,64.3 634.2,65.2 635.1,66.1 636.0,67.0"/>
<path class="b" d="M628.1,7.0 628.6,8.2 629.1,9.5 629.6,10.8 630.2,12.1 630.7,13.4 631.2,14.7 631.7,15.8 632.2,16.9 632.7,17.9 633.2,18.8 634.1,20.1 635.1,21.0 636.0,22.0"/>
<path class="b" d="M370.6,188.0 371.1,187.1 371.5,186.0 371.8,184.9 372.1,183.7 372.3,182.4 372.6,181.0 372.9,179.7 373.2,178.3 373.5,176.9 373.8,175.6 374.1,174.4 374.7,172.7 375.3,171.5 375.8,170.9 376.4,170.7 377.0,171.1 377.6,171.8 378.1,173.0 378.6,174.4 379.0,175.5 379.5,176.7 380.1,177.9 380.8,178.8 382.3,179.5 383.8,179.9 384.8,180.2 386.0,180.4 387.0,180.3 388.1,180.2 389.4,179.9 390.8,179.6 392.2,179.3 393.5,179.0 394.8,178.7 396.1,178.4 397.3,178.1 398.5,177.9 399.8,177.6 401.0,177.3 402.4,177.0 403.6,176.7 404.8,176.5 406.1,176.2 407.4,175.9 408.8,175.7 410.1,175.4 411.4,175.1 412.7,174.9 414.0,174.6 415.3,174.3 416.4,174.1 417.6,173.8 418.7,173.6 419.9,173.3 421.2,173.1 422.5,172.8 424.0,172.5 424.9,172.3 425.9,172.2 426.9,172.0 428.0,171.8 429.1,171.6 430.3,171.4 431.5,171.2 432.7,171.0 434.0,170.8 435.2,170.5 436.5,170.3 437.8,170.1 439.1,169.9 440.4,169.7 441.7,169.5 443.0,169.3 444.3,169.1 445.5,168.9 446.8,168.7 448.0,168.5 449.2,168.3 450.3,168.2 451.4,168.0 452.7,167.8 454.0,167.6 455.3,167.4 456.5,167.3 457.7,167.1 458.9,167.0 460.1,166.8 461.2,166.7 462.4,166.5 463.6,166.4 464.8,166.2 466.1,166.0 467.3,165.9 468.6,165.7 470.0,165.5 471.1,165.3 472.2,165.2 473.3,165.0 474.5,164.9 475.7,164.7 476.9,164.5 478.2,164.3 479.4,164.1 480.7,163.9 482.0,163.7 483.3,163.6 484.6,163.4 485.8,163.2 487.1,163.0 488.4,162.8 489.7,162.6 490.9,162.4 492.1,162.3 493.4,162.1 494.5,161.9 495.7,161.8 496.8,161.6 497.9,161.5 499.0,161.3 500.0,161.2 501.4,161.0 502.7,160.9 504.0,160.7 505.2,160.6 506.3,160.5 507.5,160.4 508.6,160.3 509.8,160.2 511.0,160.1 512.3,160.0 513.6,159.8 515.0,159.7 516.0,159.6 517.1,159.5 518.1,159.4 519.3,159.3 520.4,159.2 521.6,159.1 522.8,159.0 524.0,158.9 525.2,158.8 526.4,158.6 527.7,158.5 529.0,158.4 530.2,158.3 531.5,158.2 532.8,158.1 534.1,158.0 535.3,157.9 536.6,157.7 537.9,157.6 539.1,157.5 540.3,157.4 541.5,157.3 542.7,157.2 543.9,157.1 545.0,157.0 546.3,156.9 547.5,156.8 548.8,156.7 550.0,156.6 551.2,156.5 552.4,156.4 553.5,156.3 554.7,156.2 555.9,156.1 557.0,155.9 558.2,155.8 559.4,155.7 560.6,155.6 561.8,155.5 563.0,155.4 564.2,155.3 565.4,155.2 566.7,155.1 568.0,155.0 569.1,154.9 570.3,154.8 571.4,154.7 572.6,154.6 573.8,154.5 575.0,154.4 576.2,154.3 577.4,154.2 578.6,154.1 579.8,153.9 581.1,153.8 582.3,153.7 583.6,153.6 584.8,153.5 586.1,153.4 587.3,153.3 588.6,153.2 589.8,153.1 591.1,152.9 592.4,152.8 593.6,152.7 594.9,152.6 596.2,152.5 597.5,152.4 598.7,152.3 600.0,152.2 601.2,152.1 602.3,152.0 603.5,151.9 604.7,151.8 605.9,151.7 607.1,151.6 608.3,151.6 609.4,151.5 610.6,151.4 611.8,151.3 613.0,151.2 614.2,151.1 615.5,151.0 616.7,150.9 617.9,150.8 619.1,150.7 620.3,150.7 621.5,150.6 622.7,150.5 623.9,150.4 625.1,150.3 626.3,150.2 627.6,150.1 628.8,150.0 630.0,149.9 631.2,149.9 632.4,149.8 633.6,149.7 634.8,149.6 636.0,149.5"/>
<path class="ro" d="M370.4,189.0 370.7,187.8 370.9,186.5 371.2,185.3 371.5,184.0 371.8,182.7 372.0,181.4 372.3,180.0 372.7,178.7 373.0,177.5 373.4,176.2 373.8,174.9 374.3,173.8 374.8,173.0 375.6,172.4 376.4,172.2 377.2,172.9 378.0,174.0 378.6,175.1 379.3,176.4 380.0,177.5 381.2,178.7 382.5,179.6 383.4,179.8 384.5,179.8 385.3,179.7 386.2,179.4 387.2,179.1 388.4,178.7 389.6,178.3 390.8,177.8 392.1,177.3 393.5,176.8 394.8,176.4 395.8,176.1 397.0,175.7 398.1,175.4 399.3,175.0 400.6,174.6 401.8,174.2 403.1,173.8 404.4,173.4 405.7,173.1 407.0,172.7 408.3,172.3 409.5,171.9 410.7,171.6 411.9,171.2 413.0,170.9 414.0,170.6 415.4,170.2 416.6,169.8 417.8,169.5 419.0,169.1 420.1,168.8 421.3,168.5 422.6,168.1 424.0,167.8 425.0,167.6 426.1,167.3 427.2,167.1 428.4,166.9 429.5,166.6 430.8,166.4 432.0,166.2 433.3,166.0 434.5,165.7 435.8,165.5 437.1,165.3 438.5,165.0 439.8,164.8 441.1,164.5 442.4,164.3 443.7,164.1 445.0,163.8 446.1,163.6 447.3,163.3 448.4,163.1 449.6,162.9 450.8,162.6 451.9,162.4 453.1,162.1 454.3,161.9 455.4,161.6 456.6,161.4 457.8,161.1 459.0,160.9 460.2,160.6 461.4,160.4 462.6,160.1 463.8,159.9 465.1,159.6 466.3,159.4 467.5,159.1 468.8,158.9 470.0,158.7 471.1,158.5 472.3,158.3 473.4,158.1 474.6,157.9 475.7,157.7 476.9,157.5 478.0,157.4 479.2,157.2 480.3,157.0 481.5,156.8 482.7,156.6 483.8,156.5 485.0,156.3 486.2,156.1 487.4,155.9 488.6,155.8 489.8,155.6 491.1,155.4 492.3,155.3 493.6,155.1 494.8,154.9 496.1,154.8 497.4,154.6 498.7,154.5 500.0,154.3 501.1,154.2 502.2,154.0 503.4,153.9 504.5,153.8 505.7,153.6 506.9,153.5 508.2,153.4 509.4,153.3 510.6,153.1 511.9,153.0 513.2,152.9 514.4,152.8 515.7,152.6 517.0,152.5 518.3,152.4 519.6,152.3 520.9,152.1 522.2,152.0 523.5,151.9 524.8,151.8 526.1,151.7 527.4,151.6 528.7,151.4 529.9,151.3 531.2,151.2 532.4,151.1 533.7,151.0 534.9,150.9 536.1,150.8 537.3,150.7 538.5,150.6 539.6,150.5 540.7,150.4 541.8,150.3 542.9,150.2 544.0,150.1 545.0,150.0 546.4,149.9 547.7,149.7 549.0,149.6 550.3,149.5 551.5,149.4 552.7,149.3 553.9,149.2 555.0,149.1 556.2,149.0 557.3,148.9 558.4,148.7 559.6,148.6 560.7,148.6 561.9,148.5 563.0,148.4 564.2,148.3 565.5,148.2 566.7,148.1 568.0,148.0 569.1,147.9 570.3,147.9 571.4,147.8 572.6,147.7 573.8,147.7 575.0,147.6 576.2,147.5 577.4,147.5 578.6,147.4 579.8,147.3 581.1,147.3 582.3,147.2 583.6,147.2 584.8,147.1 586.1,147.1 587.3,147.0 588.6,147.0 589.8,146.9 591.1,146.9 592.4,146.8 593.6,146.8 594.9,146.7 596.2,146.7 597.5,146.6 598.7,146.6 600.0,146.5 601.2,146.5 602.3,146.4 603.5,146.4 604.7,146.3 605.9,146.3 607.1,146.2 608.3,146.2 609.4,146.1 610.6,146.1 611.8,146.0 613.0,146.0 614.2,145.9 615.5,145.9 616.7,145.8 617.9,145.8 619.1,145.7 620.3,145.7 621.5,145.7 622.7,145.6 623.9,145.6 625.1,145.5 626.3,145.5 627.6,145.4 628.8,145.4 630.0,145.3 631.2,145.3 632.4,145.2 633.6,145.2 634.8,145.1 636.0,145.1"/>
<path class="r" d="M370.2,190.9 371.1,190.2 372.0,189.5 373.4,188.6 374.9,187.7 375.9,187.1 377.0,186.4 378.0,185.8 379.4,185.0 380.8,184.2 382.1,183.7 383.5,183.2 385.1,182.7 386.7,182.3 388.3,181.9 390.0,181.4 391.3,181.1 392.8,180.8 394.2,180.5 395.6,180.2 397.1,179.7 398.6,179.2 400.0,178.6"/>
<path class="ro" d="M398.0,178.2 399.4,177.8 400.8,177.4 402.4,177.0 403.4,176.8 404.6,176.5 405.9,176.2 407.2,176.0 408.6,175.7 410.0,175.4 411.4,175.1 412.7,174.9 414.0,174.6 415.3,174.3 416.4,174.1 417.6,173.8 418.7,173.6 419.9,173.3 421.2,173.1 422.5,172.8 424.0,172.5 424.9,172.3 425.9,172.2 426.9,172.0 428.0,171.8 429.1,171.6 430.3,171.4 431.5,171.2 432.7,171.0 434.0,170.8 435.2,170.5 436.5,170.3 437.8,170.1 439.1,169.9 440.4,169.7 441.7,169.5 443.0,169.3 444.3,169.1 445.5,168.9 446.8,168.7 448.0,168.5 449.2,168.3 450.3,168.2 451.4,168.0 452.7,167.8 454.0,167.6 455.3,167.4 456.5,167.3 457.7,167.1 458.9,167.0 460.1,166.8 461.2,166.7 462.4,166.5 463.6,166.4 464.8,166.2 466.1,166.0 467.3,165.9 468.6,165.7 470.0,165.5 471.1,165.3 472.2,165.2 473.3,165.0 474.5,164.9 475.7,164.7 476.9,164.5 478.2,164.3 479.4,164.1 480.7,163.9 482.0,163.7 483.3,163.6 484.6,163.4 485.8,163.2 487.1,163.0 488.4,162.8 489.7,162.6 490.9,162.4 492.1,162.3 493.4,162.1 494.5,161.9 495.7,161.8 496.8,161.6 497.9,161.5 499.0,161.3 500.0,161.2 501.4,161.0 502.7,160.9 504.0,160.7 505.2,160.6 506.3,160.5 507.5,160.4 508.6,160.3 509.8,160.2 511.0,160.1 512.3,160.0 513.6,159.8 515.0,159.7 516.0,159.6 517.1,159.5 518.1,159.4 519.3,159.3 520.4,159.2 521.6,159.1 522.8,159.0 524.0,158.9 525.2,158.8 526.4,158.6 527.7,158.5 529.0,158.4 530.2,158.3 531.5,158.2 532.8,158.1 534.1,158.0 535.3,157.9 536.6,157.7 537.9,157.6 539.1,157.5 540.3,157.4 541.5,157.3 542.7,157.2 543.9,157.1 545.0,157.0 546.3,156.9 547.5,156.8 548.8,156.7 550.0,156.6 551.2,156.5 552.4,156.4 553.5,156.3 554.7,156.2 555.9,156.1 557.0,155.9 558.2,155.8 559.4,155.7 560.6,155.6 561.8,155.5 563.0,155.4 564.2,155.3 565.4,155.2 566.7,155.1 568.0,155.0 569.1,154.9 570.3,154.8 571.4,154.7 572.6,154.6 573.8,154.5 575.0,154.4 576.2,154.3 577.4,154.2 578.6,154.1 579.8,153.9 581.1,153.8 582.3,153.7 583.6,153.6 584.8,153.5 586.1,153.4 587.3,153.3 588.6,153.2 589.8,153.1 591.1,152.9 592.4,152.8 593.6,152.7 594.9,152.6 596.2,152.5 597.5,152.4 598.7,152.3 600.0,152.2 601.2,152.1 602.3,152.0 603.5,151.9 604.7,151.8 605.9,151.7 607.1,151.6 608.3,151.6 609.4,151.5 610.6,151.4 611.8,151.3 613.0,151.2 614.2,151.1 615.5,151.0 616.7,150.9 617.9,150.8 619.1,150.7 620.3,150.7 621.5,150.6 622.7,150.5 623.9,150.4 625.1,150.3 626.3,150.2 627.6,150.1 628.8,150.0 630.0,149.9 631.2,149.9 632.4,149.8 633.6,149.7 634.8,149.6 636.0,149.5"/>
</g>
<rect class="ax" x="42.6" y="5.4" width="265.2" height="190.8"/>
<path class="ax" d="M42.6 196.2v-2.7M42.6 5.4v2.7"/>
<text class="t" x="42.6" y="209.6" font-size="11.8" text-anchor="middle">0</text>
<path class="ax" d="M105.4 196.2v-2.7M105.4 5.4v2.7"/>
<text class="t" x="105.4" y="209.6" font-size="11.8" text-anchor="middle">50</text>
<path class="ax" d="M168.2 196.2v-2.7M168.2 5.4v2.7"/>
<text class="t" x="168.2" y="209.6" font-size="11.8" text-anchor="middle">100</text>
<path class="ax" d="M230.9 196.2v-2.7M230.9 5.4v2.7"/>
<text class="t" x="230.9" y="209.6" font-size="11.8" text-anchor="middle">150</text>
<path class="ax" d="M293.7 196.2v-2.7M293.7 5.4v2.7"/>
<text class="t" x="293.7" y="209.6" font-size="11.8" text-anchor="middle">200</text>
<path class="ax" d="M42.6 196.2h2.7M307.8 196.2h-2.7"/>
<text class="t" x="40.0" y="200.7" font-size="11.8" text-anchor="end">0</text>
<path class="ax" d="M42.6 164.4h2.7M307.8 164.4h-2.7"/>
<text class="t" x="40.0" y="168.9" font-size="11.8" text-anchor="end">1000</text>
<path class="ax" d="M42.6 132.5h2.7M307.8 132.5h-2.7"/>
<text class="t" x="40.0" y="137.0" font-size="11.8" text-anchor="end">2000</text>
<path class="ax" d="M42.6 100.7h2.7M307.8 100.7h-2.7"/>
<text class="t" x="40.0" y="105.2" font-size="11.8" text-anchor="end">3000</text>
<path class="ax" d="M42.6 68.9h2.7M307.8 68.9h-2.7"/>
<text class="t" x="40.0" y="73.4" font-size="11.8" text-anchor="end">4000</text>
<path class="ax" d="M42.6 37.0h2.7M307.8 37.0h-2.7"/>
<text class="t" x="40.0" y="41.5" font-size="11.8" text-anchor="end">5000</text>
<path class="ax" d="M42.6 5.2h2.7M307.8 5.2h-2.7"/>
<text class="t" x="40.0" y="9.7" font-size="11.8" text-anchor="end">6000</text>
<rect class="ax" x="369.9" y="7.8" width="264.7" height="191.1"/>
<path class="ax" d="M369.9 198.9v-2.7M369.9 7.8v2.7"/>
<text class="t" x="369.9" y="212.2" font-size="11.8" text-anchor="middle">0</text>
<path class="ax" d="M432.5 198.9v-2.7M432.5 7.8v2.7"/>
<text class="t" x="432.5" y="212.2" font-size="11.8" text-anchor="middle">50</text>
<path class="ax" d="M495.1 198.9v-2.7M495.1 7.8v2.7"/>
<text class="t" x="495.1" y="212.2" font-size="11.8" text-anchor="middle">100</text>
<path class="ax" d="M557.8 198.9v-2.7M557.8 7.8v2.7"/>
<text class="t" x="557.8" y="212.2" font-size="11.8" text-anchor="middle">150</text>
<path class="ax" d="M620.4 198.9v-2.7M620.4 7.8v2.7"/>
<text class="t" x="620.4" y="212.2" font-size="11.8" text-anchor="middle">200</text>
<path class="ax" d="M369.9 198.9h2.7M634.6 198.9h-2.7"/>
<text class="t" x="367.0" y="203.4" font-size="11.8" text-anchor="end">0</text>
<path class="ax" d="M369.9 173.4h2.7M634.6 173.4h-2.7"/>
<text class="t" x="367.0" y="177.9" font-size="11.8" text-anchor="end">1000</text>
<path class="ax" d="M369.9 147.8h2.7M634.6 147.8h-2.7"/>
<text class="t" x="367.0" y="152.3" font-size="11.8" text-anchor="end">2000</text>
<path class="ax" d="M369.9 122.3h2.7M634.6 122.3h-2.7"/>
<text class="t" x="367.0" y="126.8" font-size="11.8" text-anchor="end">3000</text>
<path class="ax" d="M369.9 96.7h2.7M634.6 96.7h-2.7"/>
<text class="t" x="367.0" y="101.2" font-size="11.8" text-anchor="end">4000</text>
<path class="ax" d="M369.9 71.2h2.7M634.6 71.2h-2.7"/>
<text class="t" x="367.0" y="75.7" font-size="11.8" text-anchor="end">5000</text>
<path class="ax" d="M369.9 45.7h2.7M634.6 45.7h-2.7"/>
<text class="t" x="367.0" y="50.2" font-size="11.8" text-anchor="end">6000</text>
<path class="ax" d="M369.9 20.1h2.7M634.6 20.1h-2.7"/>
<text class="t" x="367.0" y="24.6" font-size="11.8" text-anchor="end">7000</text>
<text class="t" x="173.6" y="222.8" font-size="11.9" text-anchor="middle">Frequency(kHz)</text>
<text class="t" x="501" y="225.8" font-size="11.9" text-anchor="middle">Frequency(kHz)</text>
<text class="t" x="175.4" y="237.6" font-size="16.8" text-anchor="middle">(a)</text>
<text class="t" x="500.6" y="237.6" font-size="16.8" text-anchor="middle">(b)</text>
<text class="t" transform="translate(9.4,99.9) rotate(-90)" font-size="12.45" text-anchor="middle">Group Velocity, Cg (m/s)</text>
<text class="t" transform="translate(338.4,103.5) rotate(-90)" font-size="12.45" text-anchor="middle">Phase Velocity, Cp (m/s)</text>
<rect x="188.2" y="11.1" width="110.0" height="26.4" fill="#fff" stroke="#555" stroke-width="0.9"/>
<line x1="192.2" y1="18.3" x2="209.6" y2="18.3" stroke="#0000ff" stroke-width="1.9"/>
<line x1="192.2" y1="30.5" x2="209.6" y2="30.5" stroke="#ff0000" stroke-width="1.9" stroke-dasharray="3.5 2.6" stroke-dashoffset="-1.5"/>
<text class="t" x="211.0" y="22.3" font-size="9.6">Symmetric modes</text>
<text class="t" x="211.0" y="34.5" font-size="9.6">Antisymmetric modes</text>
<rect x="515.0" y="165.4" width="109.7" height="26.4" fill="#fff" stroke="#555" stroke-width="0.9"/>
<line x1="519.0" y1="172.9" x2="535.5" y2="172.9" stroke="#0000ff" stroke-width="1.9"/>
<line x1="519.0" y1="185.8" x2="535.5" y2="185.8" stroke="#ff0000" stroke-width="1.9" stroke-dasharray="3.5 2.6" stroke-dashoffset="-1.5"/>
<text class="t" x="537.6" y="176.9" font-size="9.6">Symmetric modes</text>
<text class="t" x="537.6" y="189.8" font-size="9.6">Antisymmetric modes</text>
<text class="m" x="43.5" y="33.4" font-size="10.8" textLength="10.7" lengthAdjust="spacingAndGlyphs">S2</text>
<text class="m" x="62.0" y="33.4" font-size="10.8" textLength="10.5" lengthAdjust="spacingAndGlyphs">S3</text>
<text class="m" x="96.6" y="70.0" font-size="10.8" textLength="10.4" lengthAdjust="spacingAndGlyphs">S4</text>
<text class="m" x="159.9" y="43.2" font-size="10.8" textLength="10.7" lengthAdjust="spacingAndGlyphs">S7</text>
<text class="m" x="193.0" y="57.5" font-size="10.8" textLength="10.7" lengthAdjust="spacingAndGlyphs">S8</text>
<text class="m" x="282.7" y="51.8" font-size="10.8" textLength="16.3" lengthAdjust="spacingAndGlyphs">S11</text>
<text class="m" x="381.5" y="112.5" font-size="10.8" textLength="10.3" lengthAdjust="spacingAndGlyphs">S2</text>
<text class="m" x="395.0" y="70.0" font-size="10.8" textLength="10.5" lengthAdjust="spacingAndGlyphs">S3</text>
<text class="m" x="435.9" y="96.6" font-size="10.8" textLength="10.1" lengthAdjust="spacingAndGlyphs">S4</text>
<text class="m" x="483.7" y="58.9" font-size="10.8" textLength="10.0" lengthAdjust="spacingAndGlyphs">S7</text>
<text class="m" x="532.9" y="78.0" font-size="10.8" textLength="10.7" lengthAdjust="spacingAndGlyphs">S8</text>
<text class="m" x="585.1" y="55.3" font-size="10.8" textLength="15.9" lengthAdjust="spacingAndGlyphs">S11</text>
</svg></body></html>
